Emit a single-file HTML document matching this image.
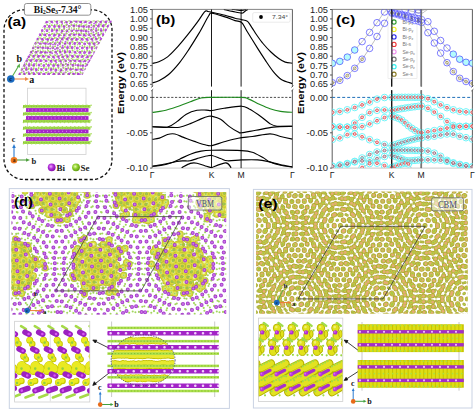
<!DOCTYPE html><html><head><meta charset="utf-8"><style>html,body{margin:0;padding:0;background:#fff;}svg{display:block;}</style></head><body>
<svg width="476" height="414" viewBox="0 0 476 414">
<rect width="476" height="414" fill="#fff"/>
<g fill="none" stroke="#333" stroke-width="0.8">
<line x1="152.2" y1="9.4" x2="292.4" y2="9.4" stroke="#666"/>
<line x1="152.2" y1="9.4" x2="152.2" y2="86.6"/>
<line x1="292.4" y1="9.4" x2="292.4" y2="86.6"/>
<line x1="152.2" y1="90.2" x2="152.2" y2="168.1"/>
<line x1="292.4" y1="90.2" x2="292.4" y2="168.1"/>
<line x1="152.2" y1="168.1" x2="292.4" y2="168.1" stroke="#bbb"/>
<path d="M151.2 87.4 l2 -1.8" />
<path d="M151.2 91 l2 -1.8" />
<path d="M291.4 87.4 l2 -1.8" />
<path d="M291.4 91 l2 -1.8" />
<line x1="150" y1="9.5" x2="152.2" y2="9.5"/>
<line x1="150" y1="18.9" x2="152.2" y2="18.9"/>
<line x1="150" y1="28.2" x2="152.2" y2="28.2"/>
<line x1="150" y1="37.6" x2="152.2" y2="37.6"/>
<line x1="150" y1="46.9" x2="152.2" y2="46.9"/>
<line x1="150" y1="56.2" x2="152.2" y2="56.2"/>
<line x1="150" y1="65.6" x2="152.2" y2="65.6"/>
<line x1="150" y1="75" x2="152.2" y2="75"/>
<line x1="150" y1="84.3" x2="152.2" y2="84.3"/>
<line x1="150" y1="97.4" x2="152.2" y2="97.4"/>
<line x1="150" y1="132.8" x2="152.2" y2="132.8"/>
<line x1="150" y1="168.1" x2="152.2" y2="168.1"/>
</g>
<g font-family="Liberation Sans, sans-serif" font-size="8.6" fill="#222" text-anchor="end">
<text x="148" y="12.6" textLength="18" lengthAdjust="spacingAndGlyphs">1.05</text>
<text x="148" y="22" textLength="18" lengthAdjust="spacingAndGlyphs">1.00</text>
<text x="148" y="31.3" textLength="18" lengthAdjust="spacingAndGlyphs">0.95</text>
<text x="148" y="40.7" textLength="18" lengthAdjust="spacingAndGlyphs">0.90</text>
<text x="148" y="50" textLength="18" lengthAdjust="spacingAndGlyphs">0.85</text>
<text x="148" y="59.4" textLength="18" lengthAdjust="spacingAndGlyphs">0.80</text>
<text x="148" y="68.7" textLength="18" lengthAdjust="spacingAndGlyphs">0.75</text>
<text x="148" y="78.1" textLength="18" lengthAdjust="spacingAndGlyphs">0.70</text>
<text x="148" y="87.4" textLength="18" lengthAdjust="spacingAndGlyphs">0.65</text>
<text x="148" y="100.5" textLength="18" lengthAdjust="spacingAndGlyphs">0.00</text>
<text x="148" y="135.8" textLength="21.5" lengthAdjust="spacingAndGlyphs">-0.05</text>
<text x="148" y="171.2" textLength="21.5" lengthAdjust="spacingAndGlyphs">-0.10</text>
</g>
<g font-family="Liberation Sans, sans-serif" font-size="8.6" fill="#222" text-anchor="middle">
<text x="152.2" y="177.8">Γ</text>
<text x="211.5" y="177.8">K</text>
<text x="241.1" y="177.8">M</text>
<text x="292.4" y="177.8">Γ</text>
</g>
<text transform="translate(124.2 83) rotate(-90)" font-family="Liberation Sans, sans-serif" font-weight="bold" font-size="9" text-anchor="middle" textLength="62" lengthAdjust="spacingAndGlyphs">Energy (eV)</text>
<g stroke="#000" stroke-width="0.9">
<line x1="211.5" y1="9.4" x2="211.5" y2="86.6"/>
<line x1="211.5" y1="90.2" x2="211.5" y2="168.1"/>
<line x1="241.1" y1="9.4" x2="241.1" y2="86.6"/>
<line x1="241.1" y1="90.2" x2="241.1" y2="168.1"/>
</g>
<text x="156" y="24.2" font-family="Liberation Sans, sans-serif" font-weight="bold" font-size="12.6" textLength="19.3" lengthAdjust="spacingAndGlyphs">(b)</text>
<defs><clipPath id="cupb"><rect x="152.2" y="9.4" width="140.2" height="77.2"/></clipPath><clipPath id="clob"><rect x="152.2" y="90.2" width="140.2" height="77.9"/></clipPath><clipPath id="cupc"><rect x="332.2" y="9.4" width="140.2" height="77.2"/></clipPath><clipPath id="cloc"><rect x="332.2" y="90.2" width="140.2" height="77.9"/></clipPath></defs>
<line x1="152.2" y1="97.4" x2="292.4" y2="97.4" stroke="#000" stroke-width="0.7" stroke-dasharray="2.2 1.6"/>
<g fill="none" stroke="#000" stroke-width="1.15" stroke-linejoin="round" clip-path="url(#cupb)">
<path d="M152.4 63.4C153.5 63.1 156.3 62.9 158.8 61.8C161.3 60.7 164.5 59.3 167.6 56.9C170.7 54.5 174.1 50.7 177.4 47.1C180.7 43.5 183.9 39.5 187.2 35.4C190.5 31.3 194.1 26.7 197 22.7C199.9 18.7 203 13.5 204.8 11.6C206.6 9.7 206.8 11.4 208 11.5C209.2 11.6 209.1 11.6 211.9 12.2C214.7 12.8 221.2 14.2 225 15.2C228.8 16.2 232.2 17.5 235 18.2C237.8 18.9 239.6 19.1 241.6 19.6C243.6 20.1 245.7 20.4 246.9 21C248.1 21.6 247.8 21.5 249 23.2C250.2 24.9 252.9 29.2 254.1 31C255.3 32.8 254.5 31.9 256 34C257.5 36.1 260.5 40.5 263 43.5C265.5 46.5 268.3 49.5 270.9 52C273.5 54.5 276.3 56.8 278.7 58.5C281.1 60.2 282.9 61.3 285.2 62.1C287.5 62.9 291.2 63 292.4 63.2"/>
<path d="M152.4 82.8C153.5 82.5 156.1 82.2 158.8 80.8C161.5 79.4 165.2 77.5 168.6 74.5C172 71.5 176 67 179.4 62.8C182.8 58.6 185.8 54 189.1 49.1C192.3 44.2 195.6 38.9 198.9 33.4C202.2 27.8 206.5 19.2 208.7 15.8C210.9 12.4 209.2 13 211.9 13.2C214.6 13.4 221.2 15.7 225 16.9C228.8 18.1 232.2 19.7 235 20.6C237.8 21.5 239.6 20.7 241.6 22.5C243.6 24.3 244.3 26.8 247 31.2C249.7 35.5 254.7 43.7 257.8 48.6C260.9 53.5 263 56.7 265.6 60.6C268.2 64.5 270.9 68.7 273.5 71.8C276.1 74.9 278.2 77.4 281.3 79.4C284.4 81.4 290.5 82.9 292.4 83.6"/>
<path d="M223.8 9.4C225.2 9.7 229.5 10.8 232.5 11.4C235.5 12 239.5 13.1 241.6 13.1C243.7 13.1 243.8 12 244.8 11.4C245.8 10.8 247.3 9.7 247.8 9.4"/>
<path d="M231.8 9.4C232.7 9.5 235.4 9.7 237 9.9C238.6 10.1 240.1 10.5 241.6 10.4C243.1 10.3 245.3 9.6 246 9.4"/>
</g>
<g fill="none" stroke="#000" stroke-width="1.15" stroke-linejoin="round" clip-path="url(#clob)">
<path d="M152.4 126.7C154.9 126.8 163.4 127.9 167.5 127.1C171.6 126.2 173.8 123.8 176.9 121.6C180 119.4 183 116.1 186.3 114.2C189.7 112.3 193.6 111 197 110.3C200.4 109.6 204 110.1 206.5 110.1C209 110.1 209 110.8 211.9 110.5C214.8 110.2 219.2 108.9 224.1 108.2C229 107.5 237.5 106.1 241.6 106.2C245.7 106.3 245.6 107 248.8 108.8C252.1 110.5 257.6 114.2 261.1 116.7C264.6 119.2 267.4 122.1 270 123.7C272.6 125.3 273.3 125.8 277 126.2C280.7 126.6 289.8 126.2 292.4 126.2"/>
<path d="M152.4 126.7C154.9 126.8 163 127.1 167.5 127.2C172 127.3 175.8 127.8 179.6 127.2C183.4 126.6 186.7 125 190.3 123.6C193.9 122.2 198.2 120.1 201.1 118.9C204 117.7 206 116.9 207.8 116.5C209.6 116.1 209.8 115.8 211.9 116.3C214 116.8 217.7 117.6 220.6 119.3C223.5 121 226.5 124.5 229.4 126.6C232.3 128.7 236.2 131.1 238.2 132.1C240.2 133.1 238.6 133.1 241.6 132.8C244.6 132.5 250.6 131.2 255.9 130.3C261.2 129.4 267.4 127.8 273.5 127.1C279.6 126.4 289.2 126.4 292.4 126.3"/>
<path d="M152.4 139.4C153.6 139.2 156.9 138.9 159.4 138.1C161.9 137.3 164.9 135.2 167.5 134.5C170.1 133.8 172.2 133.5 174.9 134C177.6 134.5 180.3 136.2 183.6 137.4C186.8 138.6 190.8 140.2 194.4 141.4C198 142.6 202.2 144.1 205.1 144.8C208 145.5 208.7 146.1 211.9 145.6C215.1 145.1 219.7 143 224.1 141.8C228.5 140.6 233.5 139.1 238.2 138.2C242.9 137.3 247 137.2 252.3 136.5C257.6 135.8 265.3 133.8 270 133.8C274.7 133.8 276.8 135.6 280.5 136.5C284.2 137.4 290.4 138.7 292.4 139.1"/>
<path d="M152.4 166.3C153.8 166.2 157.8 165.9 160.8 165.4C163.8 164.9 167.1 164.2 170.2 163.2C173.3 162.2 176.2 160.7 179.6 159.2C182.9 157.7 186.7 155.5 190.3 154.2C193.9 152.8 197.5 151.8 201.1 151.1C204.7 150.4 205.2 150.3 211.9 150.2C218.7 150.1 234.9 150.2 241.6 150.6C248.3 150.9 248.8 151.1 252.3 152.3C255.9 153.5 259.9 156 262.9 157.6C265.8 159.2 267.1 160.7 270 162C272.9 163.3 276.8 164.4 280.5 165.2C284.2 166 290.4 166.6 292.4 166.9"/>
<path d="M152.4 166.3C154.5 165.9 160.9 164.8 165 164C169.1 163.2 173.9 162 176.9 161.5C179.9 161 180.8 161 183 160.9C185.2 160.8 187.7 161.2 190 160.8C192.3 160.4 194.2 159.4 197 158.6C199.8 157.8 204 156.5 206.5 156C209 155.5 209.6 155.1 211.9 155.5C214.2 155.9 218 157.6 220.6 158.5C223.2 159.4 224.1 160.6 227.6 160.8C231.1 161 236.6 160.1 241.6 159.9C246.6 159.8 253.2 159.6 257.6 159.9C262 160.2 264.5 160.8 268.2 161.6C271.9 162.4 276 163.6 280 164.5C284 165.4 290.3 166.5 292.4 166.9"/>
<path d="M181.6 167.8C183.1 167.1 187.7 164.2 190.3 163.4C192.9 162.6 194.3 162.7 197 163.2C199.7 163.7 204 165.5 206.5 166.3C209 167.1 211 167.6 211.9 167.8"/>
<path d="M211.9 167.5C214.2 166.7 222.7 162.8 225.9 162.9C229.1 163 230.3 167 231.2 167.8"/>
<path d="M152.4 112.4C154.2 112.1 159.3 111.7 163.4 110.8C167.5 109.9 172.4 108.3 176.9 106.8C181.4 105.3 186.3 103.2 190.3 101.7C194.3 100.2 197.5 98.7 201.1 98C204.7 97.3 205.2 97.5 211.9 97.4C218.7 97.3 235.4 97.1 241.6 97.4C247.8 97.7 245.8 97.9 248.8 99.1C251.8 100.2 255.9 102.7 259.4 104.3C262.9 105.9 266.5 107.6 270 108.8C273.5 110 276.8 110.8 280.5 111.4C284.2 112 290.4 112.2 292.4 112.3" stroke="#1f8a1f"/>
</g>
<rect x="252.7" y="12.6" width="37.4" height="9.6" rx="1.5" fill="#fff" stroke="#ddd" stroke-width="0.6"/>
<circle cx="261" cy="17" r="1.9" fill="#000"/>
<text x="272" y="19.4" font-family="Liberation Sans, sans-serif" font-size="6" fill="#444" textLength="16" lengthAdjust="spacingAndGlyphs">7.34°</text>
<g fill="none" stroke="#333" stroke-width="0.8">
<line x1="332.2" y1="9.4" x2="472.4" y2="9.4" stroke="#666"/>
<line x1="332.2" y1="9.4" x2="332.2" y2="86.6"/>
<line x1="472.4" y1="9.4" x2="472.4" y2="86.6"/>
<line x1="332.2" y1="90.2" x2="332.2" y2="168.1"/>
<line x1="472.4" y1="90.2" x2="472.4" y2="168.1"/>
<line x1="332.2" y1="168.1" x2="472.4" y2="168.1" stroke="#bbb"/>
<path d="M331.2 87.4 l2 -1.8" />
<path d="M331.2 91 l2 -1.8" />
<path d="M471.4 87.4 l2 -1.8" />
<path d="M471.4 91 l2 -1.8" />
<line x1="330" y1="9.5" x2="332.2" y2="9.5"/>
<line x1="330" y1="18.9" x2="332.2" y2="18.9"/>
<line x1="330" y1="28.2" x2="332.2" y2="28.2"/>
<line x1="330" y1="37.6" x2="332.2" y2="37.6"/>
<line x1="330" y1="46.9" x2="332.2" y2="46.9"/>
<line x1="330" y1="56.2" x2="332.2" y2="56.2"/>
<line x1="330" y1="65.6" x2="332.2" y2="65.6"/>
<line x1="330" y1="75" x2="332.2" y2="75"/>
<line x1="330" y1="84.3" x2="332.2" y2="84.3"/>
<line x1="330" y1="97.4" x2="332.2" y2="97.4"/>
<line x1="330" y1="132.8" x2="332.2" y2="132.8"/>
<line x1="330" y1="168.1" x2="332.2" y2="168.1"/>
</g>
<g font-family="Liberation Sans, sans-serif" font-size="8.6" fill="#222" text-anchor="end">
<text x="328" y="12.6" textLength="18" lengthAdjust="spacingAndGlyphs">1.05</text>
<text x="328" y="22" textLength="18" lengthAdjust="spacingAndGlyphs">1.00</text>
<text x="328" y="31.3" textLength="18" lengthAdjust="spacingAndGlyphs">0.95</text>
<text x="328" y="40.7" textLength="18" lengthAdjust="spacingAndGlyphs">0.90</text>
<text x="328" y="50" textLength="18" lengthAdjust="spacingAndGlyphs">0.85</text>
<text x="328" y="59.4" textLength="18" lengthAdjust="spacingAndGlyphs">0.80</text>
<text x="328" y="68.7" textLength="18" lengthAdjust="spacingAndGlyphs">0.75</text>
<text x="328" y="78.1" textLength="18" lengthAdjust="spacingAndGlyphs">0.70</text>
<text x="328" y="87.4" textLength="18" lengthAdjust="spacingAndGlyphs">0.65</text>
<text x="328" y="100.5" textLength="18" lengthAdjust="spacingAndGlyphs">0.00</text>
<text x="328" y="135.8" textLength="21.5" lengthAdjust="spacingAndGlyphs">-0.05</text>
<text x="328" y="171.2" textLength="21.5" lengthAdjust="spacingAndGlyphs">-0.10</text>
</g>
<g font-family="Liberation Sans, sans-serif" font-size="8.6" fill="#222" text-anchor="middle">
<text x="332.2" y="177.8">Γ</text>
<text x="391.5" y="177.8">K</text>
<text x="421.1" y="177.8">M</text>
<text x="472.4" y="177.8">Γ</text>
</g>
<text transform="translate(304.2 83) rotate(-90)" font-family="Liberation Sans, sans-serif" font-weight="bold" font-size="9" text-anchor="middle" textLength="62" lengthAdjust="spacingAndGlyphs">Energy (eV)</text>
<g stroke="#000" stroke-width="0.9">
<line x1="391.5" y1="9.4" x2="391.5" y2="86.6"/>
<line x1="391.5" y1="90.2" x2="391.5" y2="168.1"/>
<line x1="421.1" y1="9.4" x2="421.1" y2="86.6"/>
<line x1="421.1" y1="90.2" x2="421.1" y2="168.1"/>
</g>
<text x="336" y="24.2" font-family="Liberation Sans, sans-serif" font-weight="bold" font-size="12.6" textLength="19.3" lengthAdjust="spacingAndGlyphs">(c)</text>
<line x1="332.2" y1="97.4" x2="472.4" y2="97.4" stroke="#1f6fb8" stroke-width="1" stroke-dasharray="3 2"/>
<g fill="none" stroke="#8a8a8a" stroke-width="0.55" transform="translate(180 0)">
<g clip-path="url(#cupb)">
<path d="M152.4 63.4C153.5 63.1 156.3 62.9 158.8 61.8C161.3 60.7 164.5 59.3 167.6 56.9C170.7 54.5 174.1 50.7 177.4 47.1C180.7 43.5 183.9 39.5 187.2 35.4C190.5 31.3 194.1 26.7 197 22.7C199.9 18.7 203 13.5 204.8 11.6C206.6 9.7 206.8 11.4 208 11.5C209.2 11.6 209.1 11.6 211.9 12.2C214.7 12.8 221.2 14.2 225 15.2C228.8 16.2 232.2 17.5 235 18.2C237.8 18.9 239.6 19.1 241.6 19.6C243.6 20.1 245.7 20.4 246.9 21C248.1 21.6 247.8 21.5 249 23.2C250.2 24.9 252.9 29.2 254.1 31C255.3 32.8 254.5 31.9 256 34C257.5 36.1 260.5 40.5 263 43.5C265.5 46.5 268.3 49.5 270.9 52C273.5 54.5 276.3 56.8 278.7 58.5C281.1 60.2 282.9 61.3 285.2 62.1C287.5 62.9 291.2 63 292.4 63.2"/>
<path d="M152.4 82.8C153.5 82.5 156.1 82.2 158.8 80.8C161.5 79.4 165.2 77.5 168.6 74.5C172 71.5 176 67 179.4 62.8C182.8 58.6 185.8 54 189.1 49.1C192.3 44.2 195.6 38.9 198.9 33.4C202.2 27.8 206.5 19.2 208.7 15.8C210.9 12.4 209.2 13 211.9 13.2C214.6 13.4 221.2 15.7 225 16.9C228.8 18.1 232.2 19.7 235 20.6C237.8 21.5 239.6 20.7 241.6 22.5C243.6 24.3 244.3 26.8 247 31.2C249.7 35.5 254.7 43.7 257.8 48.6C260.9 53.5 263 56.7 265.6 60.6C268.2 64.5 270.9 68.7 273.5 71.8C276.1 74.9 278.2 77.4 281.3 79.4C284.4 81.4 290.5 82.9 292.4 83.6"/>
<path d="M223.8 9.4C225.2 9.7 229.5 10.8 232.5 11.4C235.5 12 239.5 13.1 241.6 13.1C243.7 13.1 243.8 12 244.8 11.4C245.8 10.8 247.3 9.7 247.8 9.4"/>
<path d="M231.8 9.4C232.7 9.5 235.4 9.7 237 9.9C238.6 10.1 240.1 10.5 241.6 10.4C243.1 10.3 245.3 9.6 246 9.4"/>
</g><g clip-path="url(#clob)">
<path d="M152.4 126.7C154.9 126.8 163.4 127.9 167.5 127.1C171.6 126.2 173.8 123.8 176.9 121.6C180 119.4 183 116.1 186.3 114.2C189.7 112.3 193.6 111 197 110.3C200.4 109.6 204 110.1 206.5 110.1C209 110.1 209 110.8 211.9 110.5C214.8 110.2 219.2 108.9 224.1 108.2C229 107.5 237.5 106.1 241.6 106.2C245.7 106.3 245.6 107 248.8 108.8C252.1 110.5 257.6 114.2 261.1 116.7C264.6 119.2 267.4 122.1 270 123.7C272.6 125.3 273.3 125.8 277 126.2C280.7 126.6 289.8 126.2 292.4 126.2"/>
<path d="M152.4 126.7C154.9 126.8 163 127.1 167.5 127.2C172 127.3 175.8 127.8 179.6 127.2C183.4 126.6 186.7 125 190.3 123.6C193.9 122.2 198.2 120.1 201.1 118.9C204 117.7 206 116.9 207.8 116.5C209.6 116.1 209.8 115.8 211.9 116.3C214 116.8 217.7 117.6 220.6 119.3C223.5 121 226.5 124.5 229.4 126.6C232.3 128.7 236.2 131.1 238.2 132.1C240.2 133.1 238.6 133.1 241.6 132.8C244.6 132.5 250.6 131.2 255.9 130.3C261.2 129.4 267.4 127.8 273.5 127.1C279.6 126.4 289.2 126.4 292.4 126.3"/>
<path d="M152.4 139.4C153.6 139.2 156.9 138.9 159.4 138.1C161.9 137.3 164.9 135.2 167.5 134.5C170.1 133.8 172.2 133.5 174.9 134C177.6 134.5 180.3 136.2 183.6 137.4C186.8 138.6 190.8 140.2 194.4 141.4C198 142.6 202.2 144.1 205.1 144.8C208 145.5 208.7 146.1 211.9 145.6C215.1 145.1 219.7 143 224.1 141.8C228.5 140.6 233.5 139.1 238.2 138.2C242.9 137.3 247 137.2 252.3 136.5C257.6 135.8 265.3 133.8 270 133.8C274.7 133.8 276.8 135.6 280.5 136.5C284.2 137.4 290.4 138.7 292.4 139.1"/>
<path d="M152.4 166.3C153.8 166.2 157.8 165.9 160.8 165.4C163.8 164.9 167.1 164.2 170.2 163.2C173.3 162.2 176.2 160.7 179.6 159.2C182.9 157.7 186.7 155.5 190.3 154.2C193.9 152.8 197.5 151.8 201.1 151.1C204.7 150.4 205.2 150.3 211.9 150.2C218.7 150.1 234.9 150.2 241.6 150.6C248.3 150.9 248.8 151.1 252.3 152.3C255.9 153.5 259.9 156 262.9 157.6C265.8 159.2 267.1 160.7 270 162C272.9 163.3 276.8 164.4 280.5 165.2C284.2 166 290.4 166.6 292.4 166.9"/>
<path d="M152.4 166.3C154.5 165.9 160.9 164.8 165 164C169.1 163.2 173.9 162 176.9 161.5C179.9 161 180.8 161 183 160.9C185.2 160.8 187.7 161.2 190 160.8C192.3 160.4 194.2 159.4 197 158.6C199.8 157.8 204 156.5 206.5 156C209 155.5 209.6 155.1 211.9 155.5C214.2 155.9 218 157.6 220.6 158.5C223.2 159.4 224.1 160.6 227.6 160.8C231.1 161 236.6 160.1 241.6 159.9C246.6 159.8 253.2 159.6 257.6 159.9C262 160.2 264.5 160.8 268.2 161.6C271.9 162.4 276 163.6 280 164.5C284 165.4 290.3 166.5 292.4 166.9"/>
<path d="M181.6 167.8C183.1 167.1 187.7 164.2 190.3 163.4C192.9 162.6 194.3 162.7 197 163.2C199.7 163.7 204 165.5 206.5 166.3C209 167.1 211 167.6 211.9 167.8"/>
<path d="M211.9 167.5C214.2 166.7 222.7 162.8 225.9 162.9C229.1 163 230.3 167 231.2 167.8"/>
<path d="M152.4 112.4C154.2 112.1 159.3 111.7 163.4 110.8C167.5 109.9 172.4 108.3 176.9 106.8C181.4 105.3 186.3 103.2 190.3 101.7C194.3 100.2 197.5 98.7 201.1 98C204.7 97.3 205.2 97.5 211.9 97.4C218.7 97.3 235.4 97.1 241.6 97.4C247.8 97.7 245.8 97.9 248.8 99.1C251.8 100.2 255.9 102.7 259.4 104.3C262.9 105.9 266.5 107.6 270 108.8C273.5 110 276.8 110.8 280.5 111.4C284.2 112 290.4 112.2 292.4 112.3"/>
</g></g>
<rect x="388" y="14.5" width="29" height="64" fill="#fff" fill-opacity="0.8" stroke="#ddd" stroke-width="0.5"/>
<circle cx="394" cy="22" r="2.1" fill="none" stroke="#2a9a2a" stroke-width="1.1"/>
<text x="402.5" y="23.7" font-family="Liberation Sans, sans-serif" font-size="5" fill="#777">Bi-p<tspan font-size="3.5" dy="1">x</tspan></text>
<circle cx="394" cy="29.4" r="2.1" fill="none" stroke="#f0f020" stroke-width="1.1"/>
<text x="402.5" y="31.1" font-family="Liberation Sans, sans-serif" font-size="5" fill="#777">Bi-p<tspan font-size="3.5" dy="1">y</tspan></text>
<circle cx="394" cy="36.9" r="2.1" fill="none" stroke="#2020f0" stroke-width="1.1"/>
<text x="402.5" y="38.6" font-family="Liberation Sans, sans-serif" font-size="5" fill="#777">Bi-p<tspan font-size="3.5" dy="1">z</tspan></text>
<circle cx="394" cy="44.4" r="2.1" fill="none" stroke="#f03030" stroke-width="1.1"/>
<text x="402.5" y="46.1" font-family="Liberation Sans, sans-serif" font-size="5" fill="#777">Bi-s<tspan font-size="3.5" dy="1"></tspan></text>
<circle cx="394" cy="51.8" r="2.1" fill="none" stroke="#f090f0" stroke-width="1.1"/>
<text x="402.5" y="53.5" font-family="Liberation Sans, sans-serif" font-size="5" fill="#777">Se-p<tspan font-size="3.5" dy="1">x</tspan></text>
<circle cx="394" cy="59.2" r="2.1" fill="none" stroke="#707070" stroke-width="1.1"/>
<text x="402.5" y="61" font-family="Liberation Sans, sans-serif" font-size="5" fill="#777">Se-p<tspan font-size="3.5" dy="1">y</tspan></text>
<circle cx="394" cy="66.7" r="2.1" fill="none" stroke="#30f0f0" stroke-width="1.1"/>
<text x="402.5" y="68.4" font-family="Liberation Sans, sans-serif" font-size="5" fill="#777">Se-p<tspan font-size="3.5" dy="1">z</tspan></text>
<circle cx="394" cy="74.2" r="2.1" fill="none" stroke="#8a7a20" stroke-width="1.1"/>
<text x="402.5" y="75.9" font-family="Liberation Sans, sans-serif" font-size="5" fill="#777">Se-s<tspan font-size="3.5" dy="1"></tspan></text>
<g clip-path="url(#cupc)">
<g fill="none" stroke-width="0.65">
<circle cx="332.4" cy="63.4" r="3.3" stroke="#3a3aff" fill="#b4fcfc"/>
<circle cx="339.8" cy="61.4" r="3.3" stroke="#3a3aff" fill="#b4fcfc"/>
<circle cx="347.3" cy="57.1" r="3.3" stroke="#3a3aff" fill="#b4fcfc"/>
<circle cx="354.7" cy="50" r="3.3" stroke="#3a3aff" fill="#b4fcfc"/>
<circle cx="362.1" cy="41.6" r="3.3" stroke="#3a3aff" fill="none"/>
<circle cx="369.6" cy="32.4" r="3.3" stroke="#3a3aff" fill="none"/>
<circle cx="377" cy="22.7" r="3.3" stroke="#3a3aff" fill="none"/>
<circle cx="384.5" cy="12" r="3.3" stroke="#3a3aff" fill="none"/>
<circle cx="391.9" cy="12.2" r="3.3" stroke="#3a3aff" fill="none" stroke-width="0.5"/>
<circle cx="391.9" cy="12.2" r="1.1" stroke="#6a6a50"/>
<circle cx="395.2" cy="12.9" r="3.3" stroke="#3a3aff" fill="none" stroke-width="0.5"/>
<circle cx="398.5" cy="13.7" r="3.3" stroke="#3a3aff" fill="none" stroke-width="0.5"/>
<circle cx="398.5" cy="13.7" r="1.1" stroke="#6a6a50"/>
<circle cx="401.8" cy="14.4" r="3.3" stroke="#3a3aff" fill="none" stroke-width="0.5"/>
<circle cx="405.1" cy="15.2" r="3.3" stroke="#3a3aff" fill="none" stroke-width="0.5"/>
<circle cx="405.1" cy="15.2" r="1.1" stroke="#6a6a50"/>
<circle cx="408.4" cy="16.2" r="3.3" stroke="#3a3aff" fill="none" stroke-width="0.5"/>
<circle cx="411.7" cy="17.2" r="3.3" stroke="#3a3aff" fill="none" stroke-width="0.5"/>
<circle cx="411.7" cy="17.2" r="1.1" stroke="#6a6a50"/>
<circle cx="415" cy="18.2" r="3.3" stroke="#3a3aff" fill="none" stroke-width="0.5"/>
<circle cx="418.3" cy="18.9" r="3.3" stroke="#3a3aff" fill="none" stroke-width="0.5"/>
<circle cx="418.3" cy="18.9" r="1.1" stroke="#6a6a50"/>
<circle cx="421.6" cy="19.6" r="3.3" stroke="#3a3aff" fill="none" stroke-width="0.5"/>
<circle cx="427.9" cy="21.7" r="3.3" stroke="#3a3aff" fill="none"/>
<circle cx="434.3" cy="31.3" r="3.3" stroke="#3a3aff" fill="none"/>
<circle cx="440.6" cy="40.5" r="3.3" stroke="#3a3aff" fill="none"/>
<circle cx="447" cy="48" r="3.3" stroke="#3a3aff" fill="none"/>
<circle cx="453.3" cy="54.2" r="3.3" stroke="#3a3aff" fill="#b4fcfc"/>
<circle cx="459.7" cy="59.2" r="3.3" stroke="#3a3aff" fill="#b4fcfc"/>
<circle cx="466" cy="62.3" r="3.3" stroke="#3a3aff" fill="#b4fcfc"/>
<circle cx="472.4" cy="63.2" r="3.3" stroke="#3a3aff" fill="#b4fcfc"/>
<circle cx="332.4" cy="82.8" r="3.3" stroke="#3a3aff" fill="none"/>
<circle cx="332.4" cy="82.8" r="1.4" stroke="#8c7a2a"/>
<circle cx="339.8" cy="80.3" r="3.3" stroke="#3a3aff" fill="none"/>
<circle cx="339.8" cy="80.3" r="1.4" stroke="#8c7a2a"/>
<circle cx="347.3" cy="75.6" r="3.3" stroke="#3a3aff" fill="none"/>
<circle cx="347.3" cy="75.6" r="1.4" stroke="#8c7a2a"/>
<circle cx="354.7" cy="68.3" r="3.3" stroke="#3a3aff" fill="none"/>
<circle cx="354.7" cy="68.3" r="1.4" stroke="#8c7a2a"/>
<circle cx="362.1" cy="59.2" r="3.3" stroke="#3a3aff" fill="none"/>
<circle cx="362.1" cy="59.2" r="1.4" stroke="#8c7a2a"/>
<circle cx="369.6" cy="48.4" r="3.3" stroke="#3a3aff" fill="none"/>
<circle cx="377" cy="36.5" r="3.3" stroke="#3a3aff" fill="none"/>
<circle cx="384.5" cy="23.3" r="3.3" stroke="#3a3aff" fill="none"/>
<circle cx="391.9" cy="13.2" r="3.3" stroke="#3a3aff" fill="none" stroke-width="0.5"/>
<circle cx="391.9" cy="13.2" r="1.1" stroke="#6a6a50"/>
<circle cx="395.2" cy="13.9" r="3.3" stroke="#3a3aff" fill="none" stroke-width="0.5"/>
<circle cx="398.5" cy="14.8" r="3.3" stroke="#3a3aff" fill="none" stroke-width="0.5"/>
<circle cx="398.5" cy="14.8" r="1.1" stroke="#6a6a50"/>
<circle cx="401.8" cy="15.9" r="3.3" stroke="#3a3aff" fill="none" stroke-width="0.5"/>
<circle cx="405.1" cy="16.9" r="3.3" stroke="#3a3aff" fill="none" stroke-width="0.5"/>
<circle cx="405.1" cy="16.9" r="1.1" stroke="#6a6a50"/>
<circle cx="408.4" cy="18.1" r="3.3" stroke="#3a3aff" fill="none" stroke-width="0.5"/>
<circle cx="411.7" cy="19.4" r="3.3" stroke="#3a3aff" fill="none" stroke-width="0.5"/>
<circle cx="411.7" cy="19.4" r="1.1" stroke="#6a6a50"/>
<circle cx="415" cy="20.6" r="3.3" stroke="#3a3aff" fill="none" stroke-width="0.5"/>
<circle cx="418.3" cy="21.2" r="3.3" stroke="#3a3aff" fill="none" stroke-width="0.5"/>
<circle cx="418.3" cy="21.2" r="1.1" stroke="#6a6a50"/>
<circle cx="421.6" cy="22.5" r="3.3" stroke="#3a3aff" fill="none" stroke-width="0.5"/>
<circle cx="427.9" cy="32.7" r="3.3" stroke="#3a3aff" fill="none"/>
<circle cx="434.3" cy="43" r="3.3" stroke="#3a3aff" fill="none"/>
<circle cx="440.6" cy="53.1" r="3.3" stroke="#3a3aff" fill="none"/>
<circle cx="447" cy="62.7" r="3.3" stroke="#3a3aff" fill="none"/>
<circle cx="447" cy="62.7" r="1.4" stroke="#8c7a2a"/>
<circle cx="453.3" cy="71.6" r="3.3" stroke="#3a3aff" fill="none"/>
<circle cx="453.3" cy="71.6" r="1.4" stroke="#8c7a2a"/>
<circle cx="459.7" cy="78.3" r="3.3" stroke="#3a3aff" fill="none"/>
<circle cx="459.7" cy="78.3" r="1.4" stroke="#8c7a2a"/>
<circle cx="466" cy="81.5" r="3.3" stroke="#3a3aff" fill="none"/>
<circle cx="466" cy="81.5" r="1.4" stroke="#8c7a2a"/>
<circle cx="472.4" cy="83.6" r="3.3" stroke="#3a3aff" fill="none"/>
<circle cx="472.4" cy="83.6" r="1.4" stroke="#8c7a2a"/>
<circle cx="405.1" cy="9.7" r="3.3" stroke="#3a3aff" fill="none" stroke-width="0.5"/>
<circle cx="411.7" cy="11.2" r="3.3" stroke="#3a3aff" fill="none" stroke-width="0.5"/>
<circle cx="418.3" cy="12.7" r="3.3" stroke="#3a3aff" fill="none" stroke-width="0.5"/>
<circle cx="418.3" cy="10.1" r="3.3" stroke="#3a3aff" fill="none" stroke-width="0.5"/>
</g></g>
<g clip-path="url(#cloc)">
<g fill="none">
<circle cx="332.4" cy="126.7" r="3.3" stroke="#6cf2f8" stroke-width="0.95"/>
<circle cx="332.4" cy="126.7" r="1.4" stroke="#e84848" stroke-width="0.8" fill="#f0c8d0"/>
<circle cx="339.8" cy="127.3" r="3.3" stroke="#6cf2f8" stroke-width="0.95"/>
<circle cx="339.8" cy="127.3" r="1.4" stroke="#e84848" stroke-width="0.8" fill="#f0c8d0"/>
<circle cx="347.3" cy="127.1" r="3.3" stroke="#6cf2f8" stroke-width="0.95"/>
<circle cx="347.3" cy="127.1" r="1.4" stroke="#e84848" stroke-width="0.8" fill="#f0c8d0"/>
<circle cx="354.7" cy="123.2" r="3.3" stroke="#6cf2f8" stroke-width="0.95"/>
<circle cx="354.7" cy="123.2" r="1.4" stroke="#e84848" stroke-width="0.8" fill="#f0c8d0"/>
<circle cx="362.1" cy="117.3" r="3.3" stroke="#6cf2f8" stroke-width="0.95"/>
<circle cx="362.1" cy="117.3" r="1.4" stroke="#e84848" stroke-width="0.8" fill="#f0c8d0"/>
<circle cx="369.6" cy="112.6" r="3.3" stroke="#6cf2f8" stroke-width="0.95"/>
<circle cx="369.6" cy="112.6" r="1.4" stroke="#e84848" stroke-width="0.8" fill="#f0c8d0"/>
<circle cx="377" cy="110.3" r="3.3" stroke="#6cf2f8" stroke-width="0.95"/>
<circle cx="377" cy="110.3" r="1.4" stroke="#e84848" stroke-width="0.8" fill="#f0c8d0"/>
<circle cx="384.5" cy="110" r="3.3" stroke="#6cf2f8" stroke-width="0.95"/>
<circle cx="384.5" cy="110" r="1.4" stroke="#e84848" stroke-width="0.8" fill="#f0c8d0"/>
<circle cx="391.9" cy="110.5" r="3.3" stroke="#6cf2f8" stroke-width="0.95"/>
<circle cx="391.9" cy="110.5" r="1.4" stroke="#e84848" stroke-width="0.8" fill="#f0c8d0"/>
<circle cx="395.2" cy="109.9" r="3.3" stroke="#6cf2f8" stroke-width="0.95"/>
<circle cx="395.2" cy="109.9" r="1.4" stroke="#e84848" stroke-width="0.8" fill="#f0c8d0"/>
<circle cx="398.5" cy="109.2" r="3.3" stroke="#6cf2f8" stroke-width="0.95"/>
<circle cx="398.5" cy="109.2" r="1.4" stroke="#e84848" stroke-width="0.8" fill="#f0c8d0"/>
<circle cx="401.8" cy="108.6" r="3.3" stroke="#6cf2f8" stroke-width="0.95"/>
<circle cx="401.8" cy="108.6" r="1.4" stroke="#e84848" stroke-width="0.8" fill="#f0c8d0"/>
<circle cx="405.1" cy="108.1" r="3.3" stroke="#6cf2f8" stroke-width="0.95"/>
<circle cx="405.1" cy="108.1" r="1.4" stroke="#e84848" stroke-width="0.8" fill="#f0c8d0"/>
<circle cx="408.4" cy="107.6" r="3.3" stroke="#6cf2f8" stroke-width="0.95"/>
<circle cx="408.4" cy="107.6" r="1.4" stroke="#e84848" stroke-width="0.8" fill="#f0c8d0"/>
<circle cx="411.7" cy="107.1" r="3.3" stroke="#6cf2f8" stroke-width="0.95"/>
<circle cx="411.7" cy="107.1" r="1.4" stroke="#e84848" stroke-width="0.8" fill="#f0c8d0"/>
<circle cx="415" cy="106.7" r="3.3" stroke="#6cf2f8" stroke-width="0.95"/>
<circle cx="415" cy="106.7" r="1.4" stroke="#e84848" stroke-width="0.8" fill="#f0c8d0"/>
<circle cx="418.3" cy="106.3" r="3.3" stroke="#6cf2f8" stroke-width="0.95"/>
<circle cx="418.3" cy="106.3" r="1.4" stroke="#e84848" stroke-width="0.8" fill="#f0c8d0"/>
<circle cx="421.6" cy="106.2" r="3.3" stroke="#6cf2f8" stroke-width="0.95"/>
<circle cx="421.6" cy="106.2" r="1.4" stroke="#e84848" stroke-width="0.8" fill="#f0c8d0"/>
<circle cx="427.9" cy="108.3" r="3.3" stroke="#6cf2f8" stroke-width="0.95"/>
<circle cx="427.9" cy="108.3" r="1.4" stroke="#e84848" stroke-width="0.8" fill="#f0c8d0"/>
<circle cx="434.3" cy="112.1" r="3.3" stroke="#6cf2f8" stroke-width="0.95"/>
<circle cx="434.3" cy="112.1" r="1.4" stroke="#e84848" stroke-width="0.8" fill="#f0c8d0"/>
<circle cx="440.6" cy="116.4" r="3.3" stroke="#6cf2f8" stroke-width="0.95"/>
<circle cx="440.6" cy="116.4" r="1.4" stroke="#e84848" stroke-width="0.8" fill="#f0c8d0"/>
<circle cx="447" cy="121.5" r="3.3" stroke="#6cf2f8" stroke-width="0.95"/>
<circle cx="447" cy="121.5" r="1.4" stroke="#e84848" stroke-width="0.8" fill="#f0c8d0"/>
<circle cx="453.3" cy="125.5" r="3.3" stroke="#6cf2f8" stroke-width="0.95"/>
<circle cx="453.3" cy="125.5" r="1.4" stroke="#e84848" stroke-width="0.8" fill="#f0c8d0"/>
<circle cx="459.7" cy="126.4" r="3.3" stroke="#6cf2f8" stroke-width="0.95"/>
<circle cx="459.7" cy="126.4" r="1.4" stroke="#e84848" stroke-width="0.8" fill="#f0c8d0"/>
<circle cx="466" cy="126.3" r="3.3" stroke="#6cf2f8" stroke-width="0.95"/>
<circle cx="466" cy="126.3" r="1.4" stroke="#e84848" stroke-width="0.8" fill="#f0c8d0"/>
<circle cx="472.4" cy="126.2" r="3.3" stroke="#6cf2f8" stroke-width="0.95"/>
<circle cx="472.4" cy="126.2" r="1.4" stroke="#e84848" stroke-width="0.8" fill="#f0c8d0"/>
<circle cx="332.4" cy="126.7" r="3.3" stroke="#6cf2f8" stroke-width="0.95"/>
<circle cx="332.4" cy="126.7" r="1.4" stroke="#e84848" stroke-width="0.8" fill="#f0c8d0"/>
<circle cx="339.8" cy="127" r="3.3" stroke="#6cf2f8" stroke-width="0.95"/>
<circle cx="339.8" cy="127" r="1.4" stroke="#e84848" stroke-width="0.8" fill="#f0c8d0"/>
<circle cx="347.3" cy="127.2" r="3.3" stroke="#6cf2f8" stroke-width="0.95"/>
<circle cx="347.3" cy="127.2" r="1.4" stroke="#e84848" stroke-width="0.8" fill="#f0c8d0"/>
<circle cx="354.7" cy="127.5" r="3.3" stroke="#6cf2f8" stroke-width="0.95"/>
<circle cx="354.7" cy="127.5" r="1.4" stroke="#e84848" stroke-width="0.8" fill="#f0c8d0"/>
<circle cx="362.1" cy="126.6" r="3.3" stroke="#6cf2f8" stroke-width="0.95"/>
<circle cx="362.1" cy="126.6" r="1.4" stroke="#e84848" stroke-width="0.8" fill="#f0c8d0"/>
<circle cx="369.6" cy="123.9" r="3.3" stroke="#6cf2f8" stroke-width="0.95"/>
<circle cx="369.6" cy="123.9" r="1.4" stroke="#e84848" stroke-width="0.8" fill="#f0c8d0"/>
<circle cx="377" cy="120.7" r="3.3" stroke="#6cf2f8" stroke-width="0.95"/>
<circle cx="377" cy="120.7" r="1.4" stroke="#e84848" stroke-width="0.8" fill="#f0c8d0"/>
<circle cx="384.5" cy="117.6" r="3.3" stroke="#6cf2f8" stroke-width="0.95"/>
<circle cx="384.5" cy="117.6" r="1.4" stroke="#e84848" stroke-width="0.8" fill="#f0c8d0"/>
<circle cx="391.9" cy="116.3" r="3.3" stroke="#6cf2f8" stroke-width="0.95"/>
<circle cx="391.9" cy="116.3" r="1.4" stroke="#e84848" stroke-width="0.8" fill="#f0c8d0"/>
<circle cx="395.2" cy="117.1" r="3.3" stroke="#6cf2f8" stroke-width="0.95"/>
<circle cx="395.2" cy="117.1" r="1.4" stroke="#e84848" stroke-width="0.8" fill="#f0c8d0"/>
<circle cx="398.5" cy="118.3" r="3.3" stroke="#6cf2f8" stroke-width="0.95"/>
<circle cx="398.5" cy="118.3" r="1.4" stroke="#e84848" stroke-width="0.8" fill="#f0c8d0"/>
<circle cx="401.8" cy="120.1" r="3.3" stroke="#6cf2f8" stroke-width="0.95"/>
<circle cx="401.8" cy="120.1" r="1.4" stroke="#e84848" stroke-width="0.8" fill="#f0c8d0"/>
<circle cx="405.1" cy="122.9" r="3.3" stroke="#6cf2f8" stroke-width="0.95"/>
<circle cx="405.1" cy="122.9" r="1.4" stroke="#e84848" stroke-width="0.8" fill="#f0c8d0"/>
<circle cx="408.4" cy="125.8" r="3.3" stroke="#6cf2f8" stroke-width="0.95"/>
<circle cx="408.4" cy="125.8" r="1.4" stroke="#e84848" stroke-width="0.8" fill="#f0c8d0"/>
<circle cx="411.7" cy="128.2" r="3.3" stroke="#6cf2f8" stroke-width="0.95"/>
<circle cx="411.7" cy="128.2" r="1.4" stroke="#e84848" stroke-width="0.8" fill="#f0c8d0"/>
<circle cx="415" cy="130.3" r="3.3" stroke="#6cf2f8" stroke-width="0.95"/>
<circle cx="415" cy="130.3" r="1.4" stroke="#e84848" stroke-width="0.8" fill="#f0c8d0"/>
<circle cx="418.3" cy="132.2" r="3.3" stroke="#6cf2f8" stroke-width="0.95"/>
<circle cx="418.3" cy="132.2" r="1.4" stroke="#e84848" stroke-width="0.8" fill="#f0c8d0"/>
<circle cx="421.6" cy="132.8" r="3.3" stroke="#6cf2f8" stroke-width="0.95"/>
<circle cx="421.6" cy="132.8" r="1.4" stroke="#e84848" stroke-width="0.8" fill="#f0c8d0"/>
<circle cx="427.9" cy="131.8" r="3.3" stroke="#6cf2f8" stroke-width="0.95"/>
<circle cx="427.9" cy="131.8" r="1.4" stroke="#e84848" stroke-width="0.8" fill="#f0c8d0"/>
<circle cx="434.3" cy="130.6" r="3.3" stroke="#6cf2f8" stroke-width="0.95"/>
<circle cx="434.3" cy="130.6" r="1.4" stroke="#e84848" stroke-width="0.8" fill="#f0c8d0"/>
<circle cx="440.6" cy="129.4" r="3.3" stroke="#6cf2f8" stroke-width="0.95"/>
<circle cx="440.6" cy="129.4" r="1.4" stroke="#e84848" stroke-width="0.8" fill="#f0c8d0"/>
<circle cx="447" cy="128.1" r="3.3" stroke="#6cf2f8" stroke-width="0.95"/>
<circle cx="447" cy="128.1" r="1.4" stroke="#e84848" stroke-width="0.8" fill="#f0c8d0"/>
<circle cx="453.3" cy="127.1" r="3.3" stroke="#6cf2f8" stroke-width="0.95"/>
<circle cx="453.3" cy="127.1" r="1.4" stroke="#e84848" stroke-width="0.8" fill="#f0c8d0"/>
<circle cx="459.7" cy="126.7" r="3.3" stroke="#6cf2f8" stroke-width="0.95"/>
<circle cx="459.7" cy="126.7" r="1.4" stroke="#e84848" stroke-width="0.8" fill="#f0c8d0"/>
<circle cx="466" cy="126.4" r="3.3" stroke="#6cf2f8" stroke-width="0.95"/>
<circle cx="466" cy="126.4" r="1.4" stroke="#e84848" stroke-width="0.8" fill="#f0c8d0"/>
<circle cx="472.4" cy="126.3" r="3.3" stroke="#6cf2f8" stroke-width="0.95"/>
<circle cx="472.4" cy="126.3" r="1.4" stroke="#e84848" stroke-width="0.8" fill="#f0c8d0"/>
<circle cx="332.4" cy="139.4" r="3.3" stroke="#6cf2f8" stroke-width="0.95"/>
<circle cx="332.4" cy="139.4" r="1.4" stroke="#e84848" stroke-width="0.8" fill="#f0c8d0"/>
<circle cx="339.8" cy="137.9" r="3.3" stroke="#6cf2f8" stroke-width="0.95"/>
<circle cx="339.8" cy="137.9" r="1.4" stroke="#e84848" stroke-width="0.8" fill="#f0c8d0"/>
<circle cx="347.3" cy="134.6" r="3.3" stroke="#6cf2f8" stroke-width="0.95"/>
<circle cx="347.3" cy="134.6" r="1.4" stroke="#e84848" stroke-width="0.8" fill="#f0c8d0"/>
<circle cx="354.7" cy="134" r="3.3" stroke="#6cf2f8" stroke-width="0.95"/>
<circle cx="354.7" cy="134" r="1.4" stroke="#e84848" stroke-width="0.8" fill="#f0c8d0"/>
<circle cx="362.1" cy="136.8" r="3.3" stroke="#6cf2f8" stroke-width="0.95"/>
<circle cx="362.1" cy="136.8" r="1.4" stroke="#e84848" stroke-width="0.8" fill="#f0c8d0"/>
<circle cx="369.6" cy="139.7" r="3.3" stroke="#6cf2f8" stroke-width="0.95"/>
<circle cx="369.6" cy="139.7" r="1.4" stroke="#e84848" stroke-width="0.8" fill="#f0c8d0"/>
<circle cx="377" cy="142.3" r="3.3" stroke="#6cf2f8" stroke-width="0.95"/>
<circle cx="377" cy="142.3" r="1.4" stroke="#e84848" stroke-width="0.8" fill="#f0c8d0"/>
<circle cx="384.5" cy="144.6" r="3.3" stroke="#6cf2f8" stroke-width="0.95"/>
<circle cx="384.5" cy="144.6" r="1.4" stroke="#8a6a7a" stroke-width="0.8" fill="#f0c8d0"/>
<circle cx="391.9" cy="145.6" r="3.3" stroke="#6cf2f8" stroke-width="0.95"/>
<circle cx="391.9" cy="145.6" r="1.4" stroke="#8a6a7a" stroke-width="0.8" fill="#f0c8d0"/>
<circle cx="395.2" cy="144.8" r="3.3" stroke="#6cf2f8" stroke-width="0.95"/>
<circle cx="395.2" cy="144.8" r="1.4" stroke="#8a6a7a" stroke-width="0.8" fill="#f0c8d0"/>
<circle cx="398.5" cy="143.6" r="3.3" stroke="#6cf2f8" stroke-width="0.95"/>
<circle cx="398.5" cy="143.6" r="1.4" stroke="#8a6a7a" stroke-width="0.8" fill="#f0c8d0"/>
<circle cx="401.8" cy="142.5" r="3.3" stroke="#6cf2f8" stroke-width="0.95"/>
<circle cx="401.8" cy="142.5" r="1.4" stroke="#8a6a7a" stroke-width="0.8" fill="#f0c8d0"/>
<circle cx="405.1" cy="141.5" r="3.3" stroke="#6cf2f8" stroke-width="0.95"/>
<circle cx="405.1" cy="141.5" r="1.4" stroke="#8a6a7a" stroke-width="0.8" fill="#f0c8d0"/>
<circle cx="408.4" cy="140.6" r="3.3" stroke="#6cf2f8" stroke-width="0.95"/>
<circle cx="408.4" cy="140.6" r="1.4" stroke="#8a6a7a" stroke-width="0.8" fill="#f0c8d0"/>
<circle cx="411.7" cy="139.7" r="3.3" stroke="#6cf2f8" stroke-width="0.95"/>
<circle cx="411.7" cy="139.7" r="1.4" stroke="#8a6a7a" stroke-width="0.8" fill="#f0c8d0"/>
<circle cx="415" cy="138.9" r="3.3" stroke="#6cf2f8" stroke-width="0.95"/>
<circle cx="415" cy="138.9" r="1.4" stroke="#8a6a7a" stroke-width="0.8" fill="#f0c8d0"/>
<circle cx="418.3" cy="138.2" r="3.3" stroke="#6cf2f8" stroke-width="0.95"/>
<circle cx="418.3" cy="138.2" r="1.4" stroke="#8a6a7a" stroke-width="0.8" fill="#f0c8d0"/>
<circle cx="421.6" cy="137.7" r="3.3" stroke="#6cf2f8" stroke-width="0.95"/>
<circle cx="421.6" cy="137.7" r="1.4" stroke="#8a6a7a" stroke-width="0.8" fill="#f0c8d0"/>
<circle cx="427.9" cy="137" r="3.3" stroke="#6cf2f8" stroke-width="0.95"/>
<circle cx="427.9" cy="137" r="1.4" stroke="#8a6a7a" stroke-width="0.8" fill="#f0c8d0"/>
<circle cx="434.3" cy="136.2" r="3.3" stroke="#6cf2f8" stroke-width="0.95"/>
<circle cx="434.3" cy="136.2" r="1.4" stroke="#8a6a7a" stroke-width="0.8" fill="#f0c8d0"/>
<circle cx="440.6" cy="135" r="3.3" stroke="#6cf2f8" stroke-width="0.95"/>
<circle cx="440.6" cy="135" r="1.4" stroke="#8a6a7a" stroke-width="0.8" fill="#f0c8d0"/>
<circle cx="447" cy="134" r="3.3" stroke="#6cf2f8" stroke-width="0.95"/>
<circle cx="447" cy="134" r="1.4" stroke="#8a6a7a" stroke-width="0.8" fill="#f0c8d0"/>
<circle cx="453.3" cy="134.2" r="3.3" stroke="#6cf2f8" stroke-width="0.95"/>
<circle cx="453.3" cy="134.2" r="1.4" stroke="#8a6a7a" stroke-width="0.8" fill="#f0c8d0"/>
<circle cx="459.7" cy="136.3" r="3.3" stroke="#6cf2f8" stroke-width="0.95"/>
<circle cx="459.7" cy="136.3" r="1.4" stroke="#8a6a7a" stroke-width="0.8" fill="#f0c8d0"/>
<circle cx="466" cy="137.7" r="3.3" stroke="#6cf2f8" stroke-width="0.95"/>
<circle cx="466" cy="137.7" r="1.4" stroke="#8a6a7a" stroke-width="0.8" fill="#f0c8d0"/>
<circle cx="472.4" cy="139.1" r="3.3" stroke="#6cf2f8" stroke-width="0.95"/>
<circle cx="472.4" cy="139.1" r="1.4" stroke="#8a6a7a" stroke-width="0.8" fill="#f0c8d0"/>
<circle cx="332.4" cy="166.3" r="3.3" stroke="#6cf2f8" stroke-width="0.95"/>
<circle cx="332.4" cy="166.3" r="1.4" stroke="#8a6a7a" stroke-width="0.8" fill="#f0c8d0"/>
<circle cx="339.8" cy="165.6" r="3.3" stroke="#6cf2f8" stroke-width="0.95"/>
<circle cx="339.8" cy="165.6" r="1.4" stroke="#8a6a7a" stroke-width="0.8" fill="#f0c8d0"/>
<circle cx="347.3" cy="164.1" r="3.3" stroke="#6cf2f8" stroke-width="0.95"/>
<circle cx="347.3" cy="164.1" r="1.4" stroke="#8a6a7a" stroke-width="0.8" fill="#f0c8d0"/>
<circle cx="354.7" cy="161.4" r="3.3" stroke="#6cf2f8" stroke-width="0.95"/>
<circle cx="354.7" cy="161.4" r="1.4" stroke="#8a6a7a" stroke-width="0.8" fill="#f0c8d0"/>
<circle cx="362.1" cy="158" r="3.3" stroke="#6cf2f8" stroke-width="0.95"/>
<circle cx="362.1" cy="158" r="1.4" stroke="#8a6a7a" stroke-width="0.8" fill="#f0c8d0"/>
<circle cx="369.6" cy="154.5" r="3.3" stroke="#6cf2f8" stroke-width="0.95"/>
<circle cx="369.6" cy="154.5" r="1.4" stroke="#8a6a7a" stroke-width="0.8" fill="#f0c8d0"/>
<circle cx="377" cy="152" r="3.3" stroke="#6cf2f8" stroke-width="0.95"/>
<circle cx="377" cy="152" r="1.4" stroke="#8a6a7a" stroke-width="0.8" fill="#f0c8d0"/>
<circle cx="384.5" cy="150.5" r="3.3" stroke="#6cf2f8" stroke-width="0.95"/>
<circle cx="384.5" cy="150.5" r="1.4" stroke="#8a6a7a" stroke-width="0.8" fill="#f0c8d0"/>
<circle cx="391.9" cy="150.2" r="3.3" stroke="#6cf2f8" stroke-width="0.95"/>
<circle cx="391.9" cy="150.2" r="1.4" stroke="#8a6a7a" stroke-width="0.8" fill="#f0c8d0"/>
<circle cx="395.2" cy="150.2" r="3.3" stroke="#6cf2f8" stroke-width="0.95"/>
<circle cx="395.2" cy="150.2" r="1.4" stroke="#8a6a7a" stroke-width="0.8" fill="#f0c8d0"/>
<circle cx="398.5" cy="150.2" r="3.3" stroke="#6cf2f8" stroke-width="0.95"/>
<circle cx="398.5" cy="150.2" r="1.4" stroke="#8a6a7a" stroke-width="0.8" fill="#f0c8d0"/>
<circle cx="401.8" cy="150.2" r="3.3" stroke="#6cf2f8" stroke-width="0.95"/>
<circle cx="401.8" cy="150.2" r="1.4" stroke="#8a6a7a" stroke-width="0.8" fill="#f0c8d0"/>
<circle cx="405.1" cy="150.2" r="3.3" stroke="#6cf2f8" stroke-width="0.95"/>
<circle cx="405.1" cy="150.2" r="1.4" stroke="#8a6a7a" stroke-width="0.8" fill="#f0c8d0"/>
<circle cx="408.4" cy="150.3" r="3.3" stroke="#6cf2f8" stroke-width="0.95"/>
<circle cx="408.4" cy="150.3" r="1.4" stroke="#8a6a7a" stroke-width="0.8" fill="#f0c8d0"/>
<circle cx="411.7" cy="150.3" r="3.3" stroke="#6cf2f8" stroke-width="0.95"/>
<circle cx="411.7" cy="150.3" r="1.4" stroke="#8a6a7a" stroke-width="0.8" fill="#f0c8d0"/>
<circle cx="415" cy="150.4" r="3.3" stroke="#6cf2f8" stroke-width="0.95"/>
<circle cx="415" cy="150.4" r="1.4" stroke="#8a6a7a" stroke-width="0.8" fill="#f0c8d0"/>
<circle cx="418.3" cy="150.5" r="3.3" stroke="#6cf2f8" stroke-width="0.95"/>
<circle cx="418.3" cy="150.5" r="1.4" stroke="#8a6a7a" stroke-width="0.8" fill="#f0c8d0"/>
<circle cx="421.6" cy="150.6" r="3.3" stroke="#6cf2f8" stroke-width="0.95"/>
<circle cx="421.6" cy="150.6" r="1.4" stroke="#8a6a7a" stroke-width="0.8" fill="#f0c8d0"/>
<circle cx="427.9" cy="151.1" r="3.3" stroke="#6cf2f8" stroke-width="0.95"/>
<circle cx="427.9" cy="151.1" r="1.4" stroke="#8a6a7a" stroke-width="0.8" fill="#f0c8d0"/>
<circle cx="434.3" cy="153.1" r="3.3" stroke="#6cf2f8" stroke-width="0.95"/>
<circle cx="434.3" cy="153.1" r="1.4" stroke="#8a6a7a" stroke-width="0.8" fill="#f0c8d0"/>
<circle cx="440.6" cy="156.3" r="3.3" stroke="#6cf2f8" stroke-width="0.95"/>
<circle cx="440.6" cy="156.3" r="1.4" stroke="#8a6a7a" stroke-width="0.8" fill="#f0c8d0"/>
<circle cx="447" cy="160.3" r="3.3" stroke="#6cf2f8" stroke-width="0.95"/>
<circle cx="447" cy="160.3" r="1.4" stroke="#8a6a7a" stroke-width="0.8" fill="#f0c8d0"/>
<circle cx="453.3" cy="163.3" r="3.3" stroke="#6cf2f8" stroke-width="0.95"/>
<circle cx="453.3" cy="163.3" r="1.4" stroke="#8a6a7a" stroke-width="0.8" fill="#f0c8d0"/>
<circle cx="459.7" cy="165" r="3.3" stroke="#6cf2f8" stroke-width="0.95"/>
<circle cx="459.7" cy="165" r="1.4" stroke="#8a6a7a" stroke-width="0.8" fill="#f0c8d0"/>
<circle cx="466" cy="166.1" r="3.3" stroke="#6cf2f8" stroke-width="0.95"/>
<circle cx="466" cy="166.1" r="1.4" stroke="#8a6a7a" stroke-width="0.8" fill="#f0c8d0"/>
<circle cx="472.4" cy="166.9" r="3.3" stroke="#6cf2f8" stroke-width="0.95"/>
<circle cx="472.4" cy="166.9" r="1.4" stroke="#8a6a7a" stroke-width="0.8" fill="#f0c8d0"/>
<circle cx="332.4" cy="166.3" r="3.3" stroke="#6cf2f8" stroke-width="0.95"/>
<circle cx="332.4" cy="166.3" r="1.4" stroke="#8a6a7a" stroke-width="0.8" fill="#f0c8d0"/>
<circle cx="339.8" cy="165" r="3.3" stroke="#6cf2f8" stroke-width="0.95"/>
<circle cx="339.8" cy="165" r="1.4" stroke="#8a6a7a" stroke-width="0.8" fill="#f0c8d0"/>
<circle cx="347.3" cy="163.5" r="3.3" stroke="#6cf2f8" stroke-width="0.95"/>
<circle cx="347.3" cy="163.5" r="1.4" stroke="#8a6a7a" stroke-width="0.8" fill="#f0c8d0"/>
<circle cx="354.7" cy="161.9" r="3.3" stroke="#6cf2f8" stroke-width="0.95"/>
<circle cx="354.7" cy="161.9" r="1.4" stroke="#8a6a7a" stroke-width="0.8" fill="#f0c8d0"/>
<circle cx="362.1" cy="160.9" r="3.3" stroke="#6cf2f8" stroke-width="0.95"/>
<circle cx="362.1" cy="160.9" r="1.4" stroke="#8a6a7a" stroke-width="0.8" fill="#f0c8d0"/>
<circle cx="369.6" cy="160.9" r="3.3" stroke="#6cf2f8" stroke-width="0.95"/>
<circle cx="369.6" cy="160.9" r="1.4" stroke="#8a6a7a" stroke-width="0.8" fill="#f0c8d0"/>
<circle cx="377" cy="158.6" r="3.3" stroke="#6cf2f8" stroke-width="0.95"/>
<circle cx="377" cy="158.6" r="1.4" stroke="#8a6a7a" stroke-width="0.8" fill="#f0c8d0"/>
<circle cx="384.5" cy="156.5" r="3.3" stroke="#6cf2f8" stroke-width="0.95"/>
<circle cx="384.5" cy="156.5" r="1.4" stroke="#8a6a7a" stroke-width="0.8" fill="#f0c8d0"/>
<circle cx="391.9" cy="155.5" r="3.3" stroke="#6cf2f8" stroke-width="0.95"/>
<circle cx="391.9" cy="155.5" r="1.4" stroke="#8a6a7a" stroke-width="0.8" fill="#f0c8d0"/>
<circle cx="395.2" cy="156.5" r="3.3" stroke="#6cf2f8" stroke-width="0.95"/>
<circle cx="395.2" cy="156.5" r="1.4" stroke="#8a6a7a" stroke-width="0.8" fill="#f0c8d0"/>
<circle cx="398.5" cy="157.7" r="3.3" stroke="#6cf2f8" stroke-width="0.95"/>
<circle cx="398.5" cy="157.7" r="1.4" stroke="#8a6a7a" stroke-width="0.8" fill="#f0c8d0"/>
<circle cx="401.8" cy="159" r="3.3" stroke="#6cf2f8" stroke-width="0.95"/>
<circle cx="401.8" cy="159" r="1.4" stroke="#8a6a7a" stroke-width="0.8" fill="#f0c8d0"/>
<circle cx="405.1" cy="160.4" r="3.3" stroke="#6cf2f8" stroke-width="0.95"/>
<circle cx="405.1" cy="160.4" r="1.4" stroke="#8a6a7a" stroke-width="0.8" fill="#f0c8d0"/>
<circle cx="408.4" cy="160.8" r="3.3" stroke="#6cf2f8" stroke-width="0.95"/>
<circle cx="408.4" cy="160.8" r="1.4" stroke="#8a6a7a" stroke-width="0.8" fill="#f0c8d0"/>
<circle cx="411.7" cy="160.7" r="3.3" stroke="#6cf2f8" stroke-width="0.95"/>
<circle cx="411.7" cy="160.7" r="1.4" stroke="#8a6a7a" stroke-width="0.8" fill="#f0c8d0"/>
<circle cx="415" cy="160.4" r="3.3" stroke="#6cf2f8" stroke-width="0.95"/>
<circle cx="415" cy="160.4" r="1.4" stroke="#8a6a7a" stroke-width="0.8" fill="#f0c8d0"/>
<circle cx="418.3" cy="160.1" r="3.3" stroke="#6cf2f8" stroke-width="0.95"/>
<circle cx="418.3" cy="160.1" r="1.4" stroke="#8a6a7a" stroke-width="0.8" fill="#f0c8d0"/>
<circle cx="421.6" cy="159.9" r="3.3" stroke="#6cf2f8" stroke-width="0.95"/>
<circle cx="421.6" cy="159.9" r="1.4" stroke="#8a6a7a" stroke-width="0.8" fill="#f0c8d0"/>
<circle cx="427.9" cy="159.8" r="3.3" stroke="#6cf2f8" stroke-width="0.95"/>
<circle cx="427.9" cy="159.8" r="1.4" stroke="#8a6a7a" stroke-width="0.8" fill="#f0c8d0"/>
<circle cx="434.3" cy="159.8" r="3.3" stroke="#6cf2f8" stroke-width="0.95"/>
<circle cx="434.3" cy="159.8" r="1.4" stroke="#8a6a7a" stroke-width="0.8" fill="#f0c8d0"/>
<circle cx="440.6" cy="160.2" r="3.3" stroke="#6cf2f8" stroke-width="0.95"/>
<circle cx="440.6" cy="160.2" r="1.4" stroke="#8a6a7a" stroke-width="0.8" fill="#f0c8d0"/>
<circle cx="447" cy="161.3" r="3.3" stroke="#6cf2f8" stroke-width="0.95"/>
<circle cx="447" cy="161.3" r="1.4" stroke="#8a6a7a" stroke-width="0.8" fill="#f0c8d0"/>
<circle cx="453.3" cy="162.8" r="3.3" stroke="#6cf2f8" stroke-width="0.95"/>
<circle cx="453.3" cy="162.8" r="1.4" stroke="#8a6a7a" stroke-width="0.8" fill="#f0c8d0"/>
<circle cx="459.7" cy="164.4" r="3.3" stroke="#6cf2f8" stroke-width="0.95"/>
<circle cx="459.7" cy="164.4" r="1.4" stroke="#8a6a7a" stroke-width="0.8" fill="#f0c8d0"/>
<circle cx="466" cy="165.7" r="3.3" stroke="#6cf2f8" stroke-width="0.95"/>
<circle cx="466" cy="165.7" r="1.4" stroke="#8a6a7a" stroke-width="0.8" fill="#f0c8d0"/>
<circle cx="472.4" cy="166.9" r="3.3" stroke="#6cf2f8" stroke-width="0.95"/>
<circle cx="472.4" cy="166.9" r="1.4" stroke="#8a6a7a" stroke-width="0.8" fill="#f0c8d0"/>
<circle cx="362.1" cy="167.5" r="3.3" stroke="#6cf2f8" stroke-width="0.95"/>
<circle cx="362.1" cy="167.5" r="1.4" stroke="#e84848" stroke-width="0.8" fill="#f0c8d0"/>
<circle cx="369.6" cy="163.6" r="3.3" stroke="#6cf2f8" stroke-width="0.95"/>
<circle cx="369.6" cy="163.6" r="1.4" stroke="#e84848" stroke-width="0.8" fill="#f0c8d0"/>
<circle cx="377" cy="163.2" r="3.3" stroke="#6cf2f8" stroke-width="0.95"/>
<circle cx="377" cy="163.2" r="1.4" stroke="#e84848" stroke-width="0.8" fill="#f0c8d0"/>
<circle cx="384.5" cy="165.6" r="3.3" stroke="#6cf2f8" stroke-width="0.95"/>
<circle cx="384.5" cy="165.6" r="1.4" stroke="#e84848" stroke-width="0.8" fill="#f0c8d0"/>
<circle cx="391.9" cy="167.8" r="3.3" stroke="#6cf2f8" stroke-width="0.95"/>
<circle cx="391.9" cy="167.8" r="1.4" stroke="#e84848" stroke-width="0.8" fill="#f0c8d0"/>
<circle cx="391.9" cy="167.5" r="3.3" stroke="#6cf2f8" stroke-width="0.95"/>
<circle cx="391.9" cy="167.5" r="1.4" stroke="#e84848" stroke-width="0.8" fill="#f0c8d0"/>
<circle cx="395.2" cy="166.2" r="3.3" stroke="#6cf2f8" stroke-width="0.95"/>
<circle cx="395.2" cy="166.2" r="1.4" stroke="#e84848" stroke-width="0.8" fill="#f0c8d0"/>
<circle cx="398.5" cy="164.9" r="3.3" stroke="#6cf2f8" stroke-width="0.95"/>
<circle cx="398.5" cy="164.9" r="1.4" stroke="#e84848" stroke-width="0.8" fill="#f0c8d0"/>
<circle cx="401.8" cy="163.8" r="3.3" stroke="#6cf2f8" stroke-width="0.95"/>
<circle cx="401.8" cy="163.8" r="1.4" stroke="#e84848" stroke-width="0.8" fill="#f0c8d0"/>
<circle cx="405.1" cy="163" r="3.3" stroke="#6cf2f8" stroke-width="0.95"/>
<circle cx="405.1" cy="163" r="1.4" stroke="#e84848" stroke-width="0.8" fill="#f0c8d0"/>
<circle cx="408.4" cy="163.9" r="3.3" stroke="#6cf2f8" stroke-width="0.95"/>
<circle cx="408.4" cy="163.9" r="1.4" stroke="#e84848" stroke-width="0.8" fill="#f0c8d0"/>
<circle cx="332.4" cy="112.4" r="3.3" stroke="#6cf2f8" stroke-width="0.95"/>
<circle cx="332.4" cy="112.4" r="1.4" stroke="#e84848" stroke-width="0.8" fill="#f0c8d0"/>
<circle cx="339.8" cy="111.5" r="3.3" stroke="#6cf2f8" stroke-width="0.95"/>
<circle cx="339.8" cy="111.5" r="1.4" stroke="#e84848" stroke-width="0.8" fill="#f0c8d0"/>
<circle cx="347.3" cy="109.8" r="3.3" stroke="#6cf2f8" stroke-width="0.95"/>
<circle cx="347.3" cy="109.8" r="1.4" stroke="#e84848" stroke-width="0.8" fill="#f0c8d0"/>
<circle cx="354.7" cy="107.5" r="3.3" stroke="#6cf2f8" stroke-width="0.95"/>
<circle cx="354.7" cy="107.5" r="1.4" stroke="#e84848" stroke-width="0.8" fill="#f0c8d0"/>
<circle cx="362.1" cy="104.9" r="3.3" stroke="#6cf2f8" stroke-width="0.95"/>
<circle cx="362.1" cy="104.9" r="1.4" stroke="#e84848" stroke-width="0.8" fill="#f0c8d0"/>
<circle cx="369.6" cy="102" r="3.3" stroke="#6cf2f8" stroke-width="0.95"/>
<circle cx="369.6" cy="102" r="1.4" stroke="#e84848" stroke-width="0.8" fill="#f0c8d0"/>
<circle cx="377" cy="99.1" r="3.3" stroke="#6cf2f8" stroke-width="0.95"/>
<circle cx="377" cy="99.1" r="1.4" stroke="#e84848" stroke-width="0.8" fill="#f0c8d0"/>
<circle cx="384.5" cy="97.5" r="3.3" stroke="#6cf2f8" stroke-width="0.95"/>
<circle cx="384.5" cy="97.5" r="1.4" stroke="#e84848" stroke-width="0.8" fill="#f0c8d0"/>
<circle cx="391.9" cy="97.4" r="3.3" stroke="#6cf2f8" stroke-width="0.95"/>
<circle cx="391.9" cy="97.4" r="1.4" stroke="#e84848" stroke-width="0.8" fill="#f0c8d0"/>
<circle cx="395.2" cy="97.4" r="3.3" stroke="#6cf2f8" stroke-width="0.95"/>
<circle cx="395.2" cy="97.4" r="1.4" stroke="#e84848" stroke-width="0.8" fill="#f0c8d0"/>
<circle cx="398.5" cy="97.3" r="3.3" stroke="#6cf2f8" stroke-width="0.95"/>
<circle cx="398.5" cy="97.3" r="1.4" stroke="#e84848" stroke-width="0.8" fill="#f0c8d0"/>
<circle cx="401.8" cy="97.3" r="3.3" stroke="#6cf2f8" stroke-width="0.95"/>
<circle cx="401.8" cy="97.3" r="1.4" stroke="#e84848" stroke-width="0.8" fill="#f0c8d0"/>
<circle cx="405.1" cy="97.3" r="3.3" stroke="#6cf2f8" stroke-width="0.95"/>
<circle cx="405.1" cy="97.3" r="1.4" stroke="#e84848" stroke-width="0.8" fill="#f0c8d0"/>
<circle cx="408.4" cy="97.3" r="3.3" stroke="#6cf2f8" stroke-width="0.95"/>
<circle cx="408.4" cy="97.3" r="1.4" stroke="#e84848" stroke-width="0.8" fill="#f0c8d0"/>
<circle cx="411.7" cy="97.3" r="3.3" stroke="#6cf2f8" stroke-width="0.95"/>
<circle cx="411.7" cy="97.3" r="1.4" stroke="#e84848" stroke-width="0.8" fill="#f0c8d0"/>
<circle cx="415" cy="97.3" r="3.3" stroke="#6cf2f8" stroke-width="0.95"/>
<circle cx="415" cy="97.3" r="1.4" stroke="#e84848" stroke-width="0.8" fill="#f0c8d0"/>
<circle cx="418.3" cy="97.3" r="3.3" stroke="#6cf2f8" stroke-width="0.95"/>
<circle cx="418.3" cy="97.3" r="1.4" stroke="#e84848" stroke-width="0.8" fill="#f0c8d0"/>
<circle cx="421.6" cy="97.4" r="3.3" stroke="#6cf2f8" stroke-width="0.95"/>
<circle cx="421.6" cy="97.4" r="1.4" stroke="#e84848" stroke-width="0.8" fill="#f0c8d0"/>
<circle cx="427.9" cy="98.7" r="3.3" stroke="#6cf2f8" stroke-width="0.95"/>
<circle cx="427.9" cy="98.7" r="1.4" stroke="#e84848" stroke-width="0.8" fill="#f0c8d0"/>
<circle cx="434.3" cy="101.7" r="3.3" stroke="#6cf2f8" stroke-width="0.95"/>
<circle cx="434.3" cy="101.7" r="1.4" stroke="#e84848" stroke-width="0.8" fill="#f0c8d0"/>
<circle cx="440.6" cy="104.9" r="3.3" stroke="#6cf2f8" stroke-width="0.95"/>
<circle cx="440.6" cy="104.9" r="1.4" stroke="#e84848" stroke-width="0.8" fill="#f0c8d0"/>
<circle cx="447" cy="107.7" r="3.3" stroke="#6cf2f8" stroke-width="0.95"/>
<circle cx="447" cy="107.7" r="1.4" stroke="#e84848" stroke-width="0.8" fill="#f0c8d0"/>
<circle cx="453.3" cy="109.8" r="3.3" stroke="#6cf2f8" stroke-width="0.95"/>
<circle cx="453.3" cy="109.8" r="1.4" stroke="#e84848" stroke-width="0.8" fill="#f0c8d0"/>
<circle cx="459.7" cy="111.3" r="3.3" stroke="#6cf2f8" stroke-width="0.95"/>
<circle cx="459.7" cy="111.3" r="1.4" stroke="#e84848" stroke-width="0.8" fill="#f0c8d0"/>
<circle cx="466" cy="111.9" r="3.3" stroke="#6cf2f8" stroke-width="0.95"/>
<circle cx="466" cy="111.9" r="1.4" stroke="#e84848" stroke-width="0.8" fill="#f0c8d0"/>
<circle cx="472.4" cy="112.3" r="3.3" stroke="#6cf2f8" stroke-width="0.95"/>
<circle cx="472.4" cy="112.3" r="1.4" stroke="#e84848" stroke-width="0.8" fill="#f0c8d0"/>
</g></g>
<g stroke-width="1">
<line x1="391.9" y1="9.4" x2="391.9" y2="86.6" stroke="#111"/>
<line x1="391.9" y1="90.2" x2="391.9" y2="168.1" stroke="#111"/>
<line x1="421.6" y1="9.4" x2="421.6" y2="86.6" stroke="#777"/>
<line x1="421.6" y1="90.2" x2="421.6" y2="168.1" stroke="#777"/>
</g>
<rect x="4" y="9.8" width="108" height="169.7" rx="20" ry="20" fill="none" stroke="#111" stroke-width="1.3" stroke-dasharray="3.2 2.2"/>
<rect x="24.4" y="3.5" width="66.4" height="11.7" rx="2.2" fill="#fff" stroke="#777" stroke-width="0.8"/>
<text x="57.6" y="12.7" text-anchor="middle" font-family="Liberation Serif, serif" font-weight="bold" font-size="9.6" fill="#111" textLength="47.5" lengthAdjust="spacing">Bi<tspan font-size="6" dy="1.5">2</tspan><tspan dy="-1.5">Se</tspan><tspan font-size="6" dy="1.5">3</tspan><tspan dy="-1.5">-7.34°</tspan></text>
<text x="7.4" y="26.4" font-family="Liberation Sans, sans-serif" font-weight="bold" font-size="12.6" textLength="18.8" lengthAdjust="spacingAndGlyphs" fill="#000">(a)</text>
<clipPath id="cpa"><path d="M46 20.5 L112 20.5 L82.5 75 L18 75 Z"/></clipPath>
<g clip-path="url(#cpa)">
<path d="M19.5 74h0M21.6 69.4h0M24.3 65.5h0M26.6 60.9h0M28.8 56.8h0M31 52.2h0M33.1 47.9h0M35.4 43.3h0M37.6 39.1h0M40.2 34.8h0M42.1 30.6h0M44.7 26.4h0M46.5 22.1h0M24.3 73.9h0M26.4 69.5h0M29.1 65.5h0M30.9 60.7h0M33.4 56.4h0M35.9 52.3h0M38 47.8h0M40.4 43.8h0M42.4 39.4h0M45 34.9h0M47 30.7h0M49.3 26.5h0M51.5 21.6h0M29.3 73.8h0M31.5 69.6h0M33.6 65.4h0M36.4 60.7h0M38.3 56.5h0M40.9 52.4h0M42.7 47.8h0M45.4 43.5h0M47.8 39.5h0M49.5 35.2h0M52.2 30.5h0M54.5 26.3h0M56.8 21.6h0M33.9 73.8h0M36.3 69.8h0M39 65.2h0M40.7 60.7h0M43.2 56.4h0M45.4 52.4h0M47.7 48h0M50.4 43.6h0M52.3 39.2h0M54.6 35h0M56.8 30.3h0M59.1 26.4h0M61.7 21.7h0M39.3 73.9h0M41.6 69.4h0M43.8 65.6h0M45.9 60.8h0M48.5 56.8h0M50.4 52.2h0M52.8 47.7h0M55.2 43.6h0M57.3 39.3h0M59.4 34.9h0M62.1 30.8h0M64.1 26.5h0M66.5 22.1h0M44.2 74.2h0M46.1 69.7h0M48.5 65.3h0M51 61.1h0M53.3 56.8h0M55.7 52.2h0M57.4 48.2h0M59.7 43.5h0M62.2 39h0M64.3 35h0M66.9 30.8h0M69.2 26.3h0M71.1 22.1h0M48.7 74h0M51.2 69.4h0M53.6 65.4h0M55.4 60.8h0M58.3 56.6h0M60.2 52.1h0M62.5 47.9h0M65.1 43.8h0M67.2 39.2h0M69.6 35.1h0M71.8 30.8h0M73.9 26h0M76.3 21.6h0M53.9 74.1h0M55.8 69.9h0M58.1 65.4h0M60.5 61h0M62.7 56.9h0M65.2 52.2h0M67.5 47.8h0M69.8 43.5h0M71.9 39.4h0M74 34.9h0M76.6 30.8h0M79.1 26.3h0M80.8 21.9h0M58.9 74h0M61 69.9h0M63.1 65.2h0M65.7 60.8h0M67.5 56.6h0M69.8 52h0M72.1 47.7h0M74.7 43.5h0M76.6 39.5h0M79.2 34.7h0M81.4 30.7h0M83.6 26.5h0M85.7 21.7h0M63.3 74h0M66.1 69.4h0M67.9 65.2h0M70.6 61.2h0M72.6 56.5h0M75.1 52.3h0M77.3 48.2h0M79.5 43.4h0M81.9 39.2h0M84.1 35h0M86.1 30.9h0M88.8 26.5h0M90.9 22.2h0M68.8 74.1h0M70.6 69.4h0M73 65.5h0M75.1 60.8h0M77.8 56.7h0M80.1 52.4h0M82.4 47.9h0M84.6 43.8h0M86.9 39.3h0M89 34.7h0M91.4 30.3h0M93.8 26.3h0M96 22.2h0M73.4 74.1h0M76 69.8h0M78.2 65.4h0M80.2 61.2h0M82.5 56.4h0M84.6 52.5h0M87.1 48.1h0M89.4 43.6h0M91.9 39.1h0M93.8 35.1h0M96.2 30.6h0M98.4 26.2h0M100.7 22.1h0M78.2 74.1h0M80.8 69.4h0M82.8 65.6h0M85.1 60.8h0M87.7 56.7h0M89.6 52.5h0M91.9 47.7h0M94.2 43.7h0M96.3 39.1h0M98.6 35.2h0M101.2 30.7h0M103.2 26h0M105.7 22h0M83 74h0M85.7 69.6h0M87.4 65h0M89.9 61h0M92 56.5h0M94.7 52.6h0M96.7 48h0M99.1 43.3h0M101.2 39.4h0M103.4 35.1h0M105.8 30.3h0M108.1 26.5h0M110.6 21.8h0" stroke="#b040d4" stroke-width="2.8" stroke-linecap="round" fill="none"/>
<path d="M36.3 38.1h0M39.2 34.1h0M42 30h0M44.8 26h0M47.6 22h0M21.5 66.8h0M24.3 62.8h0M27.2 58.8h0M30 54.8h0M32.8 50.7h0M35.6 46.7h0M38.4 42.7h0M41.2 38.7h0M44 34.7h0M46.8 30.7h0M49.6 26.7h0M52.4 22.6h0M20.8 75.5h0M23.6 71.4h0M26.4 67.4h0M29.2 63.4h0M32 59.4h0M34.8 55.4h0M37.6 51.4h0M40.4 47.4h0M43.3 43.3h0M46.1 39.3h0M48.9 35.3h0M51.7 31.3h0M54.5 27.3h0M57.3 23.3h0M60.1 19.3h0M25.6 76.1h0M28.5 72.1h0M31.3 68.1h0M34.1 64h0M36.9 60h0M39.7 56h0M42.5 52h0M45.3 48h0M48.1 44h0M50.9 40h0M53.7 35.9h0M56.5 31.9h0M59.4 27.9h0M62.2 23.9h0M65 19.9h0M33.3 72.7h0M36.1 68.7h0M38.9 64.7h0M41.7 60.7h0M44.5 56.6h0M47.4 52.6h0M50.2 48.6h0M53 44.6h0M55.8 40.6h0M58.6 36.6h0M61.4 32.5h0M64.2 28.5h0M67 24.5h0M69.8 20.5h0M38.2 73.3h0M41 69.3h0M43.8 65.3h0M46.6 61.3h0M49.4 57.3h0M52.2 53.2h0M55 49.2h0M57.8 45.2h0M60.6 41.2h0M63.5 37.2h0M66.3 33.2h0M69.1 29.2h0M71.9 25.1h0M74.7 21.1h0M43 73.9h0M45.8 69.9h0M48.6 65.9h0M51.5 61.9h0M54.3 57.9h0M57.1 53.9h0M59.9 49.9h0M62.7 45.8h0M65.5 41.8h0M68.3 37.8h0M71.1 33.8h0M73.9 29.8h0M76.7 25.8h0M79.6 21.8h0M47.9 74.6h0M50.7 70.6h0M53.5 66.5h0M56.3 62.5h0M59.1 58.5h0M61.9 54.5h0M64.7 50.5h0M67.6 46.5h0M70.4 42.5h0M73.2 38.4h0M76 34.4h0M78.8 30.4h0M81.6 26.4h0M84.4 22.4h0M52.7 75.2h0M55.6 71.2h0M58.4 67.2h0M61.2 63.2h0M64 59.1h0M66.8 55.1h0M69.6 51.1h0M72.4 47.1h0M75.2 43.1h0M78 39.1h0M80.8 35.1h0M83.7 31h0M86.5 27h0M89.3 23h0M57.6 75.8h0M60.4 71.8h0M63.2 67.8h0M66 63.8h0M68.8 59.8h0M71.7 55.8h0M74.5 51.7h0M77.3 47.7h0M80.1 43.7h0M82.9 39.7h0M85.7 35.7h0M88.5 31.7h0M91.3 27.6h0M94.1 23.6h0M96.9 19.6h0M65.3 72.4h0M68.1 68.4h0M70.9 64.4h0M73.7 60.4h0M76.5 56.4h0M79.3 52.4h0M82.1 48.3h0M84.9 44.3h0M87.8 40.3h0M90.6 36.3h0M93.4 32.3h0M96.2 28.3h0M99 24.3h0M101.8 20.2h0M70.1 73.1h0M72.9 69h0M75.8 65h0M78.6 61h0M81.4 57h0M84.2 53h0M87 49h0M89.8 45h0M92.6 40.9h0M95.4 36.9h0M98.2 32.9h0M101 28.9h0M103.9 24.9h0M106.7 20.9h0M75 73.7h0M77.8 69.7h0M80.6 65.7h0M83.4 61.6h0M86.2 57.6h0M89 53.6h0M91.9 49.6h0M94.7 45.6h0M97.5 41.6h0M100.3 37.6h0M103.1 33.5h0M105.9 29.5h0M108.7 25.5h0M111.5 21.5h0M79.9 74.3h0M82.7 70.3h0M85.5 66.3h0M88.3 62.3h0M91.1 58.3h0M93.9 54.2h0M96.7 50.2h0" stroke="#bc60dc" stroke-width="1.9" stroke-linecap="round" fill="none"/>
<path d="M21.7 72.4h0M24.4 68.2h0M26.2 63.8h0M28.9 59.6h0M31 55.2h0M33.1 50.9h0M35.5 46.7h0M37.5 42.3h0M40.1 38.1h0M42.4 33.8h0M44.9 28.9h0M47.1 24.8h0M49.2 20.3h0M26.8 72.6h0M28.9 68.3h0M31.2 64.1h0M33.8 59.4h0M35.7 55.2h0M38.1 50.8h0M40.2 46.7h0M42.4 41.9h0M45.1 37.9h0M47.1 33.6h0M49.3 29h0M51.7 25.1h0M54.3 20.2h0M31.9 72.8h0M33.8 68.3h0M36.1 63.9h0M38.3 59.4h0M40.9 55.4h0M43.1 51.1h0M45.6 46.3h0M47.5 42h0M49.7 37.9h0M52.3 33.7h0M54.5 29h0M57 24.8h0M59.1 20.2h0M36.9 72.5h0M38.6 68.5h0M41 63.9h0M43.7 59.4h0M45.9 55.5h0M48.2 50.9h0M50.1 46.4h0M52.6 42.3h0M54.7 38h0M57.1 33.5h0M59.4 28.9h0M61.6 25h0M64.1 20.3h0M41.3 72.6h0M44 67.9h0M46.2 64h0M48.4 59.6h0M50.6 55.2h0M52.7 50.6h0M55 46.3h0M57.3 42.2h0M59.8 37.8h0M61.9 33.3h0M64.1 29.2h0M66.3 25h0M68.7 20.6h0M46.7 72.6h0M48.8 67.9h0M50.7 64h0M53.1 59.8h0M55.6 55.3h0M57.9 50.8h0M60.3 46.3h0M62.2 42.3h0M64.7 37.9h0M66.7 33.5h0M69.4 29.2h0M71.3 24.7h0M73.7 20.7h0M51.3 72.4h0M53.5 68.2h0M55.8 64h0M58.2 59.8h0M60.6 55.1h0M62.7 50.9h0M64.9 46.7h0M67.2 42.3h0M69.6 37.9h0M71.9 33.6h0M74.1 28.9h0M76.3 25h0M78.6 20.7h0M56 72.4h0M58.5 68.1h0M60.9 64.1h0M62.8 59.7h0M65.4 55.4h0M67.5 51h0M70.1 46.5h0M72.1 42h0M74.2 38h0M76.6 33.2h0M78.8 28.9h0M81.1 25h0M83.5 20.4h0M61.1 72.4h0M63.7 67.9h0M65.7 64.1h0M68.2 59.2h0M70 55.2h0M72.7 50.6h0M74.8 46.7h0M77.1 42.5h0M79.3 37.7h0M81.5 33.4h0M84 29.3h0M85.9 25.1h0M88.6 20.4h0M66 72.3h0M68.3 68h0M70.7 63.8h0M72.7 59.5h0M75.3 55.5h0M77.7 51h0M79.8 46.4h0M81.8 42.2h0M84.1 37.7h0M86.2 33.7h0M88.7 29.4h0M91.3 25h0M93.4 20.6h0M70.8 72.5h0M73.3 68.3h0M75.2 63.6h0M77.8 59.5h0M79.8 55.4h0M82.1 51.1h0M84.6 46.5h0M87.1 42h0M89.1 37.8h0M91.6 33.5h0M93.4 29h0M95.9 24.8h0M98.1 20.5h0M75.8 72.8h0M78.1 68.1h0M80.6 64.1h0M82.5 59.7h0M84.8 55.1h0M87.2 50.7h0M89.5 46.5h0M92 42.3h0M93.7 37.7h0M96.5 33.2h0M98.4 29.4h0M100.9 24.6h0M103.3 20.6h0M80.6 72.6h0M82.9 68.5h0M85.5 63.7h0M87.7 59.4h0M90 55.5h0M92.3 50.7h0M94.2 46.5h0M96.4 42.1h0M98.8 37.8h0M101.3 33.5h0M103.6 29.4h0M105.5 24.7h0M108.1 20.3h0M101.4 42h0M103.9 37.6h0M105.8 33.4h0M108 28.9h0M110.7 24.7h0M112.9 20.4h0" stroke="#a8d860" stroke-width="1.8" stroke-linecap="round" fill="none"/>
<path d="M45.3 20.3h0M30.5 49h0M33.3 45h0M36.1 41h0M38.9 36.9h0M41.7 32.9h0M39.4 31.2h0M44.5 28.9h0M42.2 27.2h0M47.3 24.9h0M45 23.1h0M50.1 20.9h0M18.5 73.7h0M21.3 69.7h0M24.1 65.7h0M26.9 61.7h0M24.6 59.9h0M29.7 57.6h0M27.4 55.9h0M32.5 53.6h0M30.2 51.9h0M35.3 49.6h0M33 47.9h0M38.1 45.6h0M35.8 43.8h0M41 41.6h0M38.7 39.8h0M43.8 37.6h0M41.5 35.8h0M46.6 33.6h0M44.3 31.8h0M49.4 29.5h0M47.1 27.8h0M52.2 25.5h0M49.9 23.8h0M55 21.5h0M52.7 19.8h0M23.3 74.3h0M21 72.6h0M26.1 70.3h0M23.8 68.6h0M29 66.3h0M26.7 64.5h0M31.8 62.3h0M29.5 60.5h0M34.6 58.3h0M32.3 56.5h0M37.4 54.3h0M35.1 52.5h0M40.2 50.2h0M37.9 48.5h0M43 46.2h0M40.7 44.5h0M45.8 42.2h0M43.5 40.5h0M48.6 38.2h0M46.3 36.4h0M51.4 34.2h0M49.1 32.4h0M54.2 30.2h0M51.9 28.4h0M57.1 26.2h0M54.7 24.4h0M59.9 22.1h0M57.6 20.4h0M28.2 75h0M25.9 73.2h0M31 70.9h0M28.7 69.2h0M33.8 66.9h0M31.5 65.2h0M36.6 62.9h0M34.3 61.2h0M39.4 58.9h0M37.1 57.1h0M42.2 54.9h0M39.9 53.1h0M45.1 50.9h0M42.8 49.1h0M47.9 46.9h0M45.6 45.1h0M50.7 42.8h0M48.4 41.1h0M53.5 38.8h0M51.2 37.1h0M56.3 34.8h0M54 33.1h0M59.1 30.8h0M56.8 29h0M61.9 26.8h0M59.6 25h0M64.7 22.8h0M62.4 21h0M33.1 75.6h0M30.8 73.8h0M35.9 71.6h0M33.6 69.8h0M38.7 67.6h0M36.4 65.8h0M41.5 63.5h0M39.2 61.8h0M44.3 59.5h0M42 57.8h0M47.1 55.5h0M44.8 53.8h0M49.9 51.5h0M47.6 49.7h0M52.7 47.5h0M50.4 45.7h0M55.5 43.5h0M53.2 41.7h0M58.3 39.4h0M56 37.7h0M61.2 35.4h0M58.8 33.7h0M64 31.4h0M61.7 29.7h0M66.8 27.4h0M64.5 25.6h0M69.6 23.4h0M67.3 21.6h0M72.4 19.4h0M35.6 74.4h0M40.7 72.2h0M38.4 70.4h0M43.5 68.2h0M41.2 66.4h0M46.3 64.2h0M44 62.4h0M49.2 60.1h0M46.9 58.4h0M52 56.1h0M49.7 54.4h0M54.8 52.1h0M52.5 50.4h0M57.6 48.1h0M55.3 46.3h0M60.4 44.1h0M58.1 42.3h0M63.2 40.1h0M60.9 38.3h0M66 36.1h0M63.7 34.3h0M68.8 32h0M66.5 30.3h0M71.6 28h0M69.3 26.3h0M74.4 24h0M72.1 22.3h0M77.3 20h0M40.5 75.1h0M45.6 72.8h0M43.3 71.1h0M48.4 68.8h0M46.1 67h0M51.2 64.8h0M48.9 63h0M54 60.8h0M51.7 59h0M56.8 56.8h0M54.5 55h0M59.6 52.7h0M57.3 51h0M62.4 48.7h0M60.1 47h0M65.3 44.7h0M62.9 43h0M68.1 40.7h0M65.8 38.9h0M70.9 36.7h0M68.6 34.9h0M73.7 32.7h0M71.4 30.9h0M76.5 28.7h0M74.2 26.9h0M79.3 24.6h0M77 22.9h0M82.1 20.6h0M45.3 75.7h0M50.4 73.4h0M48.1 71.7h0M53.3 69.4h0M51 67.7h0M56.1 65.4h0M53.8 63.7h0M58.9 61.4h0M56.6 59.6h0M61.7 57.4h0M59.4 55.6h0M64.5 53.4h0M62.2 51.6h0M67.3 49.4h0M65 47.6h0M70.1 45.3h0M67.8 43.6h0M72.9 41.3h0M70.6 39.6h0M75.7 37.3h0M73.4 35.6h0M78.5 33.3h0M76.2 31.5h0M81.4 29.3h0M79 27.5h0M84.2 25.3h0M81.9 23.5h0M87 21.3h0M84.7 19.5h0M55.3 74.1h0M53 72.3h0M58.1 70.1h0M55.8 68.3h0M60.9 66h0M58.6 64.3h0M63.7 62h0M61.4 60.3h0M66.5 58h0M64.2 56.3h0M69.4 54h0M67.1 52.2h0M72.2 50h0M69.9 48.2h0M75 46h0M72.7 44.2h0M77.8 42h0M75.5 40.2h0M80.6 37.9h0M78.3 36.2h0M83.4 33.9h0M81.1 32.2h0M86.2 29.9h0M83.9 28.2h0M89 25.9h0M86.7 24.1h0M91.8 21.9h0M89.5 20.1h0M60.2 74.7h0M57.9 72.9h0M63 70.7h0M60.7 68.9h0M65.8 66.7h0M63.5 64.9h0M68.6 62.7h0M66.3 60.9h0M71.4 58.6h0M69.1 56.9h0M74.2 54.6h0M71.9 52.9h0M77 50.6h0M74.7 48.9h0M79.8 46.6h0M77.5 44.8h0M82.6 42.6h0M80.3 40.8h0M85.5 38.6h0M83.1 36.8h0M88.3 34.5h0M86 32.8h0M91.1 30.5h0M88.8 28.8h0M93.9 26.5h0M91.6 24.8h0M96.7 22.5h0M94.4 20.8h0M65 75.3h0M62.7 73.6h0M67.8 71.3h0M65.5 69.6h0M70.6 67.3h0M68.3 65.5h0M73.5 63.3h0M71.2 61.5h0M76.3 59.3h0M74 57.5h0M79.1 55.2h0M76.8 53.5h0M81.9 51.2h0M79.6 49.5h0M84.7 47.2h0M82.4 45.5h0M87.5 43.2h0M85.2 41.4h0M90.3 39.2h0M88 37.4h0M93.1 35.2h0M90.8 33.4h0M95.9 31.2h0M93.6 29.4h0M98.7 27.1h0M96.4 25.4h0M101.5 23.1h0M99.2 21.4h0M69.9 75.9h0M67.6 74.2h0M72.7 71.9h0M70.4 70.2h0M75.5 67.9h0M73.2 66.2h0M78.3 63.9h0M76 62.1h0M81.1 59.9h0M78.8 58.1h0M83.9 55.9h0M81.6 54.1h0M86.7 51.9h0M84.4 50.1h0M89.6 47.8h0M87.2 46.1h0M92.4 43.8h0M90.1 42.1h0M95.2 39.8h0M92.9 38.1h0M98 35.8h0M95.7 34h0M100.8 31.8h0M98.5 30h0M103.6 27.8h0M101.3 26h0M106.4 23.8h0M104.1 22h0M109.2 19.7h0M72.4 74.8h0M77.6 72.6h0M75.3 70.8h0M80.4 68.5h0M78.1 66.8h0M83.2 64.5h0M80.9 62.8h0M86 60.5h0M83.7 58.8h0M88.8 56.5h0M86.5 54.7h0M91.6 52.5h0M89.3 50.7h0M94.4 48.5h0M92.1 46.7h0M97.2 44.5h0M94.9 42.7h0M100 40.4h0M97.7 38.7h0M102.8 36.4h0M100.5 34.7h0M105.7 32.4h0M103.3 30.7h0M108.5 28.4h0M106.2 26.6h0M109 22.6h0M77.3 75.4h0M82.4 73.2h0M80.1 71.4h0M85.2 69.2h0M82.9 67.4h0M88 65.2h0M85.7 63.4h0M90.8 61.1h0M88.5 59.4h0M91.3 55.4h0M94.2 51.4h0M97 47.3h0M99.8 43.3h0M102.6 39.3h0M82.2 76.1h0M85 72.1h0" stroke="#a4d468" stroke-width="1.4" stroke-linecap="round" fill="none"/>
</g>
<g stroke-width="1.1"><line x1="12" y1="79" x2="26" y2="79" stroke="#f08a48"/><path d="M25 77 L29 79 L25 81Z" fill="#f08a48"/><line x1="12" y1="77" x2="18.4" y2="66.2" stroke="#58b048"/><path d="M16.7 66.4 L19.8 63.5 L20 67.8Z" fill="#58b048"/></g>
<circle cx="10.8" cy="79" r="3.8" fill="#1a6bc0"/>
<text x="10.8" y="81.3" text-anchor="middle" font-family="Liberation Serif, serif" font-weight="bold" font-size="6.5" fill="#0a2040">c</text>
<text x="29.2" y="82.6" font-family="Liberation Serif, serif" font-weight="bold" font-size="10" fill="#111">a</text>
<text x="16.6" y="62" font-family="Liberation Serif, serif" font-weight="bold" font-size="10" fill="#111">b</text>
<rect x="27.4" y="88.2" width="58.6" height="66.2" fill="none" stroke="#d0d0d0" stroke-width="0.8"/>
<rect x="23" y="105" width="67.5" height="2.8" fill="#9ed848"/>
<path d="M23.5 107.6h0M25.6 105.2h0M27.6 107.6h0M29.6 105.2h0M31.7 107.6h0M33.8 105.2h0M35.8 107.6h0M37.8 105.2h0M39.9 107.6h0M42 105.2h0M44 107.6h0M46 105.2h0M48.1 107.6h0M50.1 105.2h0M52.2 107.6h0M54.2 105.2h0M56.3 107.6h0M58.3 105.2h0M60.4 107.6h0M62.4 105.2h0M64.5 107.6h0M66.5 105.2h0M68.6 107.6h0M70.7 105.2h0M72.7 107.6h0M74.8 105.2h0M76.8 107.6h0M78.8 105.2h0M80.9 107.6h0M82.9 105.2h0M85 107.6h0M87 105.2h0M89.1 107.6h0M91.1 105.2h0" stroke="#a8dc58" stroke-width="1.6" stroke-linecap="round" fill="none"/>
<line x1="23" y1="106.4" x2="90.5" y2="106.4" stroke="#78b030" stroke-width="0.6" stroke-dasharray="1 1.6"/>
<rect x="23" y="112.4" width="67.5" height="2.8" fill="#9ed848"/>
<path d="M23.5 115h0M25.6 112.6h0M27.6 115h0M29.6 112.6h0M31.7 115h0M33.8 112.6h0M35.8 115h0M37.8 112.6h0M39.9 115h0M42 112.6h0M44 115h0M46 112.6h0M48.1 115h0M50.1 112.6h0M52.2 115h0M54.2 112.6h0M56.3 115h0M58.3 112.6h0M60.4 115h0M62.4 112.6h0M64.5 115h0M66.5 112.6h0M68.6 115h0M70.7 112.6h0M72.7 115h0M74.8 112.6h0M76.8 115h0M78.8 112.6h0M80.9 115h0M82.9 112.6h0M85 115h0M87 112.6h0M89.1 115h0M91.1 112.6h0" stroke="#a8dc58" stroke-width="1.6" stroke-linecap="round" fill="none"/>
<line x1="23" y1="113.8" x2="90.5" y2="113.8" stroke="#78b030" stroke-width="0.6" stroke-dasharray="1 1.6"/>
<rect x="23" y="119.8" width="67.5" height="2.8" fill="#9ed848"/>
<path d="M23.5 122.4h0M25.6 120h0M27.6 122.4h0M29.6 120h0M31.7 122.4h0M33.8 120h0M35.8 122.4h0M37.8 120h0M39.9 122.4h0M42 120h0M44 122.4h0M46 120h0M48.1 122.4h0M50.1 120h0M52.2 122.4h0M54.2 120h0M56.3 122.4h0M58.3 120h0M60.4 122.4h0M62.4 120h0M64.5 122.4h0M66.5 120h0M68.6 122.4h0M70.7 120h0M72.7 122.4h0M74.8 120h0M76.8 122.4h0M78.8 120h0M80.9 122.4h0M82.9 120h0M85 122.4h0M87 120h0M89.1 122.4h0M91.1 120h0" stroke="#a8dc58" stroke-width="1.6" stroke-linecap="round" fill="none"/>
<line x1="23" y1="121.2" x2="90.5" y2="121.2" stroke="#78b030" stroke-width="0.6" stroke-dasharray="1 1.6"/>
<rect x="23" y="126.7" width="67.5" height="2.8" fill="#9ed848"/>
<path d="M23.5 129.3h0M25.6 126.9h0M27.6 129.3h0M29.6 126.9h0M31.7 129.3h0M33.8 126.9h0M35.8 129.3h0M37.8 126.9h0M39.9 129.3h0M42 126.9h0M44 129.3h0M46 126.9h0M48.1 129.3h0M50.1 126.9h0M52.2 129.3h0M54.2 126.9h0M56.3 129.3h0M58.3 126.9h0M60.4 129.3h0M62.4 126.9h0M64.5 129.3h0M66.5 126.9h0M68.6 129.3h0M70.7 126.9h0M72.7 129.3h0M74.8 126.9h0M76.8 129.3h0M78.8 126.9h0M80.9 129.3h0M82.9 126.9h0M85 129.3h0M87 126.9h0M89.1 129.3h0M91.1 126.9h0" stroke="#a8dc58" stroke-width="1.6" stroke-linecap="round" fill="none"/>
<line x1="23" y1="128.1" x2="90.5" y2="128.1" stroke="#78b030" stroke-width="0.6" stroke-dasharray="1 1.6"/>
<rect x="23" y="133.6" width="67.5" height="2.8" fill="#9ed848"/>
<path d="M23.5 136.2h0M25.6 133.8h0M27.6 136.2h0M29.6 133.8h0M31.7 136.2h0M33.8 133.8h0M35.8 136.2h0M37.8 133.8h0M39.9 136.2h0M42 133.8h0M44 136.2h0M46 133.8h0M48.1 136.2h0M50.1 133.8h0M52.2 136.2h0M54.2 133.8h0M56.3 136.2h0M58.3 133.8h0M60.4 136.2h0M62.4 133.8h0M64.5 136.2h0M66.5 133.8h0M68.6 136.2h0M70.7 133.8h0M72.7 136.2h0M74.8 133.8h0M76.8 136.2h0M78.8 133.8h0M80.9 136.2h0M82.9 133.8h0M85 136.2h0M87 133.8h0M89.1 136.2h0M91.1 133.8h0" stroke="#a8dc58" stroke-width="1.6" stroke-linecap="round" fill="none"/>
<line x1="23" y1="135" x2="90.5" y2="135" stroke="#78b030" stroke-width="0.6" stroke-dasharray="1 1.6"/>
<rect x="23" y="141.2" width="67.5" height="2.8" fill="#9ed848"/>
<path d="M23.5 143.8h0M25.6 141.4h0M27.6 143.8h0M29.6 141.4h0M31.7 143.8h0M33.8 141.4h0M35.8 143.8h0M37.8 141.4h0M39.9 143.8h0M42 141.4h0M44 143.8h0M46 141.4h0M48.1 143.8h0M50.1 141.4h0M52.2 143.8h0M54.2 141.4h0M56.3 143.8h0M58.3 141.4h0M60.4 143.8h0M62.4 141.4h0M64.5 143.8h0M66.5 141.4h0M68.6 143.8h0M70.7 141.4h0M72.7 143.8h0M74.8 141.4h0M76.8 143.8h0M78.8 141.4h0M80.9 143.8h0M82.9 141.4h0M85 143.8h0M87 141.4h0M89.1 143.8h0M91.1 141.4h0" stroke="#a8dc58" stroke-width="1.6" stroke-linecap="round" fill="none"/>
<line x1="23" y1="142.6" x2="90.5" y2="142.6" stroke="#78b030" stroke-width="0.6" stroke-dasharray="1 1.6"/>
<rect x="26" y="108.1" width="62.5" height="3.8" fill="#a426c8"/>
<line x1="28" y1="110" x2="87" y2="110" stroke="#e8b0f8" stroke-width="0.9" stroke-dasharray="0.9 2.9"/>
<rect x="26" y="116.1" width="62.5" height="3.8" fill="#a426c8"/>
<line x1="28" y1="118" x2="87" y2="118" stroke="#e8b0f8" stroke-width="0.9" stroke-dasharray="0.9 2.9"/>
<rect x="26" y="129.4" width="62.5" height="3.8" fill="#a426c8"/>
<line x1="28" y1="131.3" x2="87" y2="131.3" stroke="#e8b0f8" stroke-width="0.9" stroke-dasharray="0.9 2.9"/>
<rect x="26" y="137.1" width="62.5" height="3.8" fill="#a426c8"/>
<line x1="28" y1="139" x2="87" y2="139" stroke="#e8b0f8" stroke-width="0.9" stroke-dasharray="0.9 2.9"/>
<g stroke-width="1.1"><line x1="14" y1="160" x2="27" y2="160" stroke="#50a040"/><path d="M26 158.2 L30 160 L26 161.8Z" fill="#50a040"/><line x1="14" y1="160" x2="14" y2="147" stroke="#2a7ad0"/><path d="M12.2 148 L14 144 L15.8 148Z" fill="#2a7ad0"/></g>
<circle cx="14" cy="160.2" r="3.3" fill="#f07820"/>
<text x="14" y="162.3" text-anchor="middle" font-family="Liberation Serif, serif" font-weight="bold" font-size="5.5" fill="#402000">a</text>
<text x="11.8" y="142" font-family="Liberation Serif, serif" font-weight="bold" font-size="8" fill="#222">c</text>
<text x="31.5" y="163.5" font-family="Liberation Serif, serif" font-weight="bold" font-size="8.5" fill="#222">b</text>
<defs><radialGradient id="gbi" cx="0.4" cy="0.4" r="0.6"><stop offset="0" stop-color="#f0b0ff"/><stop offset="0.5" stop-color="#b030d8"/><stop offset="1" stop-color="#8a10b0"/></radialGradient><radialGradient id="gse" cx="0.4" cy="0.4" r="0.6"><stop offset="0" stop-color="#e8ffb0"/><stop offset="0.5" stop-color="#90d030"/><stop offset="1" stop-color="#60a010"/></radialGradient></defs>
<circle cx="51.7" cy="167.3" r="3.9" fill="url(#gbi)"/>
<text x="56.5" y="170.6" font-family="Liberation Serif, serif" font-weight="bold" font-size="9" fill="#222">Bi</text>
<circle cx="76" cy="167.3" r="3.9" fill="url(#gse)"/>
<text x="80.5" y="170.6" font-family="Liberation Serif, serif" font-weight="bold" font-size="9" fill="#222">Se</text>
<rect x="9.3" y="188.6" width="220.1" height="219.8" fill="#fff" stroke="#c9d2e3" stroke-width="1"/>
<clipPath id="cpd"><rect x="11.6" y="192.2" width="214.6" height="122.4"/></clipPath>
<g clip-path="url(#cpd)">
<path d="M9.3 244.2h0M12 249.8h0M11.3 260.5h0M10.6 271.3h0M9.9 282h0M25.1 191.3h0M21.7 245h0M18.2 250.2h0M21 255.8h0M14.8 255.4h0M17.5 260.9h0M20.3 266.5h0M14.1 266.1h0M16.8 271.7h0M19.6 277.2h0M13.4 276.8h0M16.2 282.4h0M15.5 293.2h0M34.1 197.2h0M27.9 245.4h0M24.4 250.6h0M27.2 256.1h0M29.9 261.7h0M23.7 261.3h0M26.5 266.9h0M29.3 272.5h0M23 272.1h0M25.8 277.6h0M28.6 283.2h0M22.4 282.8h0M21.7 293.6h0M43.7 192.5h0M37.5 192.1h0M40.3 197.6h0M43 203.2h0M36.8 202.8h0M32.7 267.3h0M32 278h0M49.9 192.9h0M52.7 198.4h0M46.5 198h0M49.2 203.6h0M52 209.2h0M48.6 214.4h0M42.4 262.5h0M45.1 268.1h0M62.3 193.7h0M56.1 193.3h0M58.9 198.8h0M61.7 204.4h0M55.5 204h0M54.8 214.7h0M57.5 220.3h0M68.6 194h0M71.3 199.6h0M65.1 199.2h0M64.4 210h0M78.2 189.3h0M74.8 194.4h0M77.5 200h0M74.1 205.2h0M77.5 248.6h0M76.8 259.3h0M76.1 270.1h0M72.7 275.3h0M84.4 189.7h0M87.2 195.2h0M84.4 238.2h0M86.5 254.6h0M83 259.7h0M85.8 265.3h0M79.6 264.9h0M82.3 270.5h0M85.1 276.1h0M78.9 275.7h0M84.4 286.8h0M93.4 244.2h0M96.1 249.8h0M89.9 249.4h0M92.7 255h0M95.4 260.5h0M89.2 260.1h0M92 265.7h0M94.8 271.3h0M88.5 270.9h0M91.3 276.4h0M94.1 282h0M87.9 281.6h0M105.8 245h0M102.3 250.2h0M105.1 255.8h0M98.9 255.4h0M101.6 260.9h0M104.4 266.5h0M98.2 266.1h0M101 271.7h0M103.7 277.2h0M97.5 276.8h0M100.3 282.4h0M96.8 287.6h0M115.4 191.7h0M118.2 197.2h0M109.2 239.8h0M114.7 251h0M108.5 250.6h0M111.3 256.1h0M114.1 261.7h0M107.9 261.3h0M110.6 266.9h0M113.4 272.5h0M107.2 272.1h0M109.9 277.6h0M112.7 283.2h0M106.5 282.8h0M127.8 192.5h0M121.6 192.1h0M124.4 197.6h0M127.2 203.2h0M121 202.8h0M123.7 208.4h0M126.5 214h0M121 251.4h0M117.5 256.5h0M123 267.7h0M116.8 267.3h0M116.1 278h0M134.1 192.9h0M136.8 198.4h0M130.6 198h0M133.4 203.6h0M136.1 209.2h0M135.4 219.9h0M126.5 262.5h0M146.5 193.7h0M140.3 193.3h0M143 198.8h0M145.8 204.4h0M139.6 204h0M142.3 209.6h0M145.1 215.1h0M138.9 214.7h0M152.7 194h0M155.4 199.6h0M149.2 199.2h0M152 204.8h0M154.7 210.4h0M148.5 210h0M151.3 215.5h0M147.8 220.7h0M151.3 264.1h0M162.3 189.3h0M158.9 194.4h0M164.4 205.6h0M158.2 205.2h0M155.4 248.2h0M160.9 259.3h0M160.3 270.1h0M171.3 243.8h0M165.1 243.4h0M167.8 249h0M170.6 254.6h0M167.1 259.7h0M169.9 265.3h0M163.7 264.9h0M166.5 270.5h0M169.2 276.1h0M163 275.7h0M165.8 281.2h0M168.5 286.8h0M180.9 239h0M177.5 244.2h0M180.2 249.8h0M174 249.4h0M176.8 255h0M179.6 260.5h0M173.4 260.1h0M176.1 265.7h0M178.9 271.3h0M172.7 270.9h0M175.4 276.4h0M178.2 282h0M172 281.6h0M171.3 292.4h0M187.1 239.4h0M189.9 245h0M186.5 250.2h0M189.2 255.7h0M183 255.4h0M185.8 260.9h0M188.5 266.5h0M182.3 266.1h0M185.1 271.7h0M187.8 277.2h0M181.6 276.8h0M184.4 282.4h0M187.1 288h0M180.9 287.6h0M183.7 293.2h0M199.6 191.7h0M202.3 197.2h0M198.9 202.4h0M193.3 239.8h0M196.1 245.4h0M198.9 251h0M195.4 256.1h0M198.2 261.7h0M192 261.3h0M194.7 266.9h0M197.5 272.5h0M191.3 272.1h0M194 277.6h0M190.6 282.8h0M189.9 293.6h0M212 192.5h0M208.5 197.6h0M211.3 203.2h0M205.1 202.8h0M207.8 208.4h0M207.1 219.1h0M204.4 262.1h0M207.1 267.7h0M203.7 272.9h0M200.2 278h0M203 283.6h0M199.6 288.8h0M218.2 192.9h0M220.9 198.4h0M214.7 198h0M217.5 203.6h0M220.2 209.2h0M214 208.8h0M216.8 214.3h0M210.6 262.5h0M224.4 193.3h0M227.1 198.8h0M223.7 204h0M226.4 209.6h0M223 214.7h0M9.9 250.2h0M10.6 260.9h0M11.3 271.7h0M12 282.4h0M9.3 288h0M15.5 239h0M18.9 244.2h0M12.7 244.6h0M16.2 249.8h0M19.6 255h0M13.4 255.4h0M16.8 260.5h0M20.3 265.7h0M14.1 266.1h0M17.5 271.3h0M21 276.4h0M14.8 276.8h0M21.7 287.2h0M15.5 287.6h0M28.6 249h0M25.8 254.6h0M29.3 259.7h0M23 260.1h0M26.5 265.3h0M29.9 270.5h0M23.7 270.9h0M27.2 276.1h0M24.4 281.6h0M27.9 286.8h0M34.8 200h0M32 205.6h0M35.5 259.3h0M38.9 264.5h0M32.7 264.9h0M33.4 275.7h0M43.7 194h0M37.5 194.4h0M41 199.6h0M44.4 204.8h0M41.7 210.4h0M49.9 193.7h0M53.4 198.8h0M47.2 199.2h0M50.6 204.4h0M54.1 209.6h0M47.9 210h0M51.3 215.1h0M62.3 192.9h0M56.1 193.3h0M59.6 198.4h0M63 203.6h0M56.8 204h0M57.5 214.7h0M61 219.9h0M68.6 192.5h0M72 197.6h0M65.8 198h0M69.2 203.2h0M72.7 208.4h0M69.9 214h0M67.2 219.5h0M75.4 251.4h0M76.1 262.1h0M76.8 272.9h0M74.1 278.4h0M74.8 192.1h0M75.4 202.8h0M81 240.2h0M84.4 245.4h0M81.7 251h0M85.1 256.1h0M78.9 256.5h0M82.3 261.7h0M85.8 266.9h0M79.6 267.3h0M83 272.5h0M86.5 277.6h0M80.3 278h0M83.7 283.2h0M87.2 288.4h0M84.4 294h0M87.2 191.3h0M90.6 245h0M94.1 250.2h0M87.9 250.6h0M91.3 255.8h0M94.8 260.9h0M88.5 261.3h0M92 266.5h0M95.4 271.7h0M89.2 272.1h0M92.7 277.2h0M96.1 282.4h0M89.9 282.8h0M93.4 288h0M103 244.2h0M100.3 249.8h0M103.7 255h0M97.5 255.4h0M101 260.5h0M104.4 265.7h0M98.2 266.1h0M101.6 271.3h0M105.1 276.4h0M98.9 276.8h0M102.3 282h0M109.2 243.8h0M106.5 249.4h0M109.9 254.6h0M113.4 259.7h0M107.2 260.1h0M110.6 265.3h0M114.1 270.5h0M107.9 270.9h0M111.3 276.1h0M108.5 281.6h0M112 286.8h0M115.4 292h0M109.2 292.4h0M118.2 189.3h0M118.9 200h0M116.1 205.6h0M118.9 248.6h0M116.1 254.2h0M116.8 264.9h0M123.7 275.3h0M117.5 275.7h0M127.8 194h0M125.1 199.6h0M128.5 204.8h0M123 215.9h0M125.1 248.2h0M129.2 264.1h0M134.1 193.7h0M137.5 198.8h0M131.3 199.2h0M134.7 204.4h0M138.2 209.6h0M135.4 215.1h0M138.9 220.3h0M146.5 192.9h0M140.3 193.3h0M143.7 198.4h0M147.2 203.6h0M140.9 204h0M144.4 209.2h0M141.6 214.7h0M145.1 219.9h0M152.7 192.5h0M156.1 197.6h0M149.9 198h0M153.4 203.2h0M156.8 208.4h0M150.6 208.8h0M154 214h0M151.3 219.5h0M159.6 251.4h0M153.4 251.8h0M156.8 256.9h0M157.5 267.7h0M160.9 272.9h0M158.9 192.1h0M162.3 197.2h0M165.8 202.4h0M159.6 202.8h0M165.1 240.2h0M168.5 245.4h0M165.8 251h0M169.2 256.1h0M163 256.5h0M166.5 261.7h0M169.9 266.9h0M163.7 267.3h0M167.1 272.5h0M170.6 277.6h0M164.4 278h0M171.3 288.4h0M165.1 288.8h0M178.2 250.2h0M172 250.6h0M175.4 255.8h0M178.9 260.9h0M172.7 261.3h0M176.1 266.5h0M179.6 271.7h0M173.4 272.1h0M176.8 277.2h0M180.2 282.4h0M177.5 288h0M174.7 293.6h0M180.2 233.9h0M180.9 244.6h0M184.4 249.8h0M187.8 255h0M181.6 255.4h0M185.1 260.5h0M188.5 265.7h0M182.3 266.1h0M185.8 271.3h0M189.2 276.5h0M183 276.8h0M186.5 282h0M189.9 287.2h0M183.7 287.6h0M196.1 238.2h0M190.6 249.4h0M197.5 259.7h0M191.3 260.1h0M194.7 265.3h0M198.2 270.5h0M192 270.9h0M195.4 276.1h0M196.1 286.8h0M202.3 189.3h0M196.1 189.7h0M199.6 194.8h0M200.2 205.6h0M200.2 254.2h0M203.7 259.3h0M207.1 264.5h0M200.9 264.9h0M204.4 270.1h0M205.1 280.8h0M202.3 286.4h0M212 194.1h0M205.8 194.4h0M209.2 199.6h0M212.7 204.8h0M206.4 205.2h0M209.9 210.4h0M207.1 215.9h0M209.9 258.9h0M210.6 269.7h0M218.2 193.7h0M221.6 198.8h0M215.4 199.2h0M218.9 204.4h0M222.3 209.6h0M216.1 210h0M224.4 193.3h0M227.8 198.4h0M225.1 204h0M228.5 209.2h0M225.8 214.7h0" stroke="#bcbc30" stroke-width="7.0" stroke-linecap="round" fill="none"/>
<path d="M9.3 244.2h0M12 249.8h0M11.3 260.5h0M10.6 271.3h0M9.9 282h0M25.1 191.3h0M21.7 245h0M18.2 250.2h0M21 255.8h0M14.8 255.4h0M17.5 260.9h0M20.3 266.5h0M14.1 266.1h0M16.8 271.7h0M19.6 277.2h0M13.4 276.8h0M16.2 282.4h0M15.5 293.2h0M34.1 197.2h0M27.9 245.4h0M24.4 250.6h0M27.2 256.1h0M29.9 261.7h0M23.7 261.3h0M26.5 266.9h0M29.3 272.5h0M23 272.1h0M25.8 277.6h0M28.6 283.2h0M22.4 282.8h0M21.7 293.6h0M43.7 192.5h0M37.5 192.1h0M40.3 197.6h0M43 203.2h0M36.8 202.8h0M32.7 267.3h0M32 278h0M49.9 192.9h0M52.7 198.4h0M46.5 198h0M49.2 203.6h0M52 209.2h0M48.6 214.4h0M42.4 262.5h0M45.1 268.1h0M62.3 193.7h0M56.1 193.3h0M58.9 198.8h0M61.7 204.4h0M55.5 204h0M54.8 214.7h0M57.5 220.3h0M68.6 194h0M71.3 199.6h0M65.1 199.2h0M64.4 210h0M78.2 189.3h0M74.8 194.4h0M77.5 200h0M74.1 205.2h0M77.5 248.6h0M76.8 259.3h0M76.1 270.1h0M72.7 275.3h0M84.4 189.7h0M87.2 195.2h0M84.4 238.2h0M86.5 254.6h0M83 259.7h0M85.8 265.3h0M79.6 264.9h0M82.3 270.5h0M85.1 276.1h0M78.9 275.7h0M84.4 286.8h0M93.4 244.2h0M96.1 249.8h0M89.9 249.4h0M92.7 255h0M95.4 260.5h0M89.2 260.1h0M92 265.7h0M94.8 271.3h0M88.5 270.9h0M91.3 276.4h0M94.1 282h0M87.9 281.6h0M105.8 245h0M102.3 250.2h0M105.1 255.8h0M98.9 255.4h0M101.6 260.9h0M104.4 266.5h0M98.2 266.1h0M101 271.7h0M103.7 277.2h0M97.5 276.8h0M100.3 282.4h0M96.8 287.6h0M115.4 191.7h0M118.2 197.2h0M109.2 239.8h0M114.7 251h0M108.5 250.6h0M111.3 256.1h0M114.1 261.7h0M107.9 261.3h0M110.6 266.9h0M113.4 272.5h0M107.2 272.1h0M109.9 277.6h0M112.7 283.2h0M106.5 282.8h0M127.8 192.5h0M121.6 192.1h0M124.4 197.6h0M127.2 203.2h0M121 202.8h0M123.7 208.4h0M126.5 214h0M121 251.4h0M117.5 256.5h0M123 267.7h0M116.8 267.3h0M116.1 278h0M134.1 192.9h0M136.8 198.4h0M130.6 198h0M133.4 203.6h0M136.1 209.2h0M135.4 219.9h0M126.5 262.5h0M146.5 193.7h0M140.3 193.3h0M143 198.8h0M145.8 204.4h0M139.6 204h0M142.3 209.6h0M145.1 215.1h0M138.9 214.7h0M152.7 194h0M155.4 199.6h0M149.2 199.2h0M152 204.8h0M154.7 210.4h0M148.5 210h0M151.3 215.5h0M147.8 220.7h0M151.3 264.1h0M162.3 189.3h0M158.9 194.4h0M164.4 205.6h0M158.2 205.2h0M155.4 248.2h0M160.9 259.3h0M160.3 270.1h0M171.3 243.8h0M165.1 243.4h0M167.8 249h0M170.6 254.6h0M167.1 259.7h0M169.9 265.3h0M163.7 264.9h0M166.5 270.5h0M169.2 276.1h0M163 275.7h0M165.8 281.2h0M168.5 286.8h0M180.9 239h0M177.5 244.2h0M180.2 249.8h0M174 249.4h0M176.8 255h0M179.6 260.5h0M173.4 260.1h0M176.1 265.7h0M178.9 271.3h0M172.7 270.9h0M175.4 276.4h0M178.2 282h0M172 281.6h0M171.3 292.4h0M187.1 239.4h0M189.9 245h0M186.5 250.2h0M189.2 255.7h0M183 255.4h0M185.8 260.9h0M188.5 266.5h0M182.3 266.1h0M185.1 271.7h0M187.8 277.2h0M181.6 276.8h0M184.4 282.4h0M187.1 288h0M180.9 287.6h0M183.7 293.2h0M199.6 191.7h0M202.3 197.2h0M198.9 202.4h0M193.3 239.8h0M196.1 245.4h0M198.9 251h0M195.4 256.1h0M198.2 261.7h0M192 261.3h0M194.7 266.9h0M197.5 272.5h0M191.3 272.1h0M194 277.6h0M190.6 282.8h0M189.9 293.6h0M212 192.5h0M208.5 197.6h0M211.3 203.2h0M205.1 202.8h0M207.8 208.4h0M207.1 219.1h0M204.4 262.1h0M207.1 267.7h0M203.7 272.9h0M200.2 278h0M203 283.6h0M199.6 288.8h0M218.2 192.9h0M220.9 198.4h0M214.7 198h0M217.5 203.6h0M220.2 209.2h0M214 208.8h0M216.8 214.3h0M210.6 262.5h0M224.4 193.3h0M227.1 198.8h0M223.7 204h0M226.4 209.6h0M223 214.7h0M9.9 250.2h0M10.6 260.9h0M11.3 271.7h0M12 282.4h0M9.3 288h0M15.5 239h0M18.9 244.2h0M12.7 244.6h0M16.2 249.8h0M19.6 255h0M13.4 255.4h0M16.8 260.5h0M20.3 265.7h0M14.1 266.1h0M17.5 271.3h0M21 276.4h0M14.8 276.8h0M21.7 287.2h0M15.5 287.6h0M28.6 249h0M25.8 254.6h0M29.3 259.7h0M23 260.1h0M26.5 265.3h0M29.9 270.5h0M23.7 270.9h0M27.2 276.1h0M24.4 281.6h0M27.9 286.8h0M34.8 200h0M32 205.6h0M35.5 259.3h0M38.9 264.5h0M32.7 264.9h0M33.4 275.7h0M43.7 194h0M37.5 194.4h0M41 199.6h0M44.4 204.8h0M41.7 210.4h0M49.9 193.7h0M53.4 198.8h0M47.2 199.2h0M50.6 204.4h0M54.1 209.6h0M47.9 210h0M51.3 215.1h0M62.3 192.9h0M56.1 193.3h0M59.6 198.4h0M63 203.6h0M56.8 204h0M57.5 214.7h0M61 219.9h0M68.6 192.5h0M72 197.6h0M65.8 198h0M69.2 203.2h0M72.7 208.4h0M69.9 214h0M67.2 219.5h0M75.4 251.4h0M76.1 262.1h0M76.8 272.9h0M74.1 278.4h0M74.8 192.1h0M75.4 202.8h0M81 240.2h0M84.4 245.4h0M81.7 251h0M85.1 256.1h0M78.9 256.5h0M82.3 261.7h0M85.8 266.9h0M79.6 267.3h0M83 272.5h0M86.5 277.6h0M80.3 278h0M83.7 283.2h0M87.2 288.4h0M84.4 294h0M87.2 191.3h0M90.6 245h0M94.1 250.2h0M87.9 250.6h0M91.3 255.8h0M94.8 260.9h0M88.5 261.3h0M92 266.5h0M95.4 271.7h0M89.2 272.1h0M92.7 277.2h0M96.1 282.4h0M89.9 282.8h0M93.4 288h0M103 244.2h0M100.3 249.8h0M103.7 255h0M97.5 255.4h0M101 260.5h0M104.4 265.7h0M98.2 266.1h0M101.6 271.3h0M105.1 276.4h0M98.9 276.8h0M102.3 282h0M109.2 243.8h0M106.5 249.4h0M109.9 254.6h0M113.4 259.7h0M107.2 260.1h0M110.6 265.3h0M114.1 270.5h0M107.9 270.9h0M111.3 276.1h0M108.5 281.6h0M112 286.8h0M115.4 292h0M109.2 292.4h0M118.2 189.3h0M118.9 200h0M116.1 205.6h0M118.9 248.6h0M116.1 254.2h0M116.8 264.9h0M123.7 275.3h0M117.5 275.7h0M127.8 194h0M125.1 199.6h0M128.5 204.8h0M123 215.9h0M125.1 248.2h0M129.2 264.1h0M134.1 193.7h0M137.5 198.8h0M131.3 199.2h0M134.7 204.4h0M138.2 209.6h0M135.4 215.1h0M138.9 220.3h0M146.5 192.9h0M140.3 193.3h0M143.7 198.4h0M147.2 203.6h0M140.9 204h0M144.4 209.2h0M141.6 214.7h0M145.1 219.9h0M152.7 192.5h0M156.1 197.6h0M149.9 198h0M153.4 203.2h0M156.8 208.4h0M150.6 208.8h0M154 214h0M151.3 219.5h0M159.6 251.4h0M153.4 251.8h0M156.8 256.9h0M157.5 267.7h0M160.9 272.9h0M158.9 192.1h0M162.3 197.2h0M165.8 202.4h0M159.6 202.8h0M165.1 240.2h0M168.5 245.4h0M165.8 251h0M169.2 256.1h0M163 256.5h0M166.5 261.7h0M169.9 266.9h0M163.7 267.3h0M167.1 272.5h0M170.6 277.6h0M164.4 278h0M171.3 288.4h0M165.1 288.8h0M178.2 250.2h0M172 250.6h0M175.4 255.8h0M178.9 260.9h0M172.7 261.3h0M176.1 266.5h0M179.6 271.7h0M173.4 272.1h0M176.8 277.2h0M180.2 282.4h0M177.5 288h0M174.7 293.6h0M180.2 233.9h0M180.9 244.6h0M184.4 249.8h0M187.8 255h0M181.6 255.4h0M185.1 260.5h0M188.5 265.7h0M182.3 266.1h0M185.8 271.3h0M189.2 276.5h0M183 276.8h0M186.5 282h0M189.9 287.2h0M183.7 287.6h0M196.1 238.2h0M190.6 249.4h0M197.5 259.7h0M191.3 260.1h0M194.7 265.3h0M198.2 270.5h0M192 270.9h0M195.4 276.1h0M196.1 286.8h0M202.3 189.3h0M196.1 189.7h0M199.6 194.8h0M200.2 205.6h0M200.2 254.2h0M203.7 259.3h0M207.1 264.5h0M200.9 264.9h0M204.4 270.1h0M205.1 280.8h0M202.3 286.4h0M212 194.1h0M205.8 194.4h0M209.2 199.6h0M212.7 204.8h0M206.4 205.2h0M209.9 210.4h0M207.1 215.9h0M209.9 258.9h0M210.6 269.7h0M218.2 193.7h0M221.6 198.8h0M215.4 199.2h0M218.9 204.4h0M222.3 209.6h0M216.1 210h0M224.4 193.3h0M227.8 198.4h0M225.1 204h0M228.5 209.2h0M225.8 214.7h0" stroke="#dcdc3c" stroke-width="5.4" stroke-linecap="round" fill="none"/>
<path d="M9.3 244.2h0M12 249.8h0M11.3 260.5h0M10.6 271.3h0M9.9 282h0M25.1 191.3h0M21.7 245h0M18.2 250.2h0M21 255.8h0M14.8 255.4h0M17.5 260.9h0M20.3 266.5h0M14.1 266.1h0M16.8 271.7h0M19.6 277.2h0M13.4 276.8h0M16.2 282.4h0M15.5 293.2h0M34.1 197.2h0M27.9 245.4h0M24.4 250.6h0M27.2 256.1h0M29.9 261.7h0M23.7 261.3h0M26.5 266.9h0M29.3 272.5h0M23 272.1h0M25.8 277.6h0M28.6 283.2h0M22.4 282.8h0M21.7 293.6h0M43.7 192.5h0M37.5 192.1h0M40.3 197.6h0M43 203.2h0M36.8 202.8h0M32.7 267.3h0M32 278h0M49.9 192.9h0M52.7 198.4h0M46.5 198h0M49.2 203.6h0M52 209.2h0M48.6 214.4h0M42.4 262.5h0M45.1 268.1h0M62.3 193.7h0M56.1 193.3h0M58.9 198.8h0M61.7 204.4h0M55.5 204h0M54.8 214.7h0M57.5 220.3h0M68.6 194h0M71.3 199.6h0M65.1 199.2h0M64.4 210h0M78.2 189.3h0M74.8 194.4h0M77.5 200h0M74.1 205.2h0M77.5 248.6h0M76.8 259.3h0M76.1 270.1h0M72.7 275.3h0M84.4 189.7h0M87.2 195.2h0M84.4 238.2h0M86.5 254.6h0M83 259.7h0M85.8 265.3h0M79.6 264.9h0M82.3 270.5h0M85.1 276.1h0M78.9 275.7h0M84.4 286.8h0M93.4 244.2h0M96.1 249.8h0M89.9 249.4h0M92.7 255h0M95.4 260.5h0M89.2 260.1h0M92 265.7h0M94.8 271.3h0M88.5 270.9h0M91.3 276.4h0M94.1 282h0M87.9 281.6h0M105.8 245h0M102.3 250.2h0M105.1 255.8h0M98.9 255.4h0M101.6 260.9h0M104.4 266.5h0M98.2 266.1h0M101 271.7h0M103.7 277.2h0M97.5 276.8h0M100.3 282.4h0M96.8 287.6h0M115.4 191.7h0M118.2 197.2h0M109.2 239.8h0M114.7 251h0M108.5 250.6h0M111.3 256.1h0M114.1 261.7h0M107.9 261.3h0M110.6 266.9h0M113.4 272.5h0M107.2 272.1h0M109.9 277.6h0M112.7 283.2h0M106.5 282.8h0M127.8 192.5h0M121.6 192.1h0M124.4 197.6h0M127.2 203.2h0M121 202.8h0M123.7 208.4h0M126.5 214h0M121 251.4h0M117.5 256.5h0M123 267.7h0M116.8 267.3h0M116.1 278h0M134.1 192.9h0M136.8 198.4h0M130.6 198h0M133.4 203.6h0M136.1 209.2h0M135.4 219.9h0M126.5 262.5h0M146.5 193.7h0M140.3 193.3h0M143 198.8h0M145.8 204.4h0M139.6 204h0M142.3 209.6h0M145.1 215.1h0M138.9 214.7h0M152.7 194h0M155.4 199.6h0M149.2 199.2h0M152 204.8h0M154.7 210.4h0M148.5 210h0M151.3 215.5h0M147.8 220.7h0M151.3 264.1h0M162.3 189.3h0M158.9 194.4h0M164.4 205.6h0M158.2 205.2h0M155.4 248.2h0M160.9 259.3h0M160.3 270.1h0M171.3 243.8h0M165.1 243.4h0M167.8 249h0M170.6 254.6h0M167.1 259.7h0M169.9 265.3h0M163.7 264.9h0M166.5 270.5h0M169.2 276.1h0M163 275.7h0M165.8 281.2h0M168.5 286.8h0M180.9 239h0M177.5 244.2h0M180.2 249.8h0M174 249.4h0M176.8 255h0M179.6 260.5h0M173.4 260.1h0M176.1 265.7h0M178.9 271.3h0M172.7 270.9h0M175.4 276.4h0M178.2 282h0M172 281.6h0M171.3 292.4h0M187.1 239.4h0M189.9 245h0M186.5 250.2h0M189.2 255.7h0M183 255.4h0M185.8 260.9h0M188.5 266.5h0M182.3 266.1h0M185.1 271.7h0M187.8 277.2h0M181.6 276.8h0M184.4 282.4h0M187.1 288h0M180.9 287.6h0M183.7 293.2h0M199.6 191.7h0M202.3 197.2h0M198.9 202.4h0M193.3 239.8h0M196.1 245.4h0M198.9 251h0M195.4 256.1h0M198.2 261.7h0M192 261.3h0M194.7 266.9h0M197.5 272.5h0M191.3 272.1h0M194 277.6h0M190.6 282.8h0M189.9 293.6h0M212 192.5h0M208.5 197.6h0M211.3 203.2h0M205.1 202.8h0M207.8 208.4h0M207.1 219.1h0M204.4 262.1h0M207.1 267.7h0M203.7 272.9h0M200.2 278h0M203 283.6h0M199.6 288.8h0M218.2 192.9h0M220.9 198.4h0M214.7 198h0M217.5 203.6h0M220.2 209.2h0M214 208.8h0M216.8 214.3h0M210.6 262.5h0M224.4 193.3h0M227.1 198.8h0M223.7 204h0M226.4 209.6h0M223 214.7h0M9.9 250.2h0M10.6 260.9h0M11.3 271.7h0M12 282.4h0M9.3 288h0M15.5 239h0M18.9 244.2h0M12.7 244.6h0M16.2 249.8h0M19.6 255h0M13.4 255.4h0M16.8 260.5h0M20.3 265.7h0M14.1 266.1h0M17.5 271.3h0M21 276.4h0M14.8 276.8h0M21.7 287.2h0M15.5 287.6h0M28.6 249h0M25.8 254.6h0M29.3 259.7h0M23 260.1h0M26.5 265.3h0M29.9 270.5h0M23.7 270.9h0M27.2 276.1h0M24.4 281.6h0M27.9 286.8h0M34.8 200h0M32 205.6h0M35.5 259.3h0M38.9 264.5h0M32.7 264.9h0M33.4 275.7h0M43.7 194h0M37.5 194.4h0M41 199.6h0M44.4 204.8h0M41.7 210.4h0M49.9 193.7h0M53.4 198.8h0M47.2 199.2h0M50.6 204.4h0M54.1 209.6h0M47.9 210h0M51.3 215.1h0M62.3 192.9h0M56.1 193.3h0M59.6 198.4h0M63 203.6h0M56.8 204h0M57.5 214.7h0M61 219.9h0M68.6 192.5h0M72 197.6h0M65.8 198h0M69.2 203.2h0M72.7 208.4h0M69.9 214h0M67.2 219.5h0M75.4 251.4h0M76.1 262.1h0M76.8 272.9h0M74.1 278.4h0M74.8 192.1h0M75.4 202.8h0M81 240.2h0M84.4 245.4h0M81.7 251h0M85.1 256.1h0M78.9 256.5h0M82.3 261.7h0M85.8 266.9h0M79.6 267.3h0M83 272.5h0M86.5 277.6h0M80.3 278h0M83.7 283.2h0M87.2 288.4h0M84.4 294h0M87.2 191.3h0M90.6 245h0M94.1 250.2h0M87.9 250.6h0M91.3 255.8h0M94.8 260.9h0M88.5 261.3h0M92 266.5h0M95.4 271.7h0M89.2 272.1h0M92.7 277.2h0M96.1 282.4h0M89.9 282.8h0M93.4 288h0M103 244.2h0M100.3 249.8h0M103.7 255h0M97.5 255.4h0M101 260.5h0M104.4 265.7h0M98.2 266.1h0M101.6 271.3h0M105.1 276.4h0M98.9 276.8h0M102.3 282h0M109.2 243.8h0M106.5 249.4h0M109.9 254.6h0M113.4 259.7h0M107.2 260.1h0M110.6 265.3h0M114.1 270.5h0M107.9 270.9h0M111.3 276.1h0M108.5 281.6h0M112 286.8h0M115.4 292h0M109.2 292.4h0M118.2 189.3h0M118.9 200h0M116.1 205.6h0M118.9 248.6h0M116.1 254.2h0M116.8 264.9h0M123.7 275.3h0M117.5 275.7h0M127.8 194h0M125.1 199.6h0M128.5 204.8h0M123 215.9h0M125.1 248.2h0M129.2 264.1h0M134.1 193.7h0M137.5 198.8h0M131.3 199.2h0M134.7 204.4h0M138.2 209.6h0M135.4 215.1h0M138.9 220.3h0M146.5 192.9h0M140.3 193.3h0M143.7 198.4h0M147.2 203.6h0M140.9 204h0M144.4 209.2h0M141.6 214.7h0M145.1 219.9h0M152.7 192.5h0M156.1 197.6h0M149.9 198h0M153.4 203.2h0M156.8 208.4h0M150.6 208.8h0M154 214h0M151.3 219.5h0M159.6 251.4h0M153.4 251.8h0M156.8 256.9h0M157.5 267.7h0M160.9 272.9h0M158.9 192.1h0M162.3 197.2h0M165.8 202.4h0M159.6 202.8h0M165.1 240.2h0M168.5 245.4h0M165.8 251h0M169.2 256.1h0M163 256.5h0M166.5 261.7h0M169.9 266.9h0M163.7 267.3h0M167.1 272.5h0M170.6 277.6h0M164.4 278h0M171.3 288.4h0M165.1 288.8h0M178.2 250.2h0M172 250.6h0M175.4 255.8h0M178.9 260.9h0M172.7 261.3h0M176.1 266.5h0M179.6 271.7h0M173.4 272.1h0M176.8 277.2h0M180.2 282.4h0M177.5 288h0M174.7 293.6h0M180.2 233.9h0M180.9 244.6h0M184.4 249.8h0M187.8 255h0M181.6 255.4h0M185.1 260.5h0M188.5 265.7h0M182.3 266.1h0M185.8 271.3h0M189.2 276.5h0M183 276.8h0M186.5 282h0M189.9 287.2h0M183.7 287.6h0M196.1 238.2h0M190.6 249.4h0M197.5 259.7h0M191.3 260.1h0M194.7 265.3h0M198.2 270.5h0M192 270.9h0M195.4 276.1h0M196.1 286.8h0M202.3 189.3h0M196.1 189.7h0M199.6 194.8h0M200.2 205.6h0M200.2 254.2h0M203.7 259.3h0M207.1 264.5h0M200.9 264.9h0M204.4 270.1h0M205.1 280.8h0M202.3 286.4h0M212 194.1h0M205.8 194.4h0M209.2 199.6h0M212.7 204.8h0M206.4 205.2h0M209.9 210.4h0M207.1 215.9h0M209.9 258.9h0M210.6 269.7h0M218.2 193.7h0M221.6 198.8h0M215.4 199.2h0M218.9 204.4h0M222.3 209.6h0M216.1 210h0M224.4 193.3h0M227.8 198.4h0M225.1 204h0M228.5 209.2h0M225.8 214.7h0" stroke="#f0f0b4" stroke-width="2.6" stroke-linecap="round" fill="none"/>
<path d="M15.5 196h0M9.3 195.6h0M14.8 206.8h0M14.1 217.5h0M13.4 228.3h0M12.7 239h0M9.3 292.8h0M25.1 191.3h0M18.9 190.9h0M24.4 202h0M18.2 201.6h0M23.7 212.8h0M17.5 212.4h0M23 223.5h0M16.8 223.1h0M22.4 234.3h0M16.2 233.9h0M18.2 298.7h0M12 298.3h0M17.5 309.5h0M11.3 309.1h0M27.9 196.8h0M33.4 208h0M27.2 207.6h0M32.7 218.7h0M26.5 218.3h0M32 229.5h0M25.8 229.1h0M31.3 240.2h0M25.1 239.8h0M27.9 294h0M21.7 293.6h0M27.2 304.7h0M21 304.3h0M26.5 315.5h0M20.3 315.1h0M42.4 214h0M36.1 213.6h0M41.7 224.7h0M35.5 224.3h0M41 235.4h0M34.8 235.1h0M40.3 246.2h0M34.1 245.8h0M39.6 256.9h0M38.9 267.7h0M38.2 278.4h0M37.5 289.2h0M31.3 288.8h0M36.8 299.9h0M30.6 299.5h0M36.1 310.7h0M29.9 310.3h0M51.3 219.9h0M45.1 219.5h0M50.6 230.7h0M44.4 230.3h0M49.9 241.4h0M43.7 241h0M49.2 252.2h0M43 251.8h0M48.6 262.9h0M42.4 262.5h0M47.9 273.7h0M41.7 273.3h0M47.2 284.4h0M41 284h0M46.5 295.2h0M40.3 294.8h0M45.8 305.9h0M39.6 305.5h0M45.1 316.7h0M38.9 316.3h0M60.3 225.9h0M54.1 225.5h0M59.6 236.6h0M53.4 236.2h0M58.9 247.4h0M52.7 247h0M58.2 258.1h0M52 257.7h0M57.5 268.9h0M51.3 268.5h0M56.8 279.6h0M50.6 279.2h0M56.1 290.4h0M49.9 290h0M55.5 301.1h0M49.2 300.7h0M54.8 311.9h0M48.6 311.5h0M69.9 221.1h0M63.7 220.7h0M69.2 231.9h0M63 231.5h0M68.6 242.6h0M62.3 242.2h0M67.9 253.4h0M61.7 253h0M67.2 264.1h0M61 263.7h0M66.5 274.9h0M60.3 274.5h0M65.8 285.6h0M59.6 285.2h0M65.1 296.4h0M58.9 296h0M64.4 307.1h0M58.2 306.7h0M57.5 317.5h0M81 194.8h0M80.3 205.6h0M79.6 216.3h0M73.4 215.9h0M78.9 227.1h0M72.7 226.7h0M78.2 237.8h0M72 237.4h0M77.5 248.6h0M71.3 248.2h0M70.6 258.9h0M69.9 269.7h0M75.4 280.8h0M69.2 280.4h0M74.8 291.6h0M68.6 291.2h0M74.1 302.3h0M67.9 301.9h0M73.4 313.1h0M67.2 312.7h0M90.6 190.1h0M84.4 189.7h0M89.9 200.8h0M83.7 200.4h0M89.2 211.6h0M83 211.2h0M88.5 222.3h0M82.3 221.9h0M87.9 233.1h0M81.7 232.7h0M87.2 243.8h0M81 243.4h0M84.4 286.8h0M78.2 286.4h0M83.7 297.5h0M77.5 297.1h0M83 308.3h0M76.8 307.9h0M99.6 196h0M93.4 195.6h0M98.9 206.8h0M92.7 206.4h0M98.2 217.5h0M92 217.1h0M97.5 228.3h0M91.3 227.9h0M96.8 239h0M90.6 238.6h0M93.4 292.8h0M87.2 292.4h0M92.7 303.5h0M86.5 303.1h0M92 314.3h0M85.8 313.9h0M109.2 191.3h0M103 190.9h0M108.5 202h0M102.3 201.6h0M107.9 212.8h0M101.6 212.4h0M107.2 223.5h0M101 223.1h0M106.5 234.3h0M100.3 233.9h0M102.3 298.7h0M96.1 298.3h0M101.6 309.5h0M95.4 309.1h0M112 196.8h0M117.5 208h0M111.3 207.6h0M116.8 218.7h0M110.6 218.3h0M116.1 229.5h0M109.9 229.1h0M115.4 240.2h0M109.2 239.8h0M112 294h0M105.8 293.6h0M111.3 304.7h0M105.1 304.3h0M110.6 315.5h0M104.4 315.1h0M126.5 214h0M120.3 213.6h0M125.8 224.7h0M119.6 224.3h0M125.1 235.4h0M118.9 235.1h0M124.4 246.2h0M118.2 245.8h0M123.7 256.9h0M123 267.7h0M122.3 278.4h0M121.6 289.2h0M115.4 288.8h0M121 299.9h0M114.7 299.5h0M120.3 310.7h0M114.1 310.3h0M135.4 219.9h0M129.2 219.5h0M134.7 230.7h0M128.5 230.3h0M134.1 241.4h0M127.8 241h0M133.4 252.2h0M127.2 251.8h0M132.7 262.9h0M126.5 262.5h0M132 273.7h0M125.8 273.3h0M131.3 284.4h0M125.1 284h0M130.6 295.2h0M124.4 294.8h0M129.9 305.9h0M123.7 305.5h0M129.2 316.7h0M123 316.3h0M144.4 225.9h0M138.2 225.5h0M143.7 236.6h0M137.5 236.2h0M143 247.4h0M136.8 247h0M142.3 258.1h0M136.1 257.7h0M141.6 268.9h0M135.4 268.5h0M140.9 279.6h0M134.7 279.2h0M140.3 290.4h0M134.1 290h0M139.6 301.1h0M133.4 300.7h0M138.9 311.9h0M132.7 311.5h0M154 221.1h0M147.8 220.7h0M153.4 231.9h0M147.2 231.5h0M152.7 242.6h0M146.5 242.2h0M152 253.4h0M145.8 253h0M151.3 264.1h0M145.1 263.7h0M150.6 274.9h0M144.4 274.5h0M149.9 285.6h0M143.7 285.2h0M149.2 296.4h0M143 296h0M148.5 307.1h0M142.3 306.7h0M141.6 317.5h0M165.1 194.8h0M164.4 205.6h0M163.7 216.3h0M157.5 215.9h0M163 227.1h0M156.8 226.7h0M162.3 237.8h0M156.1 237.4h0M161.6 248.6h0M155.4 248.2h0M154.7 258.9h0M154 269.7h0M159.6 280.8h0M153.4 280.4h0M158.9 291.6h0M152.7 291.2h0M158.2 302.3h0M152 301.9h0M157.5 313.1h0M151.3 312.7h0M174.7 190.1h0M168.5 189.7h0M174 200.8h0M167.8 200.4h0M173.4 211.6h0M167.1 211.2h0M172.7 222.3h0M166.5 221.9h0M172 233.1h0M165.8 232.7h0M171.3 243.8h0M165.1 243.4h0M168.5 286.8h0M162.3 286.4h0M167.8 297.5h0M161.6 297.1h0M167.1 308.3h0M160.9 307.9h0M183.7 196h0M177.5 195.6h0M183 206.8h0M176.8 206.4h0M182.3 217.5h0M176.1 217.1h0M181.6 228.3h0M175.4 227.9h0M180.9 239h0M174.7 238.6h0M177.5 292.8h0M171.3 292.4h0M176.8 303.5h0M170.6 303.1h0M176.1 314.3h0M169.9 313.9h0M193.3 191.3h0M187.1 190.9h0M192.7 202h0M186.5 201.6h0M192 212.8h0M185.8 212.4h0M191.3 223.5h0M185.1 223.1h0M190.6 234.3h0M184.4 233.9h0M186.5 298.7h0M180.2 298.3h0M185.8 309.5h0M179.6 309.1h0M196.1 196.8h0M201.6 208h0M195.4 207.6h0M200.9 218.7h0M194.7 218.3h0M200.2 229.5h0M194 229.1h0M199.6 240.2h0M193.3 239.8h0M196.1 294h0M189.9 293.6h0M195.4 304.7h0M189.2 304.3h0M194.7 315.5h0M188.5 315.1h0M210.6 214h0M204.4 213.6h0M209.9 224.7h0M203.7 224.3h0M209.2 235.4h0M203 235h0M208.5 246.2h0M202.3 245.8h0M207.8 256.9h0M207.1 267.7h0M206.4 278.4h0M205.8 289.2h0M199.6 288.8h0M205.1 299.9h0M198.9 299.5h0M204.4 310.7h0M198.2 310.3h0M219.5 219.9h0M213.3 219.5h0M218.9 230.7h0M212.7 230.3h0M218.2 241.4h0M212 241h0M217.5 252.2h0M211.3 251.8h0M216.8 262.9h0M210.6 262.5h0M216.1 273.7h0M209.9 273.3h0M215.4 284.4h0M209.2 284h0M214.7 295.2h0M208.5 294.8h0M214 305.9h0M207.8 305.5h0M213.3 316.7h0M207.1 316.3h0M228.5 225.9h0M222.3 225.5h0M227.8 236.6h0M221.6 236.2h0M227.1 247.4h0M220.9 247h0M226.4 258.1h0M220.2 257.7h0M225.8 268.9h0M219.5 268.5h0M225.1 279.6h0M218.9 279.2h0M224.4 290.4h0M218.2 290h0M223.7 301.1h0M217.5 300.7h0M223 311.9h0M216.8 311.5h0M228.5 274.5h0M227.8 285.2h0M227.1 296h0M226.4 306.7h0M225.8 317.5h0M9.3 239.4h0M9.9 250.2h0M10.6 260.9h0M11.3 271.7h0M12 282.4h0M12.7 293.2h0M13.4 303.9h0M14.1 314.7h0M15.5 190.5h0M9.3 190.9h0M16.2 201.2h0M9.9 201.6h0M16.8 212h0M10.6 212.4h0M17.5 222.7h0M11.3 223.1h0M18.2 233.5h0M12 233.9h0M18.9 244.2h0M12.7 244.6h0M19.6 255h0M13.4 255.4h0M20.3 265.7h0M14.1 266.1h0M21 276.4h0M14.8 276.8h0M21.7 287.2h0M15.5 287.6h0M22.4 297.9h0M16.2 298.3h0M23 308.7h0M16.8 309.1h0M25.1 195.2h0M18.9 195.6h0M25.8 206h0M19.6 206.4h0M26.5 216.7h0M20.3 217.1h0M27.2 227.5h0M21 227.9h0M27.9 238.2h0M21.7 238.6h0M28.6 249h0M22.4 249.4h0M29.3 259.7h0M23 260.1h0M29.9 270.5h0M23.7 270.9h0M30.6 281.2h0M24.4 281.6h0M31.3 292h0M25.1 292.4h0M32 302.7h0M25.8 303.1h0M32.7 313.5h0M26.5 313.9h0M34.1 189.3h0M27.9 189.7h0M34.8 200h0M28.6 200.4h0M35.5 210.8h0M29.3 211.2h0M36.1 221.5h0M29.9 221.9h0M36.8 232.3h0M30.6 232.7h0M37.5 243h0M31.3 243.4h0M38.2 253.8h0M32 254.2h0M38.9 264.5h0M32.7 264.9h0M39.6 275.3h0M33.4 275.7h0M40.3 286h0M34.1 286.4h0M41 296.8h0M34.8 297.1h0M41.7 307.5h0M35.5 307.9h0M43.7 194h0M37.5 194.4h0M44.4 204.8h0M38.2 205.2h0M45.1 215.5h0M38.9 215.9h0M45.8 226.3h0M39.6 226.7h0M46.5 237h0M40.3 237.4h0M47.2 247.8h0M41 248.2h0M47.9 258.5h0M41.7 258.9h0M48.6 269.3h0M42.4 269.7h0M49.2 280h0M43 280.4h0M49.9 290.8h0M43.7 291.2h0M50.6 301.5h0M44.4 301.9h0M51.3 312.3h0M45.1 312.7h0M53.4 198.8h0M47.2 199.2h0M54.1 209.6h0M47.9 210h0M54.8 220.3h0M48.6 220.7h0M55.5 231.1h0M49.2 231.5h0M56.1 241.8h0M49.9 242.2h0M56.8 252.6h0M50.6 253h0M57.5 263.3h0M51.3 263.7h0M58.2 274.1h0M52 274.5h0M58.9 284.8h0M52.7 285.2h0M59.6 295.6h0M53.4 296h0M60.3 306.3h0M54.1 306.7h0M61 317.1h0M54.8 317.5h0M62.3 192.9h0M56.1 193.3h0M63 203.6h0M56.8 204h0M63.7 214.4h0M57.5 214.7h0M64.4 225.1h0M58.2 225.5h0M65.1 235.8h0M58.9 236.2h0M65.8 246.6h0M59.6 247h0M66.5 257.3h0M60.3 257.7h0M67.2 268.1h0M61 268.5h0M67.9 278.8h0M61.7 279.2h0M68.6 289.6h0M62.3 290h0M69.2 300.3h0M63 300.7h0M69.9 311.1h0M63.7 311.5h0M72 197.6h0M65.8 198h0M72.7 208.4h0M66.5 208.8h0M73.4 219.1h0M67.2 219.5h0M74.1 229.9h0M67.9 230.3h0M74.8 240.6h0M68.6 241h0M75.4 251.4h0M69.2 251.8h0M76.1 262.1h0M69.9 262.5h0M76.8 272.9h0M70.6 273.3h0M77.5 283.6h0M71.3 284h0M78.2 294.4h0M72 294.8h0M78.9 305.1h0M72.7 305.5h0M79.6 315.9h0M73.4 316.3h0M81 191.7h0M74.8 192.1h0M81.7 202.4h0M75.4 202.8h0M82.3 213.2h0M76.1 213.6h0M83 223.9h0M76.8 224.3h0M83.7 234.7h0M77.5 235.1h0M84.4 245.4h0M78.2 245.8h0M85.1 256.1h0M78.9 256.5h0M85.8 266.9h0M79.6 267.3h0M86.5 277.6h0M80.3 278h0M87.2 288.4h0M81 288.8h0M87.9 299.1h0M81.7 299.5h0M88.5 309.9h0M82.3 310.3h0M90.6 196.4h0M84.4 196.8h0M91.3 207.2h0M85.1 207.6h0M92 217.9h0M85.8 218.3h0M92.7 228.7h0M86.5 229.1h0M93.4 239.4h0M87.2 239.8h0M94.1 250.2h0M87.9 250.6h0M94.8 260.9h0M88.5 261.3h0M95.4 271.7h0M89.2 272.1h0M96.1 282.4h0M89.9 282.8h0M96.8 293.2h0M90.6 293.6h0M97.5 303.9h0M91.3 304.3h0M98.2 314.7h0M92 315.1h0M99.6 190.5h0M93.4 190.9h0M100.3 201.2h0M94.1 201.6h0M101 212h0M94.8 212.4h0M101.6 222.7h0M95.4 223.1h0M102.3 233.5h0M96.1 233.9h0M103 244.2h0M96.8 244.6h0M103.7 255h0M97.5 255.4h0M104.4 265.7h0M98.2 266.1h0M105.1 276.4h0M98.9 276.8h0M105.8 287.2h0M99.6 287.6h0M106.5 297.9h0M100.3 298.3h0M107.2 308.7h0M101 309.1h0M109.2 195.2h0M103 195.6h0M109.9 206h0M103.7 206.4h0M110.6 216.7h0M104.4 217.1h0M111.3 227.5h0M105.1 227.9h0M112 238.2h0M105.8 238.6h0M112.7 249h0M106.5 249.4h0M113.4 259.7h0M107.2 260.1h0M114.1 270.5h0M107.9 270.9h0M114.7 281.2h0M108.5 281.6h0M115.4 292h0M109.2 292.4h0M116.1 302.7h0M109.9 303.1h0M116.8 313.5h0M110.6 313.9h0M118.2 189.3h0M112 189.7h0M118.9 200h0M112.7 200.4h0M119.6 210.8h0M113.4 211.2h0M120.3 221.5h0M114.1 221.9h0M121 232.3h0M114.7 232.7h0M121.6 243h0M115.4 243.4h0M122.3 253.8h0M116.1 254.2h0M123 264.5h0M116.8 264.9h0M123.7 275.3h0M117.5 275.7h0M124.4 286h0M118.2 286.4h0M125.1 296.8h0M118.9 297.1h0M125.8 307.5h0M119.6 307.9h0M127.8 194h0M121.6 194.4h0M128.5 204.8h0M122.3 205.2h0M129.2 215.5h0M123 215.9h0M129.9 226.3h0M123.7 226.7h0M130.6 237h0M124.4 237.4h0M131.3 247.8h0M125.1 248.2h0M132 258.5h0M125.8 258.9h0M132.7 269.3h0M126.5 269.7h0M133.4 280h0M127.2 280.4h0M134.1 290.8h0M127.8 291.2h0M134.7 301.5h0M128.5 301.9h0M135.4 312.3h0M129.2 312.7h0M137.5 198.8h0M131.3 199.2h0M138.2 209.6h0M132 210h0M138.9 220.3h0M132.7 220.7h0M139.6 231.1h0M133.4 231.5h0M140.3 241.8h0M134.1 242.2h0M140.9 252.6h0M134.7 253h0M141.6 263.3h0M135.4 263.7h0M142.3 274.1h0M136.1 274.5h0M143 284.8h0M136.8 285.2h0M143.7 295.6h0M137.5 296h0M144.4 306.3h0M138.2 306.7h0M145.1 317.1h0M138.9 317.5h0M146.5 192.9h0M140.3 193.3h0M147.2 203.6h0M140.9 204h0M147.8 214.4h0M141.6 214.7h0M148.5 225.1h0M142.3 225.5h0M149.2 235.8h0M143 236.2h0M149.9 246.6h0M143.7 247h0M150.6 257.3h0M144.4 257.7h0M151.3 268.1h0M145.1 268.5h0M152 278.8h0M145.8 279.2h0M152.7 289.6h0M146.5 290h0M153.4 300.3h0M147.2 300.7h0M154 311.1h0M147.8 311.5h0M156.1 197.6h0M149.9 198h0M156.8 208.4h0M150.6 208.8h0M157.5 219.1h0M151.3 219.5h0M158.2 229.9h0M152 230.3h0M158.9 240.6h0M152.7 241h0M159.6 251.4h0M153.4 251.8h0M160.3 262.1h0M154 262.5h0M160.9 272.9h0M154.7 273.3h0M161.6 283.6h0M155.4 284h0M162.3 294.4h0M156.1 294.8h0M163 305.1h0M156.8 305.5h0M163.7 315.9h0M157.5 316.3h0M165.1 191.7h0M158.9 192.1h0M165.8 202.4h0M159.6 202.8h0M166.5 213.2h0M160.3 213.6h0M167.1 223.9h0M160.9 224.3h0M167.8 234.7h0M161.6 235.1h0M168.5 245.4h0M162.3 245.8h0M169.2 256.1h0M163 256.5h0M169.9 266.9h0M163.7 267.3h0M170.6 277.6h0M164.4 278h0M171.3 288.4h0M165.1 288.8h0M172 299.1h0M165.8 299.5h0M172.7 309.9h0M166.5 310.3h0M174.7 196.4h0M168.5 196.8h0M175.4 207.2h0M169.2 207.6h0M176.1 217.9h0M169.9 218.3h0M176.8 228.7h0M170.6 229.1h0M177.5 239.4h0M171.3 239.8h0M178.2 250.2h0M172 250.6h0M178.9 260.9h0M172.7 261.3h0M179.6 271.7h0M173.4 272.1h0M180.2 282.4h0M174 282.8h0M180.9 293.2h0M174.7 293.6h0M181.6 303.9h0M175.4 304.3h0M182.3 314.7h0M176.1 315.1h0M183.7 190.5h0M177.5 190.9h0M184.4 201.2h0M178.2 201.6h0M185.1 212h0M178.9 212.4h0M185.8 222.7h0M179.6 223.1h0M186.5 233.5h0M180.2 233.9h0M187.1 244.2h0M180.9 244.6h0M187.8 255h0M181.6 255.4h0M188.5 265.7h0M182.3 266.1h0M189.2 276.5h0M183 276.8h0M189.9 287.2h0M183.7 287.6h0M190.6 297.9h0M184.4 298.3h0M191.3 308.7h0M185.1 309.1h0M193.3 195.2h0M187.1 195.6h0M194 206h0M187.8 206.4h0M194.7 216.7h0M188.5 217.1h0M195.4 227.5h0M189.2 227.9h0M196.1 238.2h0M189.9 238.6h0M196.8 249h0M190.6 249.4h0M197.5 259.7h0M191.3 260.1h0M198.2 270.5h0M192 270.9h0M198.9 281.2h0M192.7 281.6h0M199.6 292h0M193.3 292.4h0M200.2 302.7h0M194 303.1h0M200.9 313.5h0M194.7 313.9h0M202.3 189.3h0M196.1 189.7h0M203 200h0M196.8 200.4h0M203.7 210.8h0M197.5 211.2h0M204.4 221.5h0M198.2 221.9h0M205.1 232.3h0M198.9 232.7h0M205.8 243h0M199.6 243.4h0M206.4 253.8h0M200.2 254.2h0M207.1 264.5h0M200.9 264.9h0M207.8 275.3h0M201.6 275.7h0M208.5 286h0M202.3 286.4h0M209.2 296.8h0M203 297.2h0M209.9 307.5h0M203.7 307.9h0M212 194.1h0M205.8 194.4h0M212.7 204.8h0M206.4 205.2h0M213.3 215.5h0M207.1 215.9h0M214 226.3h0M207.8 226.7h0M214.7 237h0M208.5 237.4h0M215.4 247.8h0M209.2 248.2h0M216.1 258.5h0M209.9 258.9h0M216.8 269.3h0M210.6 269.7h0M217.5 280h0M211.3 280.4h0M218.2 290.8h0M212 291.2h0M218.9 301.5h0M212.7 301.9h0M219.5 312.3h0M213.3 312.7h0M221.6 198.8h0M215.4 199.2h0M222.3 209.6h0M216.1 210h0M223 220.3h0M216.8 220.7h0M223.7 231.1h0M217.5 231.5h0M224.4 241.8h0M218.2 242.2h0M225.1 252.6h0M218.9 253h0M225.8 263.3h0M219.5 263.7h0M226.4 274.1h0M220.2 274.5h0M227.1 284.8h0M220.9 285.2h0M227.8 295.6h0M221.6 296h0M228.5 306.3h0M222.3 306.7h0M223 317.5h0M224.4 193.3h0M225.1 204h0M225.8 214.7h0M226.4 225.5h0M227.1 236.2h0M227.8 247h0M228.5 257.7h0" stroke="#a2d65c" stroke-width="2.1" stroke-linecap="round" fill="none"/>
<path d="M12 249.8h0M11.3 260.5h0M10.6 271.3h0M9.9 282h0M21.7 245h0M15.5 244.6h0M21 255.8h0M14.8 255.4h0M20.3 266.5h0M14.1 266.1h0M19.6 277.2h0M13.4 276.8h0M18.9 288h0M12.7 287.6h0M34.1 197.2h0M30.6 251h0M24.4 250.6h0M29.9 261.7h0M23.7 261.3h0M29.3 272.5h0M23 272.1h0M28.6 283.2h0M22.4 282.8h0M43.7 192.5h0M37.5 192.1h0M43 203.2h0M36.8 202.8h0M33.4 256.5h0M32.7 267.3h0M32 278h0M52.7 198.4h0M46.5 198h0M52 209.2h0M45.8 208.8h0M62.3 193.7h0M56.1 193.3h0M61.7 204.4h0M55.5 204h0M61 215.1h0M54.8 214.7h0M71.3 199.6h0M65.1 199.2h0M70.6 210.4h0M64.4 210h0M74.8 194.4h0M74.1 205.2h0M76.8 259.3h0M76.1 270.1h0M86.5 254.6h0M80.3 254.2h0M85.8 265.3h0M79.6 264.9h0M85.1 276.1h0M78.9 275.7h0M96.1 249.8h0M89.9 249.4h0M95.4 260.5h0M89.2 260.1h0M94.8 271.3h0M88.5 270.9h0M94.1 282h0M87.9 281.6h0M105.8 245h0M99.6 244.6h0M105.1 255.8h0M98.9 255.4h0M104.4 266.5h0M98.2 266.1h0M103.7 277.2h0M97.5 276.8h0M103 288h0M96.8 287.6h0M118.2 197.2h0M114.7 251h0M108.5 250.6h0M114.1 261.7h0M107.9 261.3h0M113.4 272.5h0M107.2 272.1h0M112.7 283.2h0M106.5 282.8h0M127.8 192.5h0M121.6 192.1h0M127.2 203.2h0M121 202.8h0M117.5 256.5h0M116.8 267.3h0M116.1 278h0M136.8 198.4h0M130.6 198h0M136.1 209.2h0M129.9 208.8h0M146.5 193.7h0M140.3 193.3h0M145.8 204.4h0M139.6 204h0M145.1 215.1h0M138.9 214.7h0M155.4 199.6h0M149.2 199.2h0M154.7 210.4h0M148.5 210h0M158.9 194.4h0M158.2 205.2h0M160.9 259.3h0M160.3 270.1h0M170.6 254.6h0M164.4 254.2h0M169.9 265.3h0M163.7 264.9h0M169.2 276.1h0M163 275.7h0M180.2 249.8h0M174 249.4h0M179.6 260.5h0M173.4 260.1h0M178.9 271.3h0M172.7 270.9h0M178.2 282h0M172 281.6h0M189.9 245h0M183.7 244.6h0M189.2 255.7h0M183 255.4h0M188.5 266.5h0M182.3 266.1h0M187.8 277.2h0M181.6 276.8h0M187.1 288h0M180.9 287.6h0M202.3 197.2h0M198.9 251h0M192.7 250.6h0M198.2 261.7h0M192 261.3h0M197.5 272.5h0M191.3 272.1h0M196.8 283.2h0M190.6 282.8h0M212 192.5h0M205.8 192.1h0M211.3 203.2h0M205.1 202.8h0M201.6 256.5h0M200.9 267.3h0M200.2 278h0M220.9 198.4h0M214.7 198h0M220.2 209.2h0M214 208.8h0M224.4 193.3h0M223.7 204h0M223 214.7h0" stroke="#b0b040" stroke-width="3.4" stroke-linecap="round" fill="none"/>
<path d="M12 249.8h0M11.3 260.5h0M10.6 271.3h0M9.9 282h0M21.7 245h0M15.5 244.6h0M21 255.8h0M14.8 255.4h0M20.3 266.5h0M14.1 266.1h0M19.6 277.2h0M13.4 276.8h0M18.9 288h0M12.7 287.6h0M34.1 197.2h0M30.6 251h0M24.4 250.6h0M29.9 261.7h0M23.7 261.3h0M29.3 272.5h0M23 272.1h0M28.6 283.2h0M22.4 282.8h0M43.7 192.5h0M37.5 192.1h0M43 203.2h0M36.8 202.8h0M33.4 256.5h0M32.7 267.3h0M32 278h0M52.7 198.4h0M46.5 198h0M52 209.2h0M45.8 208.8h0M62.3 193.7h0M56.1 193.3h0M61.7 204.4h0M55.5 204h0M61 215.1h0M54.8 214.7h0M71.3 199.6h0M65.1 199.2h0M70.6 210.4h0M64.4 210h0M74.8 194.4h0M74.1 205.2h0M76.8 259.3h0M76.1 270.1h0M86.5 254.6h0M80.3 254.2h0M85.8 265.3h0M79.6 264.9h0M85.1 276.1h0M78.9 275.7h0M96.1 249.8h0M89.9 249.4h0M95.4 260.5h0M89.2 260.1h0M94.8 271.3h0M88.5 270.9h0M94.1 282h0M87.9 281.6h0M105.8 245h0M99.6 244.6h0M105.1 255.8h0M98.9 255.4h0M104.4 266.5h0M98.2 266.1h0M103.7 277.2h0M97.5 276.8h0M103 288h0M96.8 287.6h0M118.2 197.2h0M114.7 251h0M108.5 250.6h0M114.1 261.7h0M107.9 261.3h0M113.4 272.5h0M107.2 272.1h0M112.7 283.2h0M106.5 282.8h0M127.8 192.5h0M121.6 192.1h0M127.2 203.2h0M121 202.8h0M117.5 256.5h0M116.8 267.3h0M116.1 278h0M136.8 198.4h0M130.6 198h0M136.1 209.2h0M129.9 208.8h0M146.5 193.7h0M140.3 193.3h0M145.8 204.4h0M139.6 204h0M145.1 215.1h0M138.9 214.7h0M155.4 199.6h0M149.2 199.2h0M154.7 210.4h0M148.5 210h0M158.9 194.4h0M158.2 205.2h0M160.9 259.3h0M160.3 270.1h0M170.6 254.6h0M164.4 254.2h0M169.9 265.3h0M163.7 264.9h0M169.2 276.1h0M163 275.7h0M180.2 249.8h0M174 249.4h0M179.6 260.5h0M173.4 260.1h0M178.9 271.3h0M172.7 270.9h0M178.2 282h0M172 281.6h0M189.9 245h0M183.7 244.6h0M189.2 255.7h0M183 255.4h0M188.5 266.5h0M182.3 266.1h0M187.8 277.2h0M181.6 276.8h0M187.1 288h0M180.9 287.6h0M202.3 197.2h0M198.9 251h0M192.7 250.6h0M198.2 261.7h0M192 261.3h0M197.5 272.5h0M191.3 272.1h0M196.8 283.2h0M190.6 282.8h0M212 192.5h0M205.8 192.1h0M211.3 203.2h0M205.1 202.8h0M201.6 256.5h0M200.9 267.3h0M200.2 278h0M220.9 198.4h0M214.7 198h0M220.2 209.2h0M214 208.8h0M224.4 193.3h0M223.7 204h0M223 214.7h0" stroke="#98d048" stroke-width="2.0" stroke-linecap="round" fill="none"/>
<path d="M12.7 190.5h0M12 201.2h0M11.3 212h0M10.6 222.7h0M9.9 233.5h0M21.7 196.4h0M21 207.2h0M20.3 217.9h0M19.6 228.7h0M18.9 239.4h0M15.5 293.2h0M14.8 303.9h0M14.1 314.7h0M31.3 191.7h0M30.6 202.4h0M29.9 213.2h0M29.3 223.9h0M28.6 234.7h0M27.9 245.4h0M25.1 288.4h0M24.4 299.1h0M23.7 309.9h0M38.9 219.1h0M38.2 229.9h0M37.5 240.6h0M36.8 251.4h0M34.8 283.6h0M34.1 294.4h0M33.4 305.1h0M32.7 315.9h0M47.9 225.1h0M47.2 235.8h0M46.5 246.6h0M45.8 257.3h0M45.1 268.1h0M44.4 278.8h0M43.7 289.6h0M43 300.3h0M42.4 311.1h0M57.5 220.3h0M56.8 231.1h0M56.1 241.8h0M55.5 252.6h0M54.8 263.3h0M54.1 274.1h0M53.4 284.8h0M52.7 295.6h0M52 306.3h0M51.3 317.1h0M67.2 215.5h0M66.5 226.3h0M65.8 237h0M65.1 247.8h0M64.4 258.5h0M63.7 269.3h0M63 280h0M62.3 290.8h0M61.7 301.5h0M61 312.3h0M76.8 210.8h0M76.1 221.5h0M75.4 232.3h0M74.8 243h0M74.1 253.8h0M73.4 264.5h0M72.7 275.3h0M72 286h0M71.3 296.8h0M70.6 307.5h0M87.2 195.2h0M86.5 206h0M85.8 216.7h0M85.1 227.5h0M84.4 238.2h0M81 292h0M80.3 302.7h0M79.6 313.5h0M96.8 190.5h0M96.1 201.2h0M95.4 212h0M94.8 222.7h0M94.1 233.5h0M89.9 297.9h0M89.2 308.7h0M105.8 196.4h0M105.1 207.2h0M104.4 217.9h0M103.7 228.7h0M103 239.4h0M99.6 293.2h0M98.9 303.9h0M98.2 314.7h0M115.4 191.7h0M114.7 202.4h0M114.1 213.2h0M113.4 223.9h0M112.7 234.7h0M112 245.4h0M109.2 288.4h0M108.5 299.1h0M107.9 309.9h0M123 219.1h0M122.3 229.9h0M121.6 240.6h0M121 251.4h0M118.9 283.6h0M118.2 294.4h0M117.5 305.1h0M116.8 315.9h0M132 225.1h0M131.3 235.8h0M130.6 246.6h0M129.9 257.3h0M129.2 268.1h0M128.5 278.8h0M127.8 289.6h0M127.2 300.3h0M126.5 311.1h0M141.6 220.3h0M140.9 231.1h0M140.3 241.8h0M139.6 252.6h0M138.9 263.3h0M138.2 274.1h0M137.5 284.8h0M136.8 295.6h0M136.1 306.3h0M135.4 317.1h0M151.3 215.5h0M150.6 226.3h0M149.9 237h0M149.2 247.8h0M148.5 258.5h0M147.8 269.3h0M147.2 280h0M146.5 290.8h0M145.8 301.5h0M145.1 312.3h0M160.9 210.8h0M160.3 221.5h0M159.6 232.3h0M158.9 243h0M158.2 253.8h0M157.5 264.5h0M156.8 275.3h0M156.1 286h0M155.4 296.8h0M154.7 307.5h0M171.3 195.2h0M170.6 206h0M169.9 216.7h0M169.2 227.5h0M168.5 238.2h0M165.1 292h0M164.4 302.7h0M163.7 313.5h0M180.9 190.5h0M180.2 201.2h0M179.6 212h0M178.9 222.7h0M178.2 233.5h0M174 297.9h0M173.4 308.7h0M189.9 196.4h0M189.2 207.2h0M188.5 217.9h0M187.8 228.7h0M187.1 239.4h0M183.7 293.2h0M183 303.9h0M182.3 314.7h0M199.6 191.7h0M198.9 202.4h0M198.2 213.2h0M197.5 223.9h0M196.8 234.7h0M196.1 245.4h0M193.3 288.4h0M192.7 299.1h0M192 309.9h0M207.1 219.1h0M206.4 229.9h0M205.8 240.6h0M205.1 251.4h0M203 283.6h0M202.3 294.4h0M201.6 305.1h0M200.9 315.9h0M216.1 225.1h0M215.4 235.8h0M214.7 246.6h0M214 257.3h0M213.3 268.1h0M212.7 278.8h0M212 289.6h0M211.3 300.3h0M210.6 311.1h0M225.8 220.3h0M225.1 231.1h0M224.4 241.8h0M223.7 252.6h0M223 263.3h0M222.3 274.1h0M221.6 284.8h0M220.9 295.6h0M220.2 306.3h0M219.5 317.1h0M9.3 288h0M9.9 298.7h0M10.6 309.5h0M12.7 196h0M13.4 206.8h0M14.1 217.5h0M14.8 228.3h0M15.5 239h0M16.2 249.8h0M16.8 260.5h0M17.5 271.3h0M18.2 282h0M18.9 292.8h0M19.6 303.5h0M20.3 314.3h0M21.7 190.1h0M22.4 200.8h0M23 211.6h0M23.7 222.3h0M24.4 233.1h0M25.1 243.8h0M25.8 254.6h0M26.5 265.3h0M27.2 276.1h0M27.9 286.8h0M28.6 297.5h0M29.3 308.3h0M31.3 194.8h0M32 205.6h0M32.7 216.3h0M33.4 227.1h0M34.1 237.8h0M34.8 248.6h0M35.5 259.3h0M36.1 270.1h0M36.8 280.8h0M37.5 291.6h0M38.2 302.3h0M38.9 313.1h0M41 199.6h0M41.7 210.4h0M42.4 221.1h0M43 231.9h0M43.7 242.6h0M44.4 253.4h0M45.1 264.1h0M45.8 274.9h0M46.5 285.6h0M47.2 296.4h0M47.9 307.1h0M49.9 193.7h0M50.6 204.4h0M51.3 215.1h0M52 225.9h0M52.7 236.6h0M53.4 247.4h0M54.1 258.1h0M54.8 268.9h0M55.5 279.6h0M56.1 290.4h0M56.8 301.1h0M57.5 311.9h0M59.6 198.4h0M60.3 209.2h0M61 219.9h0M61.7 230.7h0M62.3 241.4h0M63 252.2h0M63.7 262.9h0M64.4 273.7h0M65.1 284.4h0M65.8 295.2h0M66.5 305.9h0M67.2 316.7h0M68.6 192.5h0M69.2 203.2h0M69.9 214h0M70.6 224.7h0M71.3 235.4h0M72 246.2h0M72.7 256.9h0M73.4 267.7h0M74.1 278.4h0M74.8 289.2h0M75.4 299.9h0M76.1 310.7h0M78.2 197.2h0M78.9 208h0M79.6 218.7h0M80.3 229.5h0M81 240.2h0M81.7 251h0M82.3 261.7h0M83 272.5h0M83.7 283.2h0M84.4 294h0M85.1 304.7h0M85.8 315.5h0M87.2 191.3h0M87.9 202h0M88.5 212.8h0M89.2 223.5h0M89.9 234.3h0M90.6 245h0M91.3 255.8h0M92 266.5h0M92.7 277.2h0M93.4 288h0M94.1 298.7h0M94.8 309.5h0M96.8 196h0M97.5 206.8h0M98.2 217.5h0M98.9 228.3h0M99.6 239h0M100.3 249.8h0M101 260.5h0M101.6 271.3h0M102.3 282h0M103 292.8h0M103.7 303.5h0M104.4 314.3h0M105.8 190.1h0M106.5 200.8h0M107.2 211.6h0M107.9 222.3h0M108.5 233.1h0M109.2 243.8h0M109.9 254.6h0M110.6 265.3h0M111.3 276.1h0M112 286.8h0M112.7 297.5h0M113.4 308.3h0M115.4 194.8h0M116.1 205.6h0M116.8 216.3h0M117.5 227.1h0M118.2 237.8h0M118.9 248.6h0M119.6 259.3h0M120.3 270.1h0M121 280.8h0M121.6 291.6h0M122.3 302.3h0M123 313.1h0M125.1 199.6h0M125.8 210.4h0M126.5 221.1h0M127.2 231.9h0M127.8 242.6h0M128.5 253.4h0M129.2 264.1h0M129.9 274.9h0M130.6 285.6h0M131.3 296.4h0M132 307.1h0M134.1 193.7h0M134.7 204.4h0M135.4 215.1h0M136.1 225.9h0M136.8 236.6h0M137.5 247.4h0M138.2 258.1h0M138.9 268.9h0M139.6 279.6h0M140.3 290.4h0M140.9 301.1h0M141.6 311.9h0M143.7 198.4h0M144.4 209.2h0M145.1 219.9h0M145.8 230.7h0M146.5 241.4h0M147.2 252.2h0M147.8 262.9h0M148.5 273.7h0M149.2 284.4h0M149.9 295.2h0M150.6 305.9h0M151.3 316.7h0M152.7 192.5h0M153.4 203.2h0M154 214h0M154.7 224.7h0M155.4 235.4h0M156.1 246.2h0M156.8 256.9h0M157.5 267.7h0M158.2 278.4h0M158.9 289.2h0M159.6 299.9h0M160.3 310.7h0M162.3 197.2h0M163 208h0M163.7 218.7h0M164.4 229.5h0M165.1 240.2h0M165.8 251h0M166.5 261.7h0M167.1 272.5h0M167.8 283.2h0M168.5 294h0M169.2 304.7h0M169.9 315.5h0M171.3 191.3h0M172 202h0M172.7 212.8h0M173.4 223.5h0M174 234.3h0M174.7 245h0M175.4 255.8h0M176.1 266.5h0M176.8 277.2h0M177.5 288h0M178.2 298.7h0M178.9 309.5h0M180.9 196h0M181.6 206.8h0M182.3 217.5h0M183 228.3h0M183.7 239h0M184.4 249.8h0M185.1 260.5h0M185.8 271.3h0M186.5 282h0M187.1 292.8h0M187.8 303.5h0M188.5 314.3h0M189.9 190.1h0M190.6 200.8h0M191.3 211.6h0M192 222.3h0M192.7 233.1h0M193.3 243.8h0M194 254.6h0M194.7 265.3h0M195.4 276.1h0M196.1 286.8h0M196.8 297.5h0M197.5 308.3h0M199.6 194.8h0M200.2 205.6h0M200.9 216.3h0M201.6 227.1h0M202.3 237.8h0M203 248.6h0M203.7 259.3h0M204.4 270.1h0M205.1 280.8h0M205.8 291.6h0M206.4 302.3h0M207.1 313.1h0M209.2 199.6h0M209.9 210.4h0M210.6 221.1h0M211.3 231.9h0M212 242.6h0M212.7 253.4h0M213.3 264.1h0M214 274.9h0M214.7 285.6h0M215.4 296.4h0M216.1 307.1h0M218.2 193.7h0M218.9 204.4h0M219.5 215.1h0M220.2 225.9h0M220.9 236.6h0M221.6 247.4h0M222.3 258.1h0M223 268.9h0M223.7 279.6h0M224.4 290.4h0M225.1 301.1h0M225.8 311.9h0M227.8 198.4h0M228.5 209.2h0" stroke="#a63ece" stroke-width="4.0" stroke-linecap="round" fill="none"/>
<path d="M12.7 190.5h0M12 201.2h0M11.3 212h0M10.6 222.7h0M9.9 233.5h0M21.7 196.4h0M21 207.2h0M20.3 217.9h0M19.6 228.7h0M18.9 239.4h0M15.5 293.2h0M14.8 303.9h0M14.1 314.7h0M31.3 191.7h0M30.6 202.4h0M29.9 213.2h0M29.3 223.9h0M28.6 234.7h0M27.9 245.4h0M25.1 288.4h0M24.4 299.1h0M23.7 309.9h0M38.9 219.1h0M38.2 229.9h0M37.5 240.6h0M36.8 251.4h0M34.8 283.6h0M34.1 294.4h0M33.4 305.1h0M32.7 315.9h0M47.9 225.1h0M47.2 235.8h0M46.5 246.6h0M45.8 257.3h0M45.1 268.1h0M44.4 278.8h0M43.7 289.6h0M43 300.3h0M42.4 311.1h0M57.5 220.3h0M56.8 231.1h0M56.1 241.8h0M55.5 252.6h0M54.8 263.3h0M54.1 274.1h0M53.4 284.8h0M52.7 295.6h0M52 306.3h0M51.3 317.1h0M67.2 215.5h0M66.5 226.3h0M65.8 237h0M65.1 247.8h0M64.4 258.5h0M63.7 269.3h0M63 280h0M62.3 290.8h0M61.7 301.5h0M61 312.3h0M76.8 210.8h0M76.1 221.5h0M75.4 232.3h0M74.8 243h0M74.1 253.8h0M73.4 264.5h0M72.7 275.3h0M72 286h0M71.3 296.8h0M70.6 307.5h0M87.2 195.2h0M86.5 206h0M85.8 216.7h0M85.1 227.5h0M84.4 238.2h0M81 292h0M80.3 302.7h0M79.6 313.5h0M96.8 190.5h0M96.1 201.2h0M95.4 212h0M94.8 222.7h0M94.1 233.5h0M89.9 297.9h0M89.2 308.7h0M105.8 196.4h0M105.1 207.2h0M104.4 217.9h0M103.7 228.7h0M103 239.4h0M99.6 293.2h0M98.9 303.9h0M98.2 314.7h0M115.4 191.7h0M114.7 202.4h0M114.1 213.2h0M113.4 223.9h0M112.7 234.7h0M112 245.4h0M109.2 288.4h0M108.5 299.1h0M107.9 309.9h0M123 219.1h0M122.3 229.9h0M121.6 240.6h0M121 251.4h0M118.9 283.6h0M118.2 294.4h0M117.5 305.1h0M116.8 315.9h0M132 225.1h0M131.3 235.8h0M130.6 246.6h0M129.9 257.3h0M129.2 268.1h0M128.5 278.8h0M127.8 289.6h0M127.2 300.3h0M126.5 311.1h0M141.6 220.3h0M140.9 231.1h0M140.3 241.8h0M139.6 252.6h0M138.9 263.3h0M138.2 274.1h0M137.5 284.8h0M136.8 295.6h0M136.1 306.3h0M135.4 317.1h0M151.3 215.5h0M150.6 226.3h0M149.9 237h0M149.2 247.8h0M148.5 258.5h0M147.8 269.3h0M147.2 280h0M146.5 290.8h0M145.8 301.5h0M145.1 312.3h0M160.9 210.8h0M160.3 221.5h0M159.6 232.3h0M158.9 243h0M158.2 253.8h0M157.5 264.5h0M156.8 275.3h0M156.1 286h0M155.4 296.8h0M154.7 307.5h0M171.3 195.2h0M170.6 206h0M169.9 216.7h0M169.2 227.5h0M168.5 238.2h0M165.1 292h0M164.4 302.7h0M163.7 313.5h0M180.9 190.5h0M180.2 201.2h0M179.6 212h0M178.9 222.7h0M178.2 233.5h0M174 297.9h0M173.4 308.7h0M189.9 196.4h0M189.2 207.2h0M188.5 217.9h0M187.8 228.7h0M187.1 239.4h0M183.7 293.2h0M183 303.9h0M182.3 314.7h0M199.6 191.7h0M198.9 202.4h0M198.2 213.2h0M197.5 223.9h0M196.8 234.7h0M196.1 245.4h0M193.3 288.4h0M192.7 299.1h0M192 309.9h0M207.1 219.1h0M206.4 229.9h0M205.8 240.6h0M205.1 251.4h0M203 283.6h0M202.3 294.4h0M201.6 305.1h0M200.9 315.9h0M216.1 225.1h0M215.4 235.8h0M214.7 246.6h0M214 257.3h0M213.3 268.1h0M212.7 278.8h0M212 289.6h0M211.3 300.3h0M210.6 311.1h0M225.8 220.3h0M225.1 231.1h0M224.4 241.8h0M223.7 252.6h0M223 263.3h0M222.3 274.1h0M221.6 284.8h0M220.9 295.6h0M220.2 306.3h0M219.5 317.1h0M9.3 288h0M9.9 298.7h0M10.6 309.5h0M12.7 196h0M13.4 206.8h0M14.1 217.5h0M14.8 228.3h0M15.5 239h0M16.2 249.8h0M16.8 260.5h0M17.5 271.3h0M18.2 282h0M18.9 292.8h0M19.6 303.5h0M20.3 314.3h0M21.7 190.1h0M22.4 200.8h0M23 211.6h0M23.7 222.3h0M24.4 233.1h0M25.1 243.8h0M25.8 254.6h0M26.5 265.3h0M27.2 276.1h0M27.9 286.8h0M28.6 297.5h0M29.3 308.3h0M31.3 194.8h0M32 205.6h0M32.7 216.3h0M33.4 227.1h0M34.1 237.8h0M34.8 248.6h0M35.5 259.3h0M36.1 270.1h0M36.8 280.8h0M37.5 291.6h0M38.2 302.3h0M38.9 313.1h0M41 199.6h0M41.7 210.4h0M42.4 221.1h0M43 231.9h0M43.7 242.6h0M44.4 253.4h0M45.1 264.1h0M45.8 274.9h0M46.5 285.6h0M47.2 296.4h0M47.9 307.1h0M49.9 193.7h0M50.6 204.4h0M51.3 215.1h0M52 225.9h0M52.7 236.6h0M53.4 247.4h0M54.1 258.1h0M54.8 268.9h0M55.5 279.6h0M56.1 290.4h0M56.8 301.1h0M57.5 311.9h0M59.6 198.4h0M60.3 209.2h0M61 219.9h0M61.7 230.7h0M62.3 241.4h0M63 252.2h0M63.7 262.9h0M64.4 273.7h0M65.1 284.4h0M65.8 295.2h0M66.5 305.9h0M67.2 316.7h0M68.6 192.5h0M69.2 203.2h0M69.9 214h0M70.6 224.7h0M71.3 235.4h0M72 246.2h0M72.7 256.9h0M73.4 267.7h0M74.1 278.4h0M74.8 289.2h0M75.4 299.9h0M76.1 310.7h0M78.2 197.2h0M78.9 208h0M79.6 218.7h0M80.3 229.5h0M81 240.2h0M81.7 251h0M82.3 261.7h0M83 272.5h0M83.7 283.2h0M84.4 294h0M85.1 304.7h0M85.8 315.5h0M87.2 191.3h0M87.9 202h0M88.5 212.8h0M89.2 223.5h0M89.9 234.3h0M90.6 245h0M91.3 255.8h0M92 266.5h0M92.7 277.2h0M93.4 288h0M94.1 298.7h0M94.8 309.5h0M96.8 196h0M97.5 206.8h0M98.2 217.5h0M98.9 228.3h0M99.6 239h0M100.3 249.8h0M101 260.5h0M101.6 271.3h0M102.3 282h0M103 292.8h0M103.7 303.5h0M104.4 314.3h0M105.8 190.1h0M106.5 200.8h0M107.2 211.6h0M107.9 222.3h0M108.5 233.1h0M109.2 243.8h0M109.9 254.6h0M110.6 265.3h0M111.3 276.1h0M112 286.8h0M112.7 297.5h0M113.4 308.3h0M115.4 194.8h0M116.1 205.6h0M116.8 216.3h0M117.5 227.1h0M118.2 237.8h0M118.9 248.6h0M119.6 259.3h0M120.3 270.1h0M121 280.8h0M121.6 291.6h0M122.3 302.3h0M123 313.1h0M125.1 199.6h0M125.8 210.4h0M126.5 221.1h0M127.2 231.9h0M127.8 242.6h0M128.5 253.4h0M129.2 264.1h0M129.9 274.9h0M130.6 285.6h0M131.3 296.4h0M132 307.1h0M134.1 193.7h0M134.7 204.4h0M135.4 215.1h0M136.1 225.9h0M136.8 236.6h0M137.5 247.4h0M138.2 258.1h0M138.9 268.9h0M139.6 279.6h0M140.3 290.4h0M140.9 301.1h0M141.6 311.9h0M143.7 198.4h0M144.4 209.2h0M145.1 219.9h0M145.8 230.7h0M146.5 241.4h0M147.2 252.2h0M147.8 262.9h0M148.5 273.7h0M149.2 284.4h0M149.9 295.2h0M150.6 305.9h0M151.3 316.7h0M152.7 192.5h0M153.4 203.2h0M154 214h0M154.7 224.7h0M155.4 235.4h0M156.1 246.2h0M156.8 256.9h0M157.5 267.7h0M158.2 278.4h0M158.9 289.2h0M159.6 299.9h0M160.3 310.7h0M162.3 197.2h0M163 208h0M163.7 218.7h0M164.4 229.5h0M165.1 240.2h0M165.8 251h0M166.5 261.7h0M167.1 272.5h0M167.8 283.2h0M168.5 294h0M169.2 304.7h0M169.9 315.5h0M171.3 191.3h0M172 202h0M172.7 212.8h0M173.4 223.5h0M174 234.3h0M174.7 245h0M175.4 255.8h0M176.1 266.5h0M176.8 277.2h0M177.5 288h0M178.2 298.7h0M178.9 309.5h0M180.9 196h0M181.6 206.8h0M182.3 217.5h0M183 228.3h0M183.7 239h0M184.4 249.8h0M185.1 260.5h0M185.8 271.3h0M186.5 282h0M187.1 292.8h0M187.8 303.5h0M188.5 314.3h0M189.9 190.1h0M190.6 200.8h0M191.3 211.6h0M192 222.3h0M192.7 233.1h0M193.3 243.8h0M194 254.6h0M194.7 265.3h0M195.4 276.1h0M196.1 286.8h0M196.8 297.5h0M197.5 308.3h0M199.6 194.8h0M200.2 205.6h0M200.9 216.3h0M201.6 227.1h0M202.3 237.8h0M203 248.6h0M203.7 259.3h0M204.4 270.1h0M205.1 280.8h0M205.8 291.6h0M206.4 302.3h0M207.1 313.1h0M209.2 199.6h0M209.9 210.4h0M210.6 221.1h0M211.3 231.9h0M212 242.6h0M212.7 253.4h0M213.3 264.1h0M214 274.9h0M214.7 285.6h0M215.4 296.4h0M216.1 307.1h0M218.2 193.7h0M218.9 204.4h0M219.5 215.1h0M220.2 225.9h0M220.9 236.6h0M221.6 247.4h0M222.3 258.1h0M223 268.9h0M223.7 279.6h0M224.4 290.4h0M225.1 301.1h0M225.8 311.9h0M227.8 198.4h0M228.5 209.2h0" stroke="#cc7ae6" stroke-width="2.0" stroke-linecap="round" fill="none"/>
</g>
<text x="14" y="205.8" font-family="Liberation Sans, sans-serif" font-weight="bold" font-size="12" textLength="18.8" lengthAdjust="spacingAndGlyphs" fill="#000">(d)</text>
<rect x="188.3" y="196.5" width="33.5" height="13.5" rx="2" fill="#fff" fill-opacity="0.5" stroke="#666" stroke-width="0.8"/>
<text x="205" y="206.6" text-anchor="middle" font-family="Liberation Serif, serif" font-size="9.5" fill="#4a5078" textLength="18" lengthAdjust="spacingAndGlyphs">VBM</text>
<path d="M97.8 216.6 L181.9 216.6 L141.2 290.9 L55.5 290.9 Z" fill="none" stroke="#444" stroke-width="0.8"/>
<g stroke-width="1"><line x1="28" y1="310.6" x2="40" y2="310.6" stroke="#f07a30"/><path d="M39.5 309.2 L42.5 310.6 L39.5 312Z" fill="#f07a30"/><line x1="28" y1="309.5" x2="33.5" y2="298" stroke="#58b048"/></g>
<circle cx="27.2" cy="310.6" r="2.8" fill="#1a6bc0"/>
<text x="27.2" y="312.4" text-anchor="middle" font-family="Liberation Serif, serif" font-weight="bold" font-size="5" fill="#0a2040">c</text>
<text x="34" y="295.6" font-family="Liberation Serif, serif" font-weight="bold" font-size="7" fill="#111">b</text>
<text x="43" y="313.5" font-family="Liberation Serif, serif" font-weight="bold" font-size="6.5" fill="#111">a</text>
<rect x="14.6" y="321.3" width="75.2" height="80.7" fill="#fff" stroke="#cfcfcf" stroke-width="0.8"/>
<clipPath id="cpdl"><rect x="15" y="321.7" width="74.4" height="79.9"/></clipPath>
<g clip-path="url(#cpdl)">
<line x1="50.3" y1="321.3" x2="50.3" y2="402" stroke="#d8d8d8" stroke-width="0.8"/>
<path d="M7.4 326.2L12.2 329M11.8 397.5L19.8 394.5M21.1 326.2L25.9 329M25.5 397.5L33.5 394.5M34.8 326.2L39.6 329M39.2 397.5L47.2 394.5M48.5 326.2L53.3 329M52.9 397.5L60.9 394.5M62.2 326.2L67 329M66.6 397.5L74.6 394.5M75.9 326.2L80.7 329M80.3 397.5L88.3 394.5M89.6 326.2L94.4 329M94 397.5L102 394.5M103.3 326.2L108.1 329M107.7 397.5L115.7 394.5" stroke="#a6da48" stroke-width="2.6" stroke-linecap="round" fill="none"/>
<path d="" stroke="#b4b400" stroke-width="0" fill="none"/>
<circle cx="16.1" cy="340.2" r="3.5" fill="#c8c800"/><circle cx="18.5" cy="344" r="3.3" fill="#c8c800"/><circle cx="23.8" cy="356.3" r="3.6" fill="#c8c800"/><circle cx="26.1" cy="359.3" r="3" fill="#c8c800"/><circle cx="8.3" cy="366.5" r="5.4" fill="#c8c800"/><circle cx="12.3" cy="369" r="5.2" fill="#c8c800"/><circle cx="6.3" cy="371" r="4.1" fill="#c8c800"/><circle cx="3.8" cy="382.5" r="3.6" fill="#c8c800"/><circle cx="7.8" cy="381" r="3.2" fill="#c8c800"/><circle cx="29.8" cy="340.2" r="3.5" fill="#c8c800"/><circle cx="32.2" cy="344" r="3.3" fill="#c8c800"/><circle cx="37.5" cy="356.3" r="3.6" fill="#c8c800"/><circle cx="39.8" cy="359.3" r="3" fill="#c8c800"/><circle cx="22" cy="366.5" r="5.4" fill="#c8c800"/><circle cx="26" cy="369" r="5.2" fill="#c8c800"/><circle cx="20" cy="371" r="4.1" fill="#c8c800"/><circle cx="17.5" cy="382.5" r="3.6" fill="#c8c800"/><circle cx="21.5" cy="381" r="3.2" fill="#c8c800"/><circle cx="43.5" cy="340.2" r="3.5" fill="#c8c800"/><circle cx="45.9" cy="344" r="3.3" fill="#c8c800"/><circle cx="51.2" cy="356.3" r="3.6" fill="#c8c800"/><circle cx="53.5" cy="359.3" r="3" fill="#c8c800"/><circle cx="35.7" cy="366.5" r="5.4" fill="#c8c800"/><circle cx="39.7" cy="369" r="5.2" fill="#c8c800"/><circle cx="33.7" cy="371" r="4.1" fill="#c8c800"/><circle cx="31.2" cy="382.5" r="3.6" fill="#c8c800"/><circle cx="35.2" cy="381" r="3.2" fill="#c8c800"/><circle cx="57.2" cy="340.2" r="3.5" fill="#c8c800"/><circle cx="59.6" cy="344" r="3.3" fill="#c8c800"/><circle cx="64.9" cy="356.3" r="3.6" fill="#c8c800"/><circle cx="67.2" cy="359.3" r="3" fill="#c8c800"/><circle cx="49.4" cy="366.5" r="5.4" fill="#c8c800"/><circle cx="53.4" cy="369" r="5.2" fill="#c8c800"/><circle cx="47.4" cy="371" r="4.1" fill="#c8c800"/><circle cx="44.9" cy="382.5" r="3.6" fill="#c8c800"/><circle cx="48.9" cy="381" r="3.2" fill="#c8c800"/><circle cx="70.9" cy="340.2" r="3.5" fill="#c8c800"/><circle cx="73.3" cy="344" r="3.3" fill="#c8c800"/><circle cx="78.6" cy="356.3" r="3.6" fill="#c8c800"/><circle cx="80.9" cy="359.3" r="3" fill="#c8c800"/><circle cx="63.1" cy="366.5" r="5.4" fill="#c8c800"/><circle cx="67.1" cy="369" r="5.2" fill="#c8c800"/><circle cx="61.1" cy="371" r="4.1" fill="#c8c800"/><circle cx="58.6" cy="382.5" r="3.6" fill="#c8c800"/><circle cx="62.6" cy="381" r="3.2" fill="#c8c800"/><circle cx="84.6" cy="340.2" r="3.5" fill="#c8c800"/><circle cx="87" cy="344" r="3.3" fill="#c8c800"/><circle cx="92.3" cy="356.3" r="3.6" fill="#c8c800"/><circle cx="94.6" cy="359.3" r="3" fill="#c8c800"/><circle cx="76.8" cy="366.5" r="5.4" fill="#c8c800"/><circle cx="80.8" cy="369" r="5.2" fill="#c8c800"/><circle cx="74.8" cy="371" r="4.1" fill="#c8c800"/><circle cx="72.3" cy="382.5" r="3.6" fill="#c8c800"/><circle cx="76.3" cy="381" r="3.2" fill="#c8c800"/><circle cx="98.3" cy="340.2" r="3.5" fill="#c8c800"/><circle cx="100.7" cy="344" r="3.3" fill="#c8c800"/><circle cx="106" cy="356.3" r="3.6" fill="#c8c800"/><circle cx="108.3" cy="359.3" r="3" fill="#c8c800"/><circle cx="90.5" cy="366.5" r="5.4" fill="#c8c800"/><circle cx="94.5" cy="369" r="5.2" fill="#c8c800"/><circle cx="88.5" cy="371" r="4.1" fill="#c8c800"/><circle cx="86" cy="382.5" r="3.6" fill="#c8c800"/><circle cx="90" cy="381" r="3.2" fill="#c8c800"/><circle cx="112" cy="340.2" r="3.5" fill="#c8c800"/><circle cx="114.4" cy="344" r="3.3" fill="#c8c800"/><circle cx="119.7" cy="356.3" r="3.6" fill="#c8c800"/><circle cx="122" cy="359.3" r="3" fill="#c8c800"/><circle cx="104.2" cy="366.5" r="5.4" fill="#c8c800"/><circle cx="108.2" cy="369" r="5.2" fill="#c8c800"/><circle cx="102.2" cy="371" r="4.1" fill="#c8c800"/><circle cx="99.7" cy="382.5" r="3.6" fill="#c8c800"/><circle cx="103.7" cy="381" r="3.2" fill="#c8c800"/>
<circle cx="15.8" cy="339.9" r="2.7" fill="#eaea22"/><circle cx="18.2" cy="343.7" r="2.5" fill="#eaea22"/><circle cx="23.5" cy="356" r="2.8" fill="#eaea22"/><circle cx="25.8" cy="359" r="2.2" fill="#eaea22"/><circle cx="8" cy="366.2" r="4.6" fill="#eaea22"/><circle cx="12" cy="368.7" r="4.4" fill="#eaea22"/><circle cx="6" cy="370.7" r="3.3" fill="#eaea22"/><circle cx="3.5" cy="382.2" r="2.8" fill="#eaea22"/><circle cx="7.5" cy="380.7" r="2.4" fill="#eaea22"/><circle cx="29.5" cy="339.9" r="2.7" fill="#eaea22"/><circle cx="31.9" cy="343.7" r="2.5" fill="#eaea22"/><circle cx="37.2" cy="356" r="2.8" fill="#eaea22"/><circle cx="39.5" cy="359" r="2.2" fill="#eaea22"/><circle cx="21.7" cy="366.2" r="4.6" fill="#eaea22"/><circle cx="25.7" cy="368.7" r="4.4" fill="#eaea22"/><circle cx="19.7" cy="370.7" r="3.3" fill="#eaea22"/><circle cx="17.2" cy="382.2" r="2.8" fill="#eaea22"/><circle cx="21.2" cy="380.7" r="2.4" fill="#eaea22"/><circle cx="43.2" cy="339.9" r="2.7" fill="#eaea22"/><circle cx="45.6" cy="343.7" r="2.5" fill="#eaea22"/><circle cx="50.9" cy="356" r="2.8" fill="#eaea22"/><circle cx="53.2" cy="359" r="2.2" fill="#eaea22"/><circle cx="35.4" cy="366.2" r="4.6" fill="#eaea22"/><circle cx="39.4" cy="368.7" r="4.4" fill="#eaea22"/><circle cx="33.4" cy="370.7" r="3.3" fill="#eaea22"/><circle cx="30.9" cy="382.2" r="2.8" fill="#eaea22"/><circle cx="34.9" cy="380.7" r="2.4" fill="#eaea22"/><circle cx="56.9" cy="339.9" r="2.7" fill="#eaea22"/><circle cx="59.3" cy="343.7" r="2.5" fill="#eaea22"/><circle cx="64.6" cy="356" r="2.8" fill="#eaea22"/><circle cx="66.9" cy="359" r="2.2" fill="#eaea22"/><circle cx="49.1" cy="366.2" r="4.6" fill="#eaea22"/><circle cx="53.1" cy="368.7" r="4.4" fill="#eaea22"/><circle cx="47.1" cy="370.7" r="3.3" fill="#eaea22"/><circle cx="44.6" cy="382.2" r="2.8" fill="#eaea22"/><circle cx="48.6" cy="380.7" r="2.4" fill="#eaea22"/><circle cx="70.6" cy="339.9" r="2.7" fill="#eaea22"/><circle cx="73" cy="343.7" r="2.5" fill="#eaea22"/><circle cx="78.3" cy="356" r="2.8" fill="#eaea22"/><circle cx="80.6" cy="359" r="2.2" fill="#eaea22"/><circle cx="62.8" cy="366.2" r="4.6" fill="#eaea22"/><circle cx="66.8" cy="368.7" r="4.4" fill="#eaea22"/><circle cx="60.8" cy="370.7" r="3.3" fill="#eaea22"/><circle cx="58.3" cy="382.2" r="2.8" fill="#eaea22"/><circle cx="62.3" cy="380.7" r="2.4" fill="#eaea22"/><circle cx="84.3" cy="339.9" r="2.7" fill="#eaea22"/><circle cx="86.7" cy="343.7" r="2.5" fill="#eaea22"/><circle cx="92" cy="356" r="2.8" fill="#eaea22"/><circle cx="94.3" cy="359" r="2.2" fill="#eaea22"/><circle cx="76.5" cy="366.2" r="4.6" fill="#eaea22"/><circle cx="80.5" cy="368.7" r="4.4" fill="#eaea22"/><circle cx="74.5" cy="370.7" r="3.3" fill="#eaea22"/><circle cx="72" cy="382.2" r="2.8" fill="#eaea22"/><circle cx="76" cy="380.7" r="2.4" fill="#eaea22"/><circle cx="98" cy="339.9" r="2.7" fill="#eaea22"/><circle cx="100.4" cy="343.7" r="2.5" fill="#eaea22"/><circle cx="105.7" cy="356" r="2.8" fill="#eaea22"/><circle cx="108" cy="359" r="2.2" fill="#eaea22"/><circle cx="90.2" cy="366.2" r="4.6" fill="#eaea22"/><circle cx="94.2" cy="368.7" r="4.4" fill="#eaea22"/><circle cx="88.2" cy="370.7" r="3.3" fill="#eaea22"/><circle cx="85.7" cy="382.2" r="2.8" fill="#eaea22"/><circle cx="89.7" cy="380.7" r="2.4" fill="#eaea22"/><circle cx="111.7" cy="339.9" r="2.7" fill="#eaea22"/><circle cx="114.1" cy="343.7" r="2.5" fill="#eaea22"/><circle cx="119.4" cy="356" r="2.8" fill="#eaea22"/><circle cx="121.7" cy="359" r="2.2" fill="#eaea22"/><circle cx="103.9" cy="366.2" r="4.6" fill="#eaea22"/><circle cx="107.9" cy="368.7" r="4.4" fill="#eaea22"/><circle cx="101.9" cy="370.7" r="3.3" fill="#eaea22"/><circle cx="99.4" cy="382.2" r="2.8" fill="#eaea22"/><circle cx="103.4" cy="380.7" r="2.4" fill="#eaea22"/>
<path d="M17.3 342.6h0M24.8 357.5h0M7.8 368.6h0M3.3 383h0M31 342.6h0M38.5 357.5h0M21.5 368.6h0M17 383h0M44.7 342.6h0M52.2 357.5h0M35.2 368.6h0M30.7 383h0M58.4 342.6h0M65.9 357.5h0M48.9 368.6h0M44.4 383h0M72.1 342.6h0M79.6 357.5h0M62.6 368.6h0M58.1 383h0M85.8 342.6h0M93.3 357.5h0M76.3 368.6h0M71.8 383h0M99.5 342.6h0M107 357.5h0M90 368.6h0M85.5 383h0M113.2 342.6h0M120.7 357.5h0M103.7 368.6h0M99.2 383h0" stroke="#90d040" stroke-width="2.6" stroke-linecap="round" fill="none"/>
<path d="M11.3 332.2L15.3 334.2M19.1 349L23.1 351M10.4 374.1L14.6 375.9M7.6 390.7L14.2 388.3M25 332.2L29 334.2M32.8 349L36.8 351M24.1 374.1L28.3 375.9M21.3 390.7L27.9 388.3M38.7 332.2L42.7 334.2M46.5 349L50.5 351M37.8 374.1L42 375.9M35 390.7L41.6 388.3M52.4 332.2L56.4 334.2M60.2 349L64.2 351M51.5 374.1L55.7 375.9M48.7 390.7L55.3 388.3M66.1 332.2L70.1 334.2M73.9 349L77.9 351M65.2 374.1L69.4 375.9M62.4 390.7L69 388.3M79.8 332.2L83.8 334.2M87.6 349L91.6 351M78.9 374.1L83.1 375.9M76.1 390.7L82.7 388.3M93.5 332.2L97.5 334.2M101.3 349L105.3 351M92.6 374.1L96.8 375.9M89.8 390.7L96.4 388.3M107.2 332.2L111.2 334.2M115 349L119 351M106.3 374.1L110.5 375.9M103.5 390.7L110.1 388.3" stroke="#9c22c0" stroke-width="5.6" stroke-linecap="round" fill="none"/>
<path d="M14.9 334h0M22.7 350.8h0M13.5 375.5h0M8.1 390.6h0M28.6 334h0M36.4 350.8h0M27.2 375.5h0M21.8 390.6h0M42.3 334h0M50.1 350.8h0M40.9 375.5h0M35.5 390.6h0M56 334h0M63.8 350.8h0M54.6 375.5h0M49.2 390.6h0M69.7 334h0M77.5 350.8h0M68.3 375.5h0M62.9 390.6h0M83.4 334h0M91.2 350.8h0M82 375.5h0M76.6 390.6h0M97.1 334h0M104.9 350.8h0M95.7 375.5h0M90.3 390.6h0M110.8 334h0M118.6 350.8h0M109.4 375.5h0M104 390.6h0" stroke="#d858f4" stroke-width="2.6" stroke-linecap="round" fill="none"/>
</g>
<g stroke="#111" stroke-width="0.8" fill="#111"><line x1="110.8" y1="349" x2="95" y2="341.1"/><path d="M92.8 340 L96.8 340.2 L95.3 343Z"/><line x1="110.8" y1="371.7" x2="95" y2="383.8"/><path d="M92.8 385.4 L94.3 381.7 L96.3 384.3Z"/></g>
<g stroke="#bbb" stroke-width="0.8"><line x1="111.6" y1="321.5" x2="111.6" y2="397"/><line x1="214.7" y1="321.5" x2="214.7" y2="397"/></g>
<clipPath id="cpell"><ellipse cx="143.1" cy="360.3" rx="31.5" ry="26"/></clipPath>
<g clip-path="url(#cpell)">
<path d="M110 339.4h0M112.6 339.2h0M115.2 339h0M117.8 339.6h0M120.4 338.9h0M123 339.6h0M125.6 339.6h0M128.2 339.4h0M130.8 339h0M133.4 339.6h0M136 339.4h0M138.6 339.4h0M141.2 339.1h0M143.8 339h0M146.4 339.3h0M149 338.9h0M151.6 339.2h0M154.2 339.6h0M156.8 339.3h0M159.4 339.5h0M162 339.6h0M164.6 339.3h0M167.2 339.6h0M169.8 339.2h0M172.4 338.9h0M175 339.1h0M111.3 342.5h0M113.9 342.2h0M116.5 342h0M119.1 342.7h0M121.7 342.4h0M124.3 342.4h0M126.9 342.1h0M129.5 342.6h0M132.1 342.1h0M134.7 342.1h0M137.3 342.7h0M139.9 342.6h0M142.5 342.6h0M145.1 342.3h0M147.7 342.5h0M150.3 342h0M152.9 342.1h0M155.5 342.3h0M158.1 342.3h0M160.7 342.7h0M163.3 342h0M165.9 342.6h0M168.5 342.4h0M171.1 342.1h0M173.7 342h0M176.3 342.5h0" stroke="#c0bc00" stroke-width="4.34" stroke-linecap="round" fill="none"/>
<path d="M110 339.4h0M112.6 339.2h0M115.2 339h0M117.8 339.6h0M120.4 338.9h0M123 339.6h0M125.6 339.6h0M128.2 339.4h0M130.8 339h0M133.4 339.6h0M136 339.4h0M138.6 339.4h0M141.2 339.1h0M143.8 339h0M146.4 339.3h0M149 338.9h0M151.6 339.2h0M154.2 339.6h0M156.8 339.3h0M159.4 339.5h0M162 339.6h0M164.6 339.3h0M167.2 339.6h0M169.8 339.2h0M172.4 338.9h0M175 339.1h0M111.3 342.5h0M113.9 342.2h0M116.5 342h0M119.1 342.7h0M121.7 342.4h0M124.3 342.4h0M126.9 342.1h0M129.5 342.6h0M132.1 342.1h0M134.7 342.1h0M137.3 342.7h0M139.9 342.6h0M142.5 342.6h0M145.1 342.3h0M147.7 342.5h0M150.3 342h0M152.9 342.1h0M155.5 342.3h0M158.1 342.3h0M160.7 342.7h0M163.3 342h0M165.9 342.6h0M168.5 342.4h0M171.1 342.1h0M173.7 342h0M176.3 342.5h0" stroke="#e8e830" stroke-width="3.15" stroke-linecap="round" fill="none"/>
<path d="M110 352.4h0M112.6 352.2h0M115.2 352.8h0M117.8 352.3h0M120.4 352.3h0M123 352.6h0M125.6 352.6h0M128.2 352.6h0M130.8 352.3h0M133.4 352.7h0M136 352.6h0M138.6 352.5h0M141.2 352.3h0M143.8 352.7h0M146.4 352.6h0M149 352.7h0M151.6 352.6h0M154.2 352.4h0M156.8 352.7h0M159.4 352h0M162 352.7h0M164.6 352.6h0M167.2 352.4h0M169.8 352.8h0M172.4 352.4h0M175 352.7h0M111.3 356.2h0M113.9 356.5h0M116.5 356h0M119.1 355.9h0M121.7 356h0M124.3 356h0M126.9 355.8h0M129.5 356.3h0M132.1 356.4h0M134.7 356.5h0M137.3 356.1h0M139.9 356.4h0M142.5 356.5h0M145.1 356.3h0M147.7 355.8h0M150.3 356.1h0M152.9 356.3h0M155.5 356.4h0M158.1 356.6h0M160.7 356.5h0M163.3 356.2h0M165.9 356h0M168.5 355.8h0M171.1 356.4h0M173.7 356.3h0M176.3 355.9h0" stroke="#c0bc00" stroke-width="5.27" stroke-linecap="round" fill="none"/>
<path d="M110 352.4h0M112.6 352.2h0M115.2 352.8h0M117.8 352.3h0M120.4 352.3h0M123 352.6h0M125.6 352.6h0M128.2 352.6h0M130.8 352.3h0M133.4 352.7h0M136 352.6h0M138.6 352.5h0M141.2 352.3h0M143.8 352.7h0M146.4 352.6h0M149 352.7h0M151.6 352.6h0M154.2 352.4h0M156.8 352.7h0M159.4 352h0M162 352.7h0M164.6 352.6h0M167.2 352.4h0M169.8 352.8h0M172.4 352.4h0M175 352.7h0M111.3 356.2h0M113.9 356.5h0M116.5 356h0M119.1 355.9h0M121.7 356h0M124.3 356h0M126.9 355.8h0M129.5 356.3h0M132.1 356.4h0M134.7 356.5h0M137.3 356.1h0M139.9 356.4h0M142.5 356.5h0M145.1 356.3h0M147.7 355.8h0M150.3 356.1h0M152.9 356.3h0M155.5 356.4h0M158.1 356.6h0M160.7 356.5h0M163.3 356.2h0M165.9 356h0M168.5 355.8h0M171.1 356.4h0M173.7 356.3h0M176.3 355.9h0" stroke="#e8e830" stroke-width="3.825" stroke-linecap="round" fill="none"/>
<path d="M110 363h0M112.6 363h0M115.2 362.7h0M117.8 363.2h0M120.4 363.3h0M123 362.6h0M125.6 362.8h0M128.2 363.3h0M130.8 363.1h0M133.4 363h0M136 363.3h0M138.6 362.8h0M141.2 363.2h0M143.8 362.7h0M146.4 362.7h0M149 362.7h0M151.6 362.6h0M154.2 363.2h0M156.8 363.3h0M159.4 363.2h0M162 362.6h0M164.6 362.6h0M167.2 363.1h0M169.8 362.9h0M172.4 362.6h0M175 363.3h0M111.3 366.8h0M113.9 367.1h0M116.5 366.8h0M119.1 366.6h0M121.7 366.6h0M124.3 366.4h0M126.9 367.1h0M129.5 367h0M132.1 366.7h0M134.7 366.8h0M137.3 366.6h0M139.9 366.9h0M142.5 366.9h0M145.1 366.8h0M147.7 366.5h0M150.3 366.3h0M152.9 366.8h0M155.5 366.4h0M158.1 366.6h0M160.7 366.3h0M163.3 366.9h0M165.9 366.3h0M168.5 366.3h0M171.1 366.9h0M173.7 366.9h0M176.3 367.1h0" stroke="#c0bc00" stroke-width="5.27" stroke-linecap="round" fill="none"/>
<path d="M110 363h0M112.6 363h0M115.2 362.7h0M117.8 363.2h0M120.4 363.3h0M123 362.6h0M125.6 362.8h0M128.2 363.3h0M130.8 363.1h0M133.4 363h0M136 363.3h0M138.6 362.8h0M141.2 363.2h0M143.8 362.7h0M146.4 362.7h0M149 362.7h0M151.6 362.6h0M154.2 363.2h0M156.8 363.3h0M159.4 363.2h0M162 362.6h0M164.6 362.6h0M167.2 363.1h0M169.8 362.9h0M172.4 362.6h0M175 363.3h0M111.3 366.8h0M113.9 367.1h0M116.5 366.8h0M119.1 366.6h0M121.7 366.6h0M124.3 366.4h0M126.9 367.1h0M129.5 367h0M132.1 366.7h0M134.7 366.8h0M137.3 366.6h0M139.9 366.9h0M142.5 366.9h0M145.1 366.8h0M147.7 366.5h0M150.3 366.3h0M152.9 366.8h0M155.5 366.4h0M158.1 366.6h0M160.7 366.3h0M163.3 366.9h0M165.9 366.3h0M168.5 366.3h0M171.1 366.9h0M173.7 366.9h0M176.3 367.1h0" stroke="#e8e830" stroke-width="3.825" stroke-linecap="round" fill="none"/>
<path d="M110 376.8h0M112.6 376.4h0M115.2 377h0M117.8 376.4h0M120.4 376.6h0M123 376.9h0M125.6 376.5h0M128.2 377h0M130.8 376.3h0M133.4 376.7h0M136 376.3h0M138.6 376.3h0M141.2 376.5h0M143.8 377h0M146.4 376.6h0M149 377h0M151.6 376.8h0M154.2 376.7h0M156.8 377h0M159.4 376.8h0M162 376.6h0M164.6 376.5h0M167.2 376.9h0M169.8 377h0M172.4 376.4h0M175 376.4h0M111.3 380h0M113.9 379.8h0M116.5 380h0M119.1 380h0M121.7 379.7h0M124.3 379.9h0M126.9 380h0M129.5 380h0M132.1 379.4h0M134.7 379.4h0M137.3 380h0M139.9 379.6h0M142.5 380.1h0M145.1 380h0M147.7 379.4h0M150.3 379.5h0M152.9 380h0M155.5 380h0M158.1 379.6h0M160.7 379.4h0M163.3 379.9h0M165.9 379.6h0M168.5 379.5h0M171.1 379.5h0M173.7 379.8h0M176.3 380h0" stroke="#c0bc00" stroke-width="4.34" stroke-linecap="round" fill="none"/>
<path d="M110 376.8h0M112.6 376.4h0M115.2 377h0M117.8 376.4h0M120.4 376.6h0M123 376.9h0M125.6 376.5h0M128.2 377h0M130.8 376.3h0M133.4 376.7h0M136 376.3h0M138.6 376.3h0M141.2 376.5h0M143.8 377h0M146.4 376.6h0M149 377h0M151.6 376.8h0M154.2 376.7h0M156.8 377h0M159.4 376.8h0M162 376.6h0M164.6 376.5h0M167.2 376.9h0M169.8 377h0M172.4 376.4h0M175 376.4h0M111.3 380h0M113.9 379.8h0M116.5 380h0M119.1 380h0M121.7 379.7h0M124.3 379.9h0M126.9 380h0M129.5 380h0M132.1 379.4h0M134.7 379.4h0M137.3 380h0M139.9 379.6h0M142.5 380.1h0M145.1 380h0M147.7 379.4h0M150.3 379.5h0M152.9 380h0M155.5 380h0M158.1 379.6h0M160.7 379.4h0M163.3 379.9h0M165.9 379.6h0M168.5 379.5h0M171.1 379.5h0M173.7 379.8h0M176.3 380h0" stroke="#e8e830" stroke-width="3.15" stroke-linecap="round" fill="none"/>
</g>
<rect x="107.4" y="326.6" width="111.6" height="2.6" fill="#aee050"/>
<line x1="108.4" y1="327.9" x2="219" y2="327.9" stroke="#7cbc28" stroke-width="0.9" stroke-dasharray="1.3 1.9"/>
<rect x="107.4" y="339.9" width="111.6" height="2.6" fill="#aee050"/>
<line x1="108.4" y1="341.2" x2="219" y2="341.2" stroke="#7cbc28" stroke-width="0.9" stroke-dasharray="1.3 1.9"/>
<rect x="107.4" y="352.3" width="111.6" height="2.6" fill="#aee050"/>
<line x1="108.4" y1="353.6" x2="219" y2="353.6" stroke="#7cbc28" stroke-width="0.9" stroke-dasharray="1.3 1.9"/>
<rect x="107.4" y="364.6" width="111.6" height="2.6" fill="#aee050"/>
<line x1="108.4" y1="365.9" x2="219" y2="365.9" stroke="#7cbc28" stroke-width="0.9" stroke-dasharray="1.3 1.9"/>
<rect x="107.4" y="376" width="111.6" height="2.6" fill="#aee050"/>
<line x1="108.4" y1="377.3" x2="219" y2="377.3" stroke="#7cbc28" stroke-width="0.9" stroke-dasharray="1.3 1.9"/>
<rect x="107.4" y="389.7" width="111.6" height="2.6" fill="#aee050"/>
<line x1="108.4" y1="391" x2="219" y2="391" stroke="#7cbc28" stroke-width="0.9" stroke-dasharray="1.3 1.9"/>
<rect x="107.4" y="330.9" width="111.6" height="4.6" rx="1" fill="#a224c6"/>
<line x1="110.6" y1="333.2" x2="219" y2="333.2" stroke="#f4d0ff" stroke-width="2.6" stroke-linecap="round" stroke-dasharray="0 7.7"/>
<rect x="107.4" y="344.9" width="111.6" height="4.6" rx="1" fill="#a224c6"/>
<line x1="110.6" y1="347.2" x2="219" y2="347.2" stroke="#f4d0ff" stroke-width="2.6" stroke-linecap="round" stroke-dasharray="0 7.7"/>
<rect x="107.4" y="368.9" width="111.6" height="4.6" rx="1" fill="#a224c6"/>
<line x1="110.6" y1="371.2" x2="219" y2="371.2" stroke="#f4d0ff" stroke-width="2.6" stroke-linecap="round" stroke-dasharray="0 7.7"/>
<rect x="107.4" y="383.5" width="111.6" height="4.6" rx="1" fill="#a224c6"/>
<line x1="110.6" y1="385.8" x2="219" y2="385.8" stroke="#f4d0ff" stroke-width="2.6" stroke-linecap="round" stroke-dasharray="0 7.7"/>
<ellipse cx="143.1" cy="360.3" rx="32" ry="25.5" fill="none" stroke="#333a60" stroke-width="0.8" stroke-dasharray="1.2 1.4"/>
<g stroke-width="1"><line x1="100.2" y1="404.5" x2="111" y2="404.5" stroke="#40a040"/><path d="M110.5 403 L113.5 404.5 L110.5 406Z" fill="#40a040"/><line x1="100.2" y1="404.5" x2="100.2" y2="394" stroke="#2a7ad0"/><path d="M98.8 394.5 L100.2 391.5 L101.6 394.5Z" fill="#2a7ad0"/></g>
<circle cx="100.2" cy="404.6" r="2.3" fill="#e86a18"/>
<text x="98" y="389.6" font-family="Liberation Serif, serif" font-weight="bold" font-size="8" fill="#111">c</text>
<text x="114.2" y="407.4" font-family="Liberation Serif, serif" font-weight="bold" font-size="8" fill="#111">b</text>
<rect x="253.4" y="189.4" width="218.6" height="218.6" fill="#fff" stroke="#c9d2e3" stroke-width="1"/>
<clipPath id="cpe"><rect x="256.2" y="191.8" width="211.4" height="121.8"/></clipPath>
<g clip-path="url(#cpe)">
<path d="M257.9 193.2h0M260.7 198.8h0M257.2 204h0M260 209.6h0M256.5 214.8h0M259.3 220.4h0M255.8 225.6h0M258.6 231.2h0M255.1 236.5h0M257.9 242.1h0M254.4 247.3h0M257.2 252.9h0M253.7 258.1h0M256.5 263.7h0M255.8 274.5h0M255.1 285.3h0M254.4 296.1h0M253.7 306.9h0M270.4 194h0M266.9 199.2h0M269.7 204.8h0M266.2 210h0M269 215.6h0M265.5 220.8h0M268.3 226.4h0M264.8 231.6h0M267.6 237.3h0M264.1 242.5h0M266.9 248.1h0M263.4 253.3h0M266.2 258.9h0M262.7 264.1h0M265.5 269.7h0M262 274.9h0M264.8 280.5h0M261.4 285.7h0M264.1 291.3h0M260.7 296.5h0M263.4 302.1h0M260 307.3h0M262.7 312.9h0M280.1 189.2h0M276.6 194.4h0M279.4 200h0M275.9 205.2h0M278.7 210.8h0M275.2 216h0M278 221.6h0M274.5 226.8h0M277.3 232.4h0M273.8 237.7h0M276.6 243.3h0M273.1 248.5h0M275.9 254.1h0M272.4 259.3h0M275.2 264.9h0M271.8 270.1h0M274.5 275.7h0M271.1 280.9h0M273.8 286.5h0M270.4 291.7h0M273.1 297.3h0M269.7 302.5h0M272.4 308.1h0M269 313.3h0M286.3 189.6h0M289.1 195.2h0M285.6 200.4h0M288.4 206h0M284.9 211.2h0M287.7 216.8h0M284.2 222h0M287 227.6h0M283.5 232.8h0M286.3 238.5h0M282.8 243.7h0M285.6 249.3h0M282.2 254.5h0M284.9 260.1h0M281.5 265.3h0M284.2 270.9h0M280.8 276.1h0M283.5 281.7h0M280.1 286.9h0M282.8 292.5h0M279.4 297.7h0M282.2 303.3h0M278.7 308.5h0M281.5 314.1h0M298.8 190.4h0M295.3 195.6h0M298.1 201.2h0M294.6 206.4h0M297.4 212h0M293.9 217.2h0M296.7 222.8h0M293.2 228h0M296 233.7h0M292.6 238.9h0M295.3 244.5h0M291.9 249.7h0M294.6 255.3h0M291.2 260.5h0M293.9 266.1h0M290.5 271.3h0M293.2 276.9h0M289.8 282.1h0M292.6 287.7h0M289.1 292.9h0M291.9 298.5h0M288.4 303.7h0M291.2 309.3h0M287.7 314.5h0M305 190.8h0M307.8 196.4h0M304.3 201.6h0M307.1 207.2h0M303.6 212.4h0M306.4 218h0M303 223.2h0M305.7 228.8h0M302.3 234.1h0M305 239.7h0M301.6 244.9h0M304.3 250.5h0M300.9 255.7h0M303.6 261.3h0M300.2 266.5h0M303 272.1h0M299.5 277.3h0M302.3 282.9h0M298.8 288.1h0M301.6 293.7h0M298.1 298.9h0M300.9 304.5h0M297.4 309.7h0M300.2 315.3h0M317.5 191.6h0M314 196.8h0M316.8 202.4h0M313.4 207.6h0M316.1 213.2h0M312.7 218.4h0M315.4 224h0M312 229.2h0M314.7 234.9h0M311.3 240.1h0M314 245.7h0M310.6 250.9h0M313.4 256.5h0M309.9 261.7h0M312.7 267.3h0M309.2 272.5h0M312 278.1h0M308.5 283.3h0M311.3 288.9h0M307.8 294.1h0M310.6 299.7h0M307.1 304.9h0M309.9 310.5h0M306.4 315.7h0M323.8 192h0M326.5 197.6h0M323.1 202.8h0M325.8 208.4h0M322.4 213.6h0M325.1 219.2h0M321.7 224.4h0M324.4 230h0M321 235.3h0M323.8 240.9h0M320.3 246.1h0M323.1 251.7h0M319.6 256.9h0M322.4 262.5h0M318.9 267.7h0M321.7 273.3h0M318.2 278.5h0M321 284.1h0M317.5 289.3h0M320.3 294.9h0M316.8 300.1h0M319.6 305.7h0M316.1 310.9h0M318.9 316.5h0M336.2 192.8h0M332.8 198h0M335.5 203.6h0M332.1 208.8h0M334.8 214.4h0M331.4 219.6h0M334.2 225.2h0M330.7 230.4h0M333.5 236.1h0M330 241.3h0M332.8 246.9h0M329.3 252.1h0M332.1 257.7h0M328.6 262.9h0M331.4 268.5h0M327.9 273.7h0M330.7 279.3h0M327.2 284.5h0M330 290.1h0M326.5 295.3h0M329.3 300.9h0M325.8 306.1h0M328.6 311.7h0M342.5 193.2h0M345.2 198.8h0M341.8 204h0M344.6 209.6h0M341.1 214.8h0M343.9 220.4h0M340.4 225.6h0M343.2 231.2h0M339.7 236.5h0M342.5 242.1h0M339 247.3h0M341.8 252.9h0M338.3 258.1h0M341.1 263.7h0M337.6 268.9h0M340.4 274.5h0M336.9 279.7h0M339.7 285.3h0M336.2 290.5h0M339 296.1h0M335.5 301.3h0M338.3 306.9h0M334.8 312.1h0M355 194h0M351.5 199.2h0M354.3 204.8h0M350.8 210h0M353.6 215.6h0M350.1 220.8h0M352.9 226.4h0M349.4 231.6h0M352.2 237.3h0M348.7 242.5h0M351.5 248.1h0M348 253.3h0M350.8 258.9h0M347.3 264.1h0M350.1 269.7h0M346.6 274.9h0M349.4 280.5h0M345.9 285.7h0M348.7 291.3h0M345.2 296.5h0M348 302.1h0M344.6 307.3h0M347.3 312.9h0M364.7 189.2h0M361.2 194.4h0M364 200h0M360.5 205.2h0M363.3 210.8h0M359.8 216h0M362.6 221.6h0M359.1 226.8h0M361.9 232.4h0M358.4 237.7h0M361.2 243.3h0M357.7 248.5h0M360.5 254.1h0M357 259.3h0M359.8 264.9h0M356.3 270.1h0M359.1 275.7h0M355.6 280.9h0M358.4 286.5h0M355 291.7h0M357.7 297.3h0M354.3 302.5h0M357 308.1h0M353.6 313.3h0M370.9 189.6h0M373.7 195.2h0M370.2 200.4h0M373 206h0M369.5 211.2h0M372.3 216.8h0M368.8 222h0M371.6 227.6h0M368.1 232.8h0M370.9 238.5h0M367.4 243.7h0M370.2 249.3h0M366.7 254.5h0M369.5 260.1h0M366 265.3h0M368.8 270.9h0M365.4 276.1h0M368.1 281.7h0M364.7 286.9h0M367.4 292.5h0M364 297.7h0M366.7 303.3h0M363.3 308.5h0M366 314.1h0M383.4 190.4h0M379.9 195.6h0M382.7 201.2h0M379.2 206.4h0M382 212h0M378.5 217.2h0M381.3 222.8h0M377.8 228h0M380.6 233.6h0M377.1 238.9h0M379.9 244.5h0M376.4 249.7h0M379.2 255.3h0M375.8 260.5h0M378.5 266.1h0M375.1 271.3h0M377.8 276.9h0M374.4 282.1h0M377.1 287.7h0M373.7 292.9h0M376.4 298.5h0M373 303.7h0M375.8 309.3h0M372.3 314.5h0M389.6 190.8h0M392.4 196.4h0M388.9 201.6h0M391.7 207.2h0M388.2 212.4h0M391 218h0M387.5 223.2h0M390.3 228.8h0M386.8 234h0M389.6 239.7h0M386.2 244.9h0M388.9 250.5h0M385.5 255.7h0M388.2 261.3h0M384.8 266.5h0M387.5 272.1h0M384.1 277.3h0M386.8 282.9h0M383.4 288.1h0M386.2 293.7h0M382.7 298.9h0M385.5 304.5h0M382 309.7h0M384.8 315.3h0M402.1 191.6h0M398.6 196.8h0M401.4 202.4h0M397.9 207.6h0M400.7 213.2h0M397.2 218.4h0M400 224h0M396.6 229.2h0M399.3 234.9h0M395.9 240.1h0M398.6 245.7h0M395.2 250.9h0M397.9 256.5h0M394.5 261.7h0M397.2 267.3h0M393.8 272.5h0M396.6 278.1h0M393.1 283.3h0M395.9 288.9h0M392.4 294.1h0M395.2 299.7h0M391.7 304.9h0M394.5 310.5h0M391 315.7h0M408.3 192h0M411.1 197.6h0M407.6 202.8h0M410.4 208.4h0M407 213.6h0M409.7 219.2h0M406.3 224.4h0M409 230h0M405.6 235.3h0M408.3 240.9h0M404.9 246.1h0M407.6 251.7h0M404.2 256.9h0M407 262.5h0M403.5 267.7h0M406.3 273.3h0M402.8 278.5h0M405.6 284.1h0M402.1 289.3h0M404.9 294.9h0M401.4 300.1h0M404.2 305.7h0M400.7 310.9h0M403.5 316.5h0M420.8 192.8h0M417.4 198h0M420.1 203.6h0M416.7 208.8h0M419.4 214.4h0M416 219.6h0M418.7 225.2h0M415.3 230.4h0M418 236.1h0M414.6 241.3h0M417.4 246.9h0M413.9 252.1h0M416.7 257.7h0M413.2 262.9h0M416 268.5h0M412.5 273.7h0M415.3 279.3h0M411.8 284.5h0M414.6 290.1h0M411.1 295.3h0M413.9 300.9h0M410.4 306.1h0M413.2 311.7h0M427.1 193.2h0M429.8 198.8h0M426.4 204h0M429.1 209.6h0M425.7 214.8h0M428.4 220.4h0M425 225.6h0M427.8 231.2h0M424.3 236.5h0M427.1 242.1h0M423.6 247.3h0M426.4 252.9h0M422.9 258.1h0M425.7 263.7h0M422.2 268.9h0M425 274.5h0M421.5 279.7h0M424.3 285.3h0M420.8 290.5h0M423.6 296.1h0M420.1 301.3h0M422.9 306.9h0M419.4 312.1h0M439.5 194h0M436.1 199.2h0M438.8 204.8h0M435.4 210h0M438.2 215.6h0M434.7 220.8h0M437.5 226.4h0M434 231.6h0M436.8 237.3h0M433.3 242.5h0M436.1 248.1h0M432.6 253.3h0M435.4 258.9h0M431.9 264.1h0M434.7 269.7h0M431.2 274.9h0M434 280.5h0M430.5 285.7h0M433.3 291.3h0M429.8 296.5h0M432.6 302.1h0M429.1 307.3h0M431.9 312.9h0M449.2 189.2h0M445.8 194.4h0M448.6 200h0M445.1 205.2h0M447.9 210.8h0M444.4 216h0M447.2 221.6h0M443.7 226.8h0M446.5 232.4h0M443 237.7h0M445.8 243.3h0M442.3 248.5h0M445.1 254.1h0M441.6 259.3h0M444.4 264.9h0M440.9 270.1h0M443.7 275.7h0M440.2 280.9h0M443 286.5h0M439.5 291.7h0M442.3 297.3h0M438.8 302.5h0M441.6 308.1h0M438.2 313.3h0M455.5 189.6h0M458.3 195.2h0M454.8 200.4h0M457.6 206h0M454.1 211.2h0M456.9 216.8h0M453.4 222h0M456.2 227.6h0M452.7 232.8h0M455.5 238.5h0M452 243.7h0M454.8 249.3h0M451.3 254.5h0M454.1 260.1h0M450.6 265.3h0M453.4 270.9h0M449.9 276.1h0M452.7 281.7h0M449.2 286.9h0M452 292.5h0M448.6 297.7h0M451.3 303.3h0M447.9 308.5h0M450.6 314.1h0M468 190.4h0M464.5 195.6h0M467.3 201.2h0M463.8 206.4h0M466.6 212h0M463.1 217.2h0M465.9 222.8h0M462.4 228h0M465.2 233.6h0M461.7 238.9h0M464.5 244.5h0M461 249.7h0M463.8 255.3h0M460.3 260.5h0M463.1 266.1h0M459.7 271.3h0M462.4 276.9h0M459 282.1h0M461.7 287.7h0M458.3 292.9h0M461 298.5h0M457.6 303.7h0M460.3 309.3h0M456.9 314.5h0M470.1 255.7h0M469.4 266.5h0M468.7 277.3h0M468 288.1h0M467.3 298.9h0M470.1 304.5h0M466.6 309.7h0M469.4 315.3h0M253.7 290.9h0M254.4 301.7h0M255.1 312.5h0M253.7 193.2h0M257.2 198.4h0M254.4 204h0M257.9 209.2h0M255.1 214.8h0M258.6 220h0M255.8 225.6h0M259.3 230.8h0M256.5 236.5h0M260 241.7h0M257.2 247.3h0M260.7 252.5h0M257.9 258.1h0M261.4 263.3h0M258.6 268.9h0M262 274.1h0M259.3 279.7h0M262.7 284.9h0M260 290.5h0M263.4 295.7h0M260.7 301.3h0M264.1 306.5h0M261.4 312.1h0M266.2 192.4h0M263.4 198h0M266.9 203.2h0M264.1 208.8h0M267.6 214h0M264.8 219.6h0M268.3 224.8h0M265.5 230.4h0M269 235.7h0M266.2 241.3h0M269.7 246.5h0M266.9 252.1h0M270.4 257.3h0M267.6 262.9h0M271.1 268.1h0M268.3 273.7h0M271.8 278.9h0M269 284.5h0M272.4 289.7h0M269.7 295.3h0M273.1 300.5h0M270.4 306.1h0M273.8 311.3h0M272.4 192h0M275.9 197.2h0M273.1 202.8h0M276.6 208h0M273.8 213.6h0M277.3 218.8h0M274.5 224.4h0M278 229.6h0M275.2 235.3h0M278.7 240.5h0M275.9 246.1h0M279.4 251.3h0M276.6 256.9h0M280.1 262.1h0M277.3 267.7h0M280.8 272.9h0M278 278.5h0M281.5 283.7h0M278.7 289.3h0M282.2 294.5h0M279.4 300.1h0M282.8 305.3h0M280.1 310.9h0M283.5 316.1h0M284.9 191.2h0M282.2 196.8h0M285.6 202h0M282.8 207.6h0M286.3 212.8h0M283.5 218.4h0M287 223.6h0M284.2 229.2h0M287.7 234.5h0M284.9 240.1h0M288.4 245.3h0M285.6 250.9h0M289.1 256.1h0M286.3 261.7h0M289.8 266.9h0M287 272.5h0M290.5 277.7h0M287.7 283.3h0M291.2 288.5h0M288.4 294.1h0M291.9 299.3h0M289.1 304.9h0M292.6 310.1h0M289.8 315.7h0M291.2 190.8h0M294.6 196h0M291.9 201.6h0M295.3 206.8h0M292.6 212.4h0M296 217.6h0M293.2 223.2h0M296.7 228.4h0M293.9 234.1h0M297.4 239.3h0M294.6 244.9h0M298.1 250.1h0M295.3 255.7h0M298.8 260.9h0M296 266.5h0M299.5 271.7h0M296.7 277.3h0M300.2 282.5h0M297.4 288.1h0M300.9 293.3h0M298.1 298.9h0M301.6 304.1h0M298.8 309.7h0M302.3 314.9h0M303.6 190h0M300.9 195.6h0M304.3 200.8h0M301.6 206.4h0M305 211.6h0M302.3 217.2h0M305.7 222.4h0M303 228h0M306.4 233.3h0M303.6 238.9h0M307.1 244.1h0M304.3 249.7h0M307.8 254.9h0M305 260.5h0M308.5 265.7h0M305.7 271.3h0M309.2 276.5h0M306.4 282.1h0M309.9 287.3h0M307.1 292.9h0M310.6 298.1h0M307.8 303.7h0M311.3 308.9h0M308.5 314.5h0M309.9 189.6h0M313.4 194.8h0M310.6 200.4h0M314 205.6h0M311.3 211.2h0M314.7 216.4h0M312 222h0M315.4 227.2h0M312.7 232.8h0M316.1 238.1h0M313.4 243.7h0M316.8 248.9h0M314 254.5h0M317.5 259.7h0M314.7 265.3h0M318.2 270.5h0M315.4 276.1h0M318.9 281.3h0M316.1 286.9h0M319.6 292.1h0M316.8 297.7h0M320.3 302.9h0M317.5 308.5h0M321 313.7h0M322.4 188.8h0M319.6 194.4h0M323.1 199.6h0M320.3 205.2h0M323.8 210.4h0M321 216h0M324.4 221.2h0M321.7 226.8h0M325.1 232h0M322.4 237.7h0M325.8 242.9h0M323.1 248.5h0M326.5 253.7h0M323.8 259.3h0M327.2 264.5h0M324.4 270.1h0M327.9 275.3h0M325.1 280.9h0M328.6 286.1h0M325.8 291.7h0M329.3 296.9h0M326.5 302.5h0M330 307.7h0M327.2 313.3h0M332.1 193.6h0M329.3 199.2h0M332.8 204.4h0M330 210h0M333.5 215.2h0M330.7 220.8h0M334.2 226h0M331.4 231.6h0M334.8 236.9h0M332.1 242.5h0M335.5 247.7h0M332.8 253.3h0M336.2 258.5h0M333.5 264.1h0M336.9 269.3h0M334.2 274.9h0M337.6 280.1h0M334.8 285.7h0M338.3 290.9h0M335.5 296.5h0M339 301.7h0M336.2 307.3h0M339.7 312.5h0M338.3 193.2h0M341.8 198.4h0M339 204h0M342.5 209.2h0M339.7 214.8h0M343.2 220h0M340.4 225.6h0M343.9 230.8h0M341.1 236.5h0M344.6 241.7h0M341.8 247.3h0M345.2 252.5h0M342.5 258.1h0M345.9 263.3h0M343.2 268.9h0M346.6 274.1h0M343.9 279.7h0M347.3 284.9h0M344.6 290.5h0M348 295.7h0M345.2 301.3h0M348.7 306.5h0M345.9 312.1h0M350.8 192.4h0M348 198h0M351.5 203.2h0M348.7 208.8h0M352.2 214h0M349.4 219.6h0M352.9 224.8h0M350.1 230.4h0M353.6 235.7h0M350.8 241.3h0M354.3 246.5h0M351.5 252.1h0M355 257.3h0M352.2 262.9h0M355.6 268.1h0M352.9 273.7h0M356.3 278.9h0M353.6 284.5h0M357 289.7h0M354.3 295.3h0M357.7 300.5h0M355 306.1h0M358.4 311.3h0M357 192h0M360.5 197.2h0M357.7 202.8h0M361.2 208h0M358.4 213.6h0M361.9 218.8h0M359.1 224.4h0M362.6 229.6h0M359.8 235.3h0M363.3 240.5h0M360.5 246.1h0M364 251.3h0M361.2 256.9h0M364.7 262.1h0M361.9 267.7h0M365.4 272.9h0M362.6 278.5h0M366 283.7h0M363.3 289.3h0M366.7 294.5h0M364 300.1h0M367.4 305.3h0M364.7 310.9h0M368.1 316.1h0M369.5 191.2h0M366.7 196.8h0M370.2 202h0M367.4 207.6h0M370.9 212.8h0M368.1 218.4h0M371.6 223.6h0M368.8 229.2h0M372.3 234.5h0M369.5 240.1h0M373 245.3h0M370.2 250.9h0M373.7 256.1h0M370.9 261.7h0M374.4 266.9h0M371.6 272.5h0M375.1 277.7h0M372.3 283.3h0M375.8 288.5h0M373 294.1h0M376.4 299.3h0M373.7 304.9h0M377.1 310.1h0M374.4 315.7h0M375.8 190.8h0M379.2 196h0M376.4 201.6h0M379.9 206.8h0M377.1 212.4h0M380.6 217.6h0M377.8 223.2h0M381.3 228.4h0M378.5 234.1h0M382 239.3h0M379.2 244.9h0M382.7 250.1h0M379.9 255.7h0M383.4 260.9h0M380.6 266.5h0M384.1 271.7h0M381.3 277.3h0M384.8 282.5h0M382 288.1h0M385.5 293.3h0M382.7 298.9h0M386.2 304.1h0M383.4 309.7h0M386.8 314.9h0M388.2 190h0M385.5 195.6h0M388.9 200.8h0M386.2 206.4h0M389.6 211.6h0M386.8 217.2h0M390.3 222.4h0M387.5 228h0M391 233.3h0M388.2 238.9h0M391.7 244.1h0M388.9 249.7h0M392.4 254.9h0M389.6 260.5h0M393.1 265.7h0M390.3 271.3h0M393.8 276.5h0M391 282.1h0M394.5 287.3h0M391.7 292.9h0M395.2 298.1h0M392.4 303.7h0M395.9 308.9h0M393.1 314.5h0M394.5 189.6h0M397.9 194.8h0M395.2 200.4h0M398.6 205.6h0M395.9 211.2h0M399.3 216.4h0M396.6 222h0M400 227.2h0M397.2 232.9h0M400.7 238.1h0M397.9 243.7h0M401.4 248.9h0M398.6 254.5h0M402.1 259.7h0M399.3 265.3h0M402.8 270.5h0M400 276.1h0M403.5 281.3h0M400.7 286.9h0M404.2 292.1h0M401.4 297.7h0M404.9 302.9h0M402.1 308.5h0M405.6 313.7h0M407 188.8h0M404.2 194.4h0M407.6 199.6h0M404.9 205.2h0M408.3 210.4h0M405.6 216h0M409 221.2h0M406.3 226.8h0M409.7 232h0M407 237.7h0M410.4 242.9h0M407.6 248.5h0M411.1 253.7h0M408.3 259.3h0M411.8 264.5h0M409 270.1h0M412.5 275.3h0M409.7 280.9h0M413.2 286.1h0M410.4 291.7h0M413.9 296.9h0M411.1 302.5h0M414.6 307.7h0M411.8 313.3h0M416.7 193.6h0M413.9 199.2h0M417.4 204.4h0M414.6 210h0M418.1 215.2h0M415.3 220.8h0M418.7 226h0M416 231.6h0M419.4 236.9h0M416.7 242.5h0M420.1 247.7h0M417.4 253.3h0M420.8 258.5h0M418 264.1h0M421.5 269.3h0M418.7 274.9h0M422.2 280.1h0M419.4 285.7h0M422.9 290.9h0M420.1 296.5h0M423.6 301.7h0M420.8 307.3h0M424.3 312.5h0M422.9 193.2h0M426.4 198.4h0M423.6 204h0M427.1 209.2h0M424.3 214.8h0M427.8 220h0M425 225.6h0M428.5 230.8h0M425.7 236.5h0M429.1 241.7h0M426.4 247.3h0M429.8 252.5h0M427.1 258.1h0M430.5 263.3h0M427.8 268.9h0M431.2 274.1h0M428.4 279.7h0M431.9 284.9h0M429.1 290.5h0M432.6 295.7h0M429.8 301.3h0M433.3 306.5h0M430.5 312.1h0M435.4 192.4h0M432.6 198h0M436.1 203.2h0M433.3 208.8h0M436.8 214h0M434 219.6h0M437.5 224.8h0M434.7 230.4h0M438.2 235.7h0M435.4 241.3h0M438.9 246.5h0M436.1 252.1h0M439.5 257.3h0M436.8 262.9h0M440.2 268.1h0M437.5 273.7h0M440.9 278.9h0M438.2 284.5h0M441.6 289.7h0M438.8 295.3h0M442.3 300.5h0M439.5 306.1h0M443 311.3h0M441.6 192h0M445.1 197.2h0M442.3 202.8h0M445.8 208h0M443 213.6h0M446.5 218.8h0M443.7 224.4h0M447.2 229.6h0M444.4 235.3h0M447.9 240.5h0M445.1 246.1h0M448.6 251.3h0M445.8 256.9h0M449.3 262.1h0M446.5 267.7h0M449.9 272.9h0M447.2 278.5h0M450.6 283.7h0M447.9 289.3h0M451.3 294.5h0M448.6 300.1h0M452 305.3h0M449.2 310.9h0M452.7 316.1h0M454.1 191.2h0M451.3 196.8h0M454.8 202h0M452 207.6h0M455.5 212.8h0M452.7 218.4h0M456.2 223.6h0M453.4 229.2h0M456.9 234.5h0M454.1 240.1h0M457.6 245.3h0M454.8 250.9h0M458.3 256.1h0M455.5 261.7h0M459 266.9h0M456.2 272.5h0M459.7 277.7h0M456.9 283.3h0M460.3 288.5h0M457.6 294.1h0M461 299.3h0M458.3 304.9h0M461.7 310.1h0M459 315.7h0M460.3 190.8h0M463.8 196h0M461 201.6h0M464.5 206.8h0M461.7 212.4h0M465.2 217.6h0M462.4 223.2h0M465.9 228.4h0M463.1 234.1h0M466.6 239.3h0M463.8 244.9h0M467.3 250.1h0M464.5 255.7h0M468 260.9h0M465.2 266.5h0M468.7 271.7h0M465.9 277.3h0M469.4 282.5h0M466.6 288.1h0M470.1 293.3h0M467.3 298.9h0M468 309.7h0M470.1 195.6h0" stroke="#aea632" stroke-width="5.0" stroke-linecap="round" fill="none"/>
<path d="M257.9 193.2h0M260.7 198.8h0M257.2 204h0M260 209.6h0M256.5 214.8h0M259.3 220.4h0M255.8 225.6h0M258.6 231.2h0M255.1 236.5h0M257.9 242.1h0M254.4 247.3h0M257.2 252.9h0M253.7 258.1h0M256.5 263.7h0M255.8 274.5h0M255.1 285.3h0M254.4 296.1h0M253.7 306.9h0M270.4 194h0M266.9 199.2h0M269.7 204.8h0M266.2 210h0M269 215.6h0M265.5 220.8h0M268.3 226.4h0M264.8 231.6h0M267.6 237.3h0M264.1 242.5h0M266.9 248.1h0M263.4 253.3h0M266.2 258.9h0M262.7 264.1h0M265.5 269.7h0M262 274.9h0M264.8 280.5h0M261.4 285.7h0M264.1 291.3h0M260.7 296.5h0M263.4 302.1h0M260 307.3h0M262.7 312.9h0M280.1 189.2h0M276.6 194.4h0M279.4 200h0M275.9 205.2h0M278.7 210.8h0M275.2 216h0M278 221.6h0M274.5 226.8h0M277.3 232.4h0M273.8 237.7h0M276.6 243.3h0M273.1 248.5h0M275.9 254.1h0M272.4 259.3h0M275.2 264.9h0M271.8 270.1h0M274.5 275.7h0M271.1 280.9h0M273.8 286.5h0M270.4 291.7h0M273.1 297.3h0M269.7 302.5h0M272.4 308.1h0M269 313.3h0M286.3 189.6h0M289.1 195.2h0M285.6 200.4h0M288.4 206h0M284.9 211.2h0M287.7 216.8h0M284.2 222h0M287 227.6h0M283.5 232.8h0M286.3 238.5h0M282.8 243.7h0M285.6 249.3h0M282.2 254.5h0M284.9 260.1h0M281.5 265.3h0M284.2 270.9h0M280.8 276.1h0M283.5 281.7h0M280.1 286.9h0M282.8 292.5h0M279.4 297.7h0M282.2 303.3h0M278.7 308.5h0M281.5 314.1h0M298.8 190.4h0M295.3 195.6h0M298.1 201.2h0M294.6 206.4h0M297.4 212h0M293.9 217.2h0M296.7 222.8h0M293.2 228h0M296 233.7h0M292.6 238.9h0M295.3 244.5h0M291.9 249.7h0M294.6 255.3h0M291.2 260.5h0M293.9 266.1h0M290.5 271.3h0M293.2 276.9h0M289.8 282.1h0M292.6 287.7h0M289.1 292.9h0M291.9 298.5h0M288.4 303.7h0M291.2 309.3h0M287.7 314.5h0M305 190.8h0M307.8 196.4h0M304.3 201.6h0M307.1 207.2h0M303.6 212.4h0M306.4 218h0M303 223.2h0M305.7 228.8h0M302.3 234.1h0M305 239.7h0M301.6 244.9h0M304.3 250.5h0M300.9 255.7h0M303.6 261.3h0M300.2 266.5h0M303 272.1h0M299.5 277.3h0M302.3 282.9h0M298.8 288.1h0M301.6 293.7h0M298.1 298.9h0M300.9 304.5h0M297.4 309.7h0M300.2 315.3h0M317.5 191.6h0M314 196.8h0M316.8 202.4h0M313.4 207.6h0M316.1 213.2h0M312.7 218.4h0M315.4 224h0M312 229.2h0M314.7 234.9h0M311.3 240.1h0M314 245.7h0M310.6 250.9h0M313.4 256.5h0M309.9 261.7h0M312.7 267.3h0M309.2 272.5h0M312 278.1h0M308.5 283.3h0M311.3 288.9h0M307.8 294.1h0M310.6 299.7h0M307.1 304.9h0M309.9 310.5h0M306.4 315.7h0M323.8 192h0M326.5 197.6h0M323.1 202.8h0M325.8 208.4h0M322.4 213.6h0M325.1 219.2h0M321.7 224.4h0M324.4 230h0M321 235.3h0M323.8 240.9h0M320.3 246.1h0M323.1 251.7h0M319.6 256.9h0M322.4 262.5h0M318.9 267.7h0M321.7 273.3h0M318.2 278.5h0M321 284.1h0M317.5 289.3h0M320.3 294.9h0M316.8 300.1h0M319.6 305.7h0M316.1 310.9h0M318.9 316.5h0M336.2 192.8h0M332.8 198h0M335.5 203.6h0M332.1 208.8h0M334.8 214.4h0M331.4 219.6h0M334.2 225.2h0M330.7 230.4h0M333.5 236.1h0M330 241.3h0M332.8 246.9h0M329.3 252.1h0M332.1 257.7h0M328.6 262.9h0M331.4 268.5h0M327.9 273.7h0M330.7 279.3h0M327.2 284.5h0M330 290.1h0M326.5 295.3h0M329.3 300.9h0M325.8 306.1h0M328.6 311.7h0M342.5 193.2h0M345.2 198.8h0M341.8 204h0M344.6 209.6h0M341.1 214.8h0M343.9 220.4h0M340.4 225.6h0M343.2 231.2h0M339.7 236.5h0M342.5 242.1h0M339 247.3h0M341.8 252.9h0M338.3 258.1h0M341.1 263.7h0M337.6 268.9h0M340.4 274.5h0M336.9 279.7h0M339.7 285.3h0M336.2 290.5h0M339 296.1h0M335.5 301.3h0M338.3 306.9h0M334.8 312.1h0M355 194h0M351.5 199.2h0M354.3 204.8h0M350.8 210h0M353.6 215.6h0M350.1 220.8h0M352.9 226.4h0M349.4 231.6h0M352.2 237.3h0M348.7 242.5h0M351.5 248.1h0M348 253.3h0M350.8 258.9h0M347.3 264.1h0M350.1 269.7h0M346.6 274.9h0M349.4 280.5h0M345.9 285.7h0M348.7 291.3h0M345.2 296.5h0M348 302.1h0M344.6 307.3h0M347.3 312.9h0M364.7 189.2h0M361.2 194.4h0M364 200h0M360.5 205.2h0M363.3 210.8h0M359.8 216h0M362.6 221.6h0M359.1 226.8h0M361.9 232.4h0M358.4 237.7h0M361.2 243.3h0M357.7 248.5h0M360.5 254.1h0M357 259.3h0M359.8 264.9h0M356.3 270.1h0M359.1 275.7h0M355.6 280.9h0M358.4 286.5h0M355 291.7h0M357.7 297.3h0M354.3 302.5h0M357 308.1h0M353.6 313.3h0M370.9 189.6h0M373.7 195.2h0M370.2 200.4h0M373 206h0M369.5 211.2h0M372.3 216.8h0M368.8 222h0M371.6 227.6h0M368.1 232.8h0M370.9 238.5h0M367.4 243.7h0M370.2 249.3h0M366.7 254.5h0M369.5 260.1h0M366 265.3h0M368.8 270.9h0M365.4 276.1h0M368.1 281.7h0M364.7 286.9h0M367.4 292.5h0M364 297.7h0M366.7 303.3h0M363.3 308.5h0M366 314.1h0M383.4 190.4h0M379.9 195.6h0M382.7 201.2h0M379.2 206.4h0M382 212h0M378.5 217.2h0M381.3 222.8h0M377.8 228h0M380.6 233.6h0M377.1 238.9h0M379.9 244.5h0M376.4 249.7h0M379.2 255.3h0M375.8 260.5h0M378.5 266.1h0M375.1 271.3h0M377.8 276.9h0M374.4 282.1h0M377.1 287.7h0M373.7 292.9h0M376.4 298.5h0M373 303.7h0M375.8 309.3h0M372.3 314.5h0M389.6 190.8h0M392.4 196.4h0M388.9 201.6h0M391.7 207.2h0M388.2 212.4h0M391 218h0M387.5 223.2h0M390.3 228.8h0M386.8 234h0M389.6 239.7h0M386.2 244.9h0M388.9 250.5h0M385.5 255.7h0M388.2 261.3h0M384.8 266.5h0M387.5 272.1h0M384.1 277.3h0M386.8 282.9h0M383.4 288.1h0M386.2 293.7h0M382.7 298.9h0M385.5 304.5h0M382 309.7h0M384.8 315.3h0M402.1 191.6h0M398.6 196.8h0M401.4 202.4h0M397.9 207.6h0M400.7 213.2h0M397.2 218.4h0M400 224h0M396.6 229.2h0M399.3 234.9h0M395.9 240.1h0M398.6 245.7h0M395.2 250.9h0M397.9 256.5h0M394.5 261.7h0M397.2 267.3h0M393.8 272.5h0M396.6 278.1h0M393.1 283.3h0M395.9 288.9h0M392.4 294.1h0M395.2 299.7h0M391.7 304.9h0M394.5 310.5h0M391 315.7h0M408.3 192h0M411.1 197.6h0M407.6 202.8h0M410.4 208.4h0M407 213.6h0M409.7 219.2h0M406.3 224.4h0M409 230h0M405.6 235.3h0M408.3 240.9h0M404.9 246.1h0M407.6 251.7h0M404.2 256.9h0M407 262.5h0M403.5 267.7h0M406.3 273.3h0M402.8 278.5h0M405.6 284.1h0M402.1 289.3h0M404.9 294.9h0M401.4 300.1h0M404.2 305.7h0M400.7 310.9h0M403.5 316.5h0M420.8 192.8h0M417.4 198h0M420.1 203.6h0M416.7 208.8h0M419.4 214.4h0M416 219.6h0M418.7 225.2h0M415.3 230.4h0M418 236.1h0M414.6 241.3h0M417.4 246.9h0M413.9 252.1h0M416.7 257.7h0M413.2 262.9h0M416 268.5h0M412.5 273.7h0M415.3 279.3h0M411.8 284.5h0M414.6 290.1h0M411.1 295.3h0M413.9 300.9h0M410.4 306.1h0M413.2 311.7h0M427.1 193.2h0M429.8 198.8h0M426.4 204h0M429.1 209.6h0M425.7 214.8h0M428.4 220.4h0M425 225.6h0M427.8 231.2h0M424.3 236.5h0M427.1 242.1h0M423.6 247.3h0M426.4 252.9h0M422.9 258.1h0M425.7 263.7h0M422.2 268.9h0M425 274.5h0M421.5 279.7h0M424.3 285.3h0M420.8 290.5h0M423.6 296.1h0M420.1 301.3h0M422.9 306.9h0M419.4 312.1h0M439.5 194h0M436.1 199.2h0M438.8 204.8h0M435.4 210h0M438.2 215.6h0M434.7 220.8h0M437.5 226.4h0M434 231.6h0M436.8 237.3h0M433.3 242.5h0M436.1 248.1h0M432.6 253.3h0M435.4 258.9h0M431.9 264.1h0M434.7 269.7h0M431.2 274.9h0M434 280.5h0M430.5 285.7h0M433.3 291.3h0M429.8 296.5h0M432.6 302.1h0M429.1 307.3h0M431.9 312.9h0M449.2 189.2h0M445.8 194.4h0M448.6 200h0M445.1 205.2h0M447.9 210.8h0M444.4 216h0M447.2 221.6h0M443.7 226.8h0M446.5 232.4h0M443 237.7h0M445.8 243.3h0M442.3 248.5h0M445.1 254.1h0M441.6 259.3h0M444.4 264.9h0M440.9 270.1h0M443.7 275.7h0M440.2 280.9h0M443 286.5h0M439.5 291.7h0M442.3 297.3h0M438.8 302.5h0M441.6 308.1h0M438.2 313.3h0M455.5 189.6h0M458.3 195.2h0M454.8 200.4h0M457.6 206h0M454.1 211.2h0M456.9 216.8h0M453.4 222h0M456.2 227.6h0M452.7 232.8h0M455.5 238.5h0M452 243.7h0M454.8 249.3h0M451.3 254.5h0M454.1 260.1h0M450.6 265.3h0M453.4 270.9h0M449.9 276.1h0M452.7 281.7h0M449.2 286.9h0M452 292.5h0M448.6 297.7h0M451.3 303.3h0M447.9 308.5h0M450.6 314.1h0M468 190.4h0M464.5 195.6h0M467.3 201.2h0M463.8 206.4h0M466.6 212h0M463.1 217.2h0M465.9 222.8h0M462.4 228h0M465.2 233.6h0M461.7 238.9h0M464.5 244.5h0M461 249.7h0M463.8 255.3h0M460.3 260.5h0M463.1 266.1h0M459.7 271.3h0M462.4 276.9h0M459 282.1h0M461.7 287.7h0M458.3 292.9h0M461 298.5h0M457.6 303.7h0M460.3 309.3h0M456.9 314.5h0M470.1 255.7h0M469.4 266.5h0M468.7 277.3h0M468 288.1h0M467.3 298.9h0M470.1 304.5h0M466.6 309.7h0M469.4 315.3h0M253.7 290.9h0M254.4 301.7h0M255.1 312.5h0M253.7 193.2h0M257.2 198.4h0M254.4 204h0M257.9 209.2h0M255.1 214.8h0M258.6 220h0M255.8 225.6h0M259.3 230.8h0M256.5 236.5h0M260 241.7h0M257.2 247.3h0M260.7 252.5h0M257.9 258.1h0M261.4 263.3h0M258.6 268.9h0M262 274.1h0M259.3 279.7h0M262.7 284.9h0M260 290.5h0M263.4 295.7h0M260.7 301.3h0M264.1 306.5h0M261.4 312.1h0M266.2 192.4h0M263.4 198h0M266.9 203.2h0M264.1 208.8h0M267.6 214h0M264.8 219.6h0M268.3 224.8h0M265.5 230.4h0M269 235.7h0M266.2 241.3h0M269.7 246.5h0M266.9 252.1h0M270.4 257.3h0M267.6 262.9h0M271.1 268.1h0M268.3 273.7h0M271.8 278.9h0M269 284.5h0M272.4 289.7h0M269.7 295.3h0M273.1 300.5h0M270.4 306.1h0M273.8 311.3h0M272.4 192h0M275.9 197.2h0M273.1 202.8h0M276.6 208h0M273.8 213.6h0M277.3 218.8h0M274.5 224.4h0M278 229.6h0M275.2 235.3h0M278.7 240.5h0M275.9 246.1h0M279.4 251.3h0M276.6 256.9h0M280.1 262.1h0M277.3 267.7h0M280.8 272.9h0M278 278.5h0M281.5 283.7h0M278.7 289.3h0M282.2 294.5h0M279.4 300.1h0M282.8 305.3h0M280.1 310.9h0M283.5 316.1h0M284.9 191.2h0M282.2 196.8h0M285.6 202h0M282.8 207.6h0M286.3 212.8h0M283.5 218.4h0M287 223.6h0M284.2 229.2h0M287.7 234.5h0M284.9 240.1h0M288.4 245.3h0M285.6 250.9h0M289.1 256.1h0M286.3 261.7h0M289.8 266.9h0M287 272.5h0M290.5 277.7h0M287.7 283.3h0M291.2 288.5h0M288.4 294.1h0M291.9 299.3h0M289.1 304.9h0M292.6 310.1h0M289.8 315.7h0M291.2 190.8h0M294.6 196h0M291.9 201.6h0M295.3 206.8h0M292.6 212.4h0M296 217.6h0M293.2 223.2h0M296.7 228.4h0M293.9 234.1h0M297.4 239.3h0M294.6 244.9h0M298.1 250.1h0M295.3 255.7h0M298.8 260.9h0M296 266.5h0M299.5 271.7h0M296.7 277.3h0M300.2 282.5h0M297.4 288.1h0M300.9 293.3h0M298.1 298.9h0M301.6 304.1h0M298.8 309.7h0M302.3 314.9h0M303.6 190h0M300.9 195.6h0M304.3 200.8h0M301.6 206.4h0M305 211.6h0M302.3 217.2h0M305.7 222.4h0M303 228h0M306.4 233.3h0M303.6 238.9h0M307.1 244.1h0M304.3 249.7h0M307.8 254.9h0M305 260.5h0M308.5 265.7h0M305.7 271.3h0M309.2 276.5h0M306.4 282.1h0M309.9 287.3h0M307.1 292.9h0M310.6 298.1h0M307.8 303.7h0M311.3 308.9h0M308.5 314.5h0M309.9 189.6h0M313.4 194.8h0M310.6 200.4h0M314 205.6h0M311.3 211.2h0M314.7 216.4h0M312 222h0M315.4 227.2h0M312.7 232.8h0M316.1 238.1h0M313.4 243.7h0M316.8 248.9h0M314 254.5h0M317.5 259.7h0M314.7 265.3h0M318.2 270.5h0M315.4 276.1h0M318.9 281.3h0M316.1 286.9h0M319.6 292.1h0M316.8 297.7h0M320.3 302.9h0M317.5 308.5h0M321 313.7h0M322.4 188.8h0M319.6 194.4h0M323.1 199.6h0M320.3 205.2h0M323.8 210.4h0M321 216h0M324.4 221.2h0M321.7 226.8h0M325.1 232h0M322.4 237.7h0M325.8 242.9h0M323.1 248.5h0M326.5 253.7h0M323.8 259.3h0M327.2 264.5h0M324.4 270.1h0M327.9 275.3h0M325.1 280.9h0M328.6 286.1h0M325.8 291.7h0M329.3 296.9h0M326.5 302.5h0M330 307.7h0M327.2 313.3h0M332.1 193.6h0M329.3 199.2h0M332.8 204.4h0M330 210h0M333.5 215.2h0M330.7 220.8h0M334.2 226h0M331.4 231.6h0M334.8 236.9h0M332.1 242.5h0M335.5 247.7h0M332.8 253.3h0M336.2 258.5h0M333.5 264.1h0M336.9 269.3h0M334.2 274.9h0M337.6 280.1h0M334.8 285.7h0M338.3 290.9h0M335.5 296.5h0M339 301.7h0M336.2 307.3h0M339.7 312.5h0M338.3 193.2h0M341.8 198.4h0M339 204h0M342.5 209.2h0M339.7 214.8h0M343.2 220h0M340.4 225.6h0M343.9 230.8h0M341.1 236.5h0M344.6 241.7h0M341.8 247.3h0M345.2 252.5h0M342.5 258.1h0M345.9 263.3h0M343.2 268.9h0M346.6 274.1h0M343.9 279.7h0M347.3 284.9h0M344.6 290.5h0M348 295.7h0M345.2 301.3h0M348.7 306.5h0M345.9 312.1h0M350.8 192.4h0M348 198h0M351.5 203.2h0M348.7 208.8h0M352.2 214h0M349.4 219.6h0M352.9 224.8h0M350.1 230.4h0M353.6 235.7h0M350.8 241.3h0M354.3 246.5h0M351.5 252.1h0M355 257.3h0M352.2 262.9h0M355.6 268.1h0M352.9 273.7h0M356.3 278.9h0M353.6 284.5h0M357 289.7h0M354.3 295.3h0M357.7 300.5h0M355 306.1h0M358.4 311.3h0M357 192h0M360.5 197.2h0M357.7 202.8h0M361.2 208h0M358.4 213.6h0M361.9 218.8h0M359.1 224.4h0M362.6 229.6h0M359.8 235.3h0M363.3 240.5h0M360.5 246.1h0M364 251.3h0M361.2 256.9h0M364.7 262.1h0M361.9 267.7h0M365.4 272.9h0M362.6 278.5h0M366 283.7h0M363.3 289.3h0M366.7 294.5h0M364 300.1h0M367.4 305.3h0M364.7 310.9h0M368.1 316.1h0M369.5 191.2h0M366.7 196.8h0M370.2 202h0M367.4 207.6h0M370.9 212.8h0M368.1 218.4h0M371.6 223.6h0M368.8 229.2h0M372.3 234.5h0M369.5 240.1h0M373 245.3h0M370.2 250.9h0M373.7 256.1h0M370.9 261.7h0M374.4 266.9h0M371.6 272.5h0M375.1 277.7h0M372.3 283.3h0M375.8 288.5h0M373 294.1h0M376.4 299.3h0M373.7 304.9h0M377.1 310.1h0M374.4 315.7h0M375.8 190.8h0M379.2 196h0M376.4 201.6h0M379.9 206.8h0M377.1 212.4h0M380.6 217.6h0M377.8 223.2h0M381.3 228.4h0M378.5 234.1h0M382 239.3h0M379.2 244.9h0M382.7 250.1h0M379.9 255.7h0M383.4 260.9h0M380.6 266.5h0M384.1 271.7h0M381.3 277.3h0M384.8 282.5h0M382 288.1h0M385.5 293.3h0M382.7 298.9h0M386.2 304.1h0M383.4 309.7h0M386.8 314.9h0M388.2 190h0M385.5 195.6h0M388.9 200.8h0M386.2 206.4h0M389.6 211.6h0M386.8 217.2h0M390.3 222.4h0M387.5 228h0M391 233.3h0M388.2 238.9h0M391.7 244.1h0M388.9 249.7h0M392.4 254.9h0M389.6 260.5h0M393.1 265.7h0M390.3 271.3h0M393.8 276.5h0M391 282.1h0M394.5 287.3h0M391.7 292.9h0M395.2 298.1h0M392.4 303.7h0M395.9 308.9h0M393.1 314.5h0M394.5 189.6h0M397.9 194.8h0M395.2 200.4h0M398.6 205.6h0M395.9 211.2h0M399.3 216.4h0M396.6 222h0M400 227.2h0M397.2 232.9h0M400.7 238.1h0M397.9 243.7h0M401.4 248.9h0M398.6 254.5h0M402.1 259.7h0M399.3 265.3h0M402.8 270.5h0M400 276.1h0M403.5 281.3h0M400.7 286.9h0M404.2 292.1h0M401.4 297.7h0M404.9 302.9h0M402.1 308.5h0M405.6 313.7h0M407 188.8h0M404.2 194.4h0M407.6 199.6h0M404.9 205.2h0M408.3 210.4h0M405.6 216h0M409 221.2h0M406.3 226.8h0M409.7 232h0M407 237.7h0M410.4 242.9h0M407.6 248.5h0M411.1 253.7h0M408.3 259.3h0M411.8 264.5h0M409 270.1h0M412.5 275.3h0M409.7 280.9h0M413.2 286.1h0M410.4 291.7h0M413.9 296.9h0M411.1 302.5h0M414.6 307.7h0M411.8 313.3h0M416.7 193.6h0M413.9 199.2h0M417.4 204.4h0M414.6 210h0M418.1 215.2h0M415.3 220.8h0M418.7 226h0M416 231.6h0M419.4 236.9h0M416.7 242.5h0M420.1 247.7h0M417.4 253.3h0M420.8 258.5h0M418 264.1h0M421.5 269.3h0M418.7 274.9h0M422.2 280.1h0M419.4 285.7h0M422.9 290.9h0M420.1 296.5h0M423.6 301.7h0M420.8 307.3h0M424.3 312.5h0M422.9 193.2h0M426.4 198.4h0M423.6 204h0M427.1 209.2h0M424.3 214.8h0M427.8 220h0M425 225.6h0M428.5 230.8h0M425.7 236.5h0M429.1 241.7h0M426.4 247.3h0M429.8 252.5h0M427.1 258.1h0M430.5 263.3h0M427.8 268.9h0M431.2 274.1h0M428.4 279.7h0M431.9 284.9h0M429.1 290.5h0M432.6 295.7h0M429.8 301.3h0M433.3 306.5h0M430.5 312.1h0M435.4 192.4h0M432.6 198h0M436.1 203.2h0M433.3 208.8h0M436.8 214h0M434 219.6h0M437.5 224.8h0M434.7 230.4h0M438.2 235.7h0M435.4 241.3h0M438.9 246.5h0M436.1 252.1h0M439.5 257.3h0M436.8 262.9h0M440.2 268.1h0M437.5 273.7h0M440.9 278.9h0M438.2 284.5h0M441.6 289.7h0M438.8 295.3h0M442.3 300.5h0M439.5 306.1h0M443 311.3h0M441.6 192h0M445.1 197.2h0M442.3 202.8h0M445.8 208h0M443 213.6h0M446.5 218.8h0M443.7 224.4h0M447.2 229.6h0M444.4 235.3h0M447.9 240.5h0M445.1 246.1h0M448.6 251.3h0M445.8 256.9h0M449.3 262.1h0M446.5 267.7h0M449.9 272.9h0M447.2 278.5h0M450.6 283.7h0M447.9 289.3h0M451.3 294.5h0M448.6 300.1h0M452 305.3h0M449.2 310.9h0M452.7 316.1h0M454.1 191.2h0M451.3 196.8h0M454.8 202h0M452 207.6h0M455.5 212.8h0M452.7 218.4h0M456.2 223.6h0M453.4 229.2h0M456.9 234.5h0M454.1 240.1h0M457.6 245.3h0M454.8 250.9h0M458.3 256.1h0M455.5 261.7h0M459 266.9h0M456.2 272.5h0M459.7 277.7h0M456.9 283.3h0M460.3 288.5h0M457.6 294.1h0M461 299.3h0M458.3 304.9h0M461.7 310.1h0M459 315.7h0M460.3 190.8h0M463.8 196h0M461 201.6h0M464.5 206.8h0M461.7 212.4h0M465.2 217.6h0M462.4 223.2h0M465.9 228.4h0M463.1 234.1h0M466.6 239.3h0M463.8 244.9h0M467.3 250.1h0M464.5 255.7h0M468 260.9h0M465.2 266.5h0M468.7 271.7h0M465.9 277.3h0M469.4 282.5h0M466.6 288.1h0M470.1 293.3h0M467.3 298.9h0M468 309.7h0M470.1 195.6h0" stroke="#c8c04c" stroke-width="3.7" stroke-linecap="round" fill="none"/>
<path d="M254.4 198.4h0M253.7 209.2h0M264.1 193.6h0M263.4 204.4h0M262.7 215.2h0M262 226h0M261.4 236.9h0M260.7 247.7h0M260 258.5h0M259.3 269.3h0M258.6 280.1h0M257.9 290.9h0M257.2 301.7h0M256.5 312.5h0M273.8 188.8h0M273.1 199.6h0M272.4 210.4h0M271.8 221.2h0M271.1 232h0M270.4 242.9h0M269.7 253.7h0M269 264.5h0M268.3 275.3h0M267.6 286.1h0M266.9 296.9h0M266.2 307.7h0M282.8 194.8h0M282.2 205.6h0M281.5 216.4h0M280.8 227.2h0M280.1 238.1h0M279.4 248.9h0M278.7 259.7h0M278 270.5h0M277.3 281.3h0M276.6 292.1h0M275.9 302.9h0M275.2 313.7h0M292.6 190h0M291.9 200.8h0M291.2 211.6h0M290.5 222.4h0M289.8 233.3h0M289.1 244.1h0M288.4 254.9h0M287.7 265.7h0M287 276.5h0M286.3 287.3h0M285.6 298.1h0M284.9 308.9h0M301.6 196h0M300.9 206.8h0M300.2 217.6h0M299.5 228.4h0M298.8 239.3h0M298.1 250.1h0M297.4 260.9h0M296.7 271.7h0M296 282.5h0M295.3 293.3h0M294.6 304.1h0M293.9 314.9h0M311.3 191.2h0M310.6 202h0M309.9 212.8h0M309.2 223.6h0M308.5 234.5h0M307.8 245.3h0M307.1 256.1h0M306.4 266.9h0M305.7 277.7h0M305 288.5h0M304.3 299.3h0M303.6 310.1h0M320.3 197.2h0M319.6 208h0M318.9 218.8h0M318.2 229.6h0M317.5 240.5h0M316.8 251.3h0M316.1 262.1h0M315.4 272.9h0M314.7 283.7h0M314 294.5h0M313.4 305.3h0M312.7 316.1h0M330 192.4h0M329.3 203.2h0M328.6 214h0M327.9 224.8h0M327.2 235.7h0M326.5 246.5h0M325.8 257.3h0M325.1 268.1h0M324.4 278.9h0M323.8 289.7h0M323.1 300.5h0M322.4 311.3h0M339 198.4h0M338.3 209.2h0M337.6 220h0M336.9 230.8h0M336.2 241.7h0M335.5 252.5h0M334.8 263.3h0M334.2 274.1h0M333.5 284.9h0M332.8 295.7h0M332.1 306.5h0M348.7 193.6h0M348 204.4h0M347.3 215.2h0M346.6 226h0M345.9 236.9h0M345.2 247.7h0M344.6 258.5h0M343.9 269.3h0M343.2 280.1h0M342.5 290.9h0M341.8 301.7h0M341.1 312.5h0M358.4 188.8h0M357.7 199.6h0M357 210.4h0M356.3 221.2h0M355.6 232h0M355 242.9h0M354.3 253.7h0M353.6 264.5h0M352.9 275.3h0M352.2 286.1h0M351.5 296.9h0M350.8 307.7h0M367.4 194.8h0M366.7 205.6h0M366 216.4h0M365.4 227.2h0M364.7 238.1h0M364 248.9h0M363.3 259.7h0M362.6 270.5h0M361.9 281.3h0M361.2 292.1h0M360.5 302.9h0M359.8 313.7h0M377.1 190h0M376.4 200.8h0M375.8 211.6h0M375.1 222.4h0M374.4 233.2h0M373.7 244.1h0M373 254.9h0M372.3 265.7h0M371.6 276.5h0M370.9 287.3h0M370.2 298.1h0M369.5 308.9h0M386.2 196h0M385.5 206.8h0M384.8 217.6h0M384.1 228.4h0M383.4 239.3h0M382.7 250.1h0M382 260.9h0M381.3 271.7h0M380.6 282.5h0M379.9 293.3h0M379.2 304.1h0M378.5 314.9h0M395.9 191.2h0M395.2 202h0M394.5 212.8h0M393.8 223.6h0M393.1 234.5h0M392.4 245.3h0M391.7 256.1h0M391 266.9h0M390.3 277.7h0M389.6 288.5h0M388.9 299.3h0M388.2 310.1h0M404.9 197.2h0M404.2 208h0M403.5 218.8h0M402.8 229.6h0M402.1 240.5h0M401.4 251.3h0M400.7 262.1h0M400 272.9h0M399.3 283.7h0M398.6 294.5h0M397.9 305.3h0M397.2 316.1h0M414.6 192.4h0M413.9 203.2h0M413.2 214h0M412.5 224.8h0M411.8 235.7h0M411.1 246.5h0M410.4 257.3h0M409.7 268.1h0M409 278.9h0M408.3 289.7h0M407.6 300.5h0M407 311.3h0M423.6 198.4h0M422.9 209.2h0M422.2 220h0M421.5 230.8h0M420.8 241.7h0M420.1 252.5h0M419.4 263.3h0M418.7 274.1h0M418 284.9h0M417.4 295.7h0M416.7 306.5h0M433.3 193.6h0M432.6 204.4h0M431.9 215.2h0M431.2 226h0M430.5 236.9h0M429.8 247.7h0M429.1 258.5h0M428.4 269.3h0M427.8 280.1h0M427.1 290.9h0M426.4 301.7h0M425.7 312.5h0M443 188.8h0M442.3 199.6h0M441.6 210.4h0M440.9 221.2h0M440.2 232h0M439.5 242.9h0M438.8 253.7h0M438.2 264.5h0M437.5 275.3h0M436.8 286.1h0M436.1 296.9h0M435.4 307.7h0M452 194.8h0M451.3 205.6h0M450.6 216.4h0M449.9 227.2h0M449.2 238.1h0M448.6 248.9h0M447.9 259.7h0M447.2 270.5h0M446.5 281.3h0M445.8 292.1h0M445.1 302.9h0M444.4 313.7h0M461.7 190h0M461 200.8h0M460.3 211.6h0M459.6 222.4h0M459 233.2h0M458.3 244.1h0M457.6 254.9h0M456.9 265.7h0M456.2 276.5h0M455.5 287.3h0M454.8 298.1h0M454.1 308.9h0M470 206.8h0M469.4 217.6h0M468.7 228.4h0M468 239.3h0M467.3 250.1h0M466.6 260.9h0M465.9 271.7h0M465.2 282.5h0M464.5 293.3h0M463.8 304.1h0M463.1 314.9h0M253.7 242.1h0M254.4 252.9h0M255.1 263.7h0M255.8 274.5h0M256.5 285.3h0M257.2 296.1h0M257.9 306.9h0M260 192.8h0M260.7 203.6h0M261.4 214.4h0M262 225.2h0M262.7 236.1h0M263.4 246.9h0M264.1 257.7h0M264.8 268.5h0M265.5 279.3h0M266.2 290.1h0M266.9 300.9h0M267.6 311.7h0M269.7 197.6h0M270.4 208.4h0M271.1 219.2h0M271.8 230h0M272.4 240.9h0M273.1 251.7h0M273.8 262.5h0M274.5 273.3h0M275.2 284.1h0M275.9 294.9h0M276.6 305.7h0M277.3 316.5h0M278.7 191.6h0M279.4 202.4h0M280.1 213.2h0M280.8 224h0M281.5 234.9h0M282.2 245.7h0M282.8 256.5h0M283.5 267.3h0M284.2 278.1h0M284.9 288.9h0M285.6 299.7h0M286.3 310.5h0M288.4 196.4h0M289.1 207.2h0M289.8 218h0M290.5 228.8h0M291.2 239.7h0M291.9 250.5h0M292.6 261.3h0M293.2 272.1h0M293.9 282.9h0M294.6 293.7h0M295.3 304.5h0M296 315.3h0M297.4 190.4h0M298.1 201.2h0M298.8 212h0M299.5 222.8h0M300.2 233.7h0M300.9 244.5h0M301.6 255.3h0M302.3 266.1h0M303 276.9h0M303.6 287.7h0M304.3 298.5h0M305 309.3h0M307.1 195.2h0M307.8 206h0M308.5 216.8h0M309.2 227.6h0M309.9 238.5h0M310.6 249.3h0M311.3 260.1h0M312 270.9h0M312.7 281.7h0M313.4 292.5h0M314 303.3h0M314.7 314.1h0M316.1 189.2h0M316.8 200h0M317.5 210.8h0M318.2 221.6h0M318.9 232.4h0M319.6 243.3h0M320.3 254.1h0M321 264.9h0M321.7 275.7h0M322.4 286.5h0M323.1 297.3h0M323.8 308.1h0M325.8 194h0M326.5 204.8h0M327.2 215.6h0M327.9 226.4h0M328.6 237.3h0M329.3 248.1h0M330 258.9h0M330.7 269.7h0M331.4 280.5h0M332.1 291.3h0M332.8 302.1h0M333.5 312.9h0M335.5 198.8h0M336.2 209.6h0M336.9 220.4h0M337.6 231.2h0M338.3 242.1h0M339 252.9h0M339.7 263.7h0M340.4 274.5h0M341.1 285.3h0M341.8 296.1h0M342.5 306.9h0M344.6 192.8h0M345.2 203.6h0M345.9 214.4h0M346.6 225.2h0M347.3 236.1h0M348 246.9h0M348.7 257.7h0M349.4 268.5h0M350.1 279.3h0M350.8 290.1h0M351.5 300.9h0M352.2 311.7h0M354.3 197.6h0M355 208.4h0M355.6 219.2h0M356.3 230h0M357 240.9h0M357.7 251.7h0M358.4 262.5h0M359.1 273.3h0M359.8 284.1h0M360.5 294.9h0M361.2 305.7h0M361.9 316.5h0M363.3 191.6h0M364 202.4h0M364.7 213.2h0M365.4 224h0M366 234.9h0M366.7 245.7h0M367.4 256.5h0M368.1 267.3h0M368.8 278.1h0M369.5 288.9h0M370.2 299.7h0M370.9 310.5h0M373 196.4h0M373.7 207.2h0M374.4 218h0M375.1 228.8h0M375.8 239.7h0M376.4 250.5h0M377.1 261.3h0M377.8 272.1h0M378.5 282.9h0M379.2 293.7h0M379.9 304.5h0M380.6 315.3h0M382 190.4h0M382.7 201.2h0M383.4 212h0M384.1 222.8h0M384.8 233.7h0M385.5 244.5h0M386.2 255.3h0M386.8 266.1h0M387.5 276.9h0M388.2 287.7h0M388.9 298.5h0M389.6 309.3h0M391.7 195.2h0M392.4 206h0M393.1 216.8h0M393.8 227.6h0M394.5 238.5h0M395.2 249.3h0M395.9 260.1h0M396.6 270.9h0M397.2 281.7h0M397.9 292.5h0M398.6 303.3h0M399.3 314.1h0M400.7 189.2h0M401.4 200h0M402.1 210.8h0M402.8 221.6h0M403.5 232.5h0M404.2 243.3h0M404.9 254.1h0M405.6 264.9h0M406.3 275.7h0M407 286.5h0M407.6 297.3h0M408.3 308.1h0M410.4 194h0M411.1 204.8h0M411.8 215.6h0M412.5 226.4h0M413.2 237.3h0M413.9 248.1h0M414.6 258.9h0M415.3 269.7h0M416 280.5h0M416.7 291.3h0M417.4 302.1h0M418 312.9h0M420.1 198.8h0M420.8 209.6h0M421.5 220.4h0M422.2 231.2h0M422.9 242.1h0M423.6 252.9h0M424.3 263.7h0M425 274.5h0M425.7 285.3h0M426.4 296.1h0M427.1 306.9h0M429.1 192.8h0M429.8 203.6h0M430.5 214.4h0M431.2 225.2h0M431.9 236.1h0M432.6 246.9h0M433.3 257.7h0M434 268.5h0M434.7 279.3h0M435.4 290.1h0M436.1 300.9h0M436.8 311.7h0M438.9 197.6h0M439.5 208.4h0M440.2 219.2h0M440.9 230h0M441.6 240.9h0M442.3 251.7h0M443 262.5h0M443.7 273.3h0M444.4 284.1h0M445.1 294.9h0M445.8 305.7h0M446.5 316.5h0M447.9 191.6h0M448.6 202.4h0M449.3 213.2h0M449.9 224h0M450.6 234.9h0M451.3 245.7h0M452 256.5h0M452.7 267.3h0M453.4 278.1h0M454.1 288.9h0M454.8 299.7h0M455.5 310.5h0M457.6 196.4h0M458.3 207.2h0M459 218h0M459.7 228.8h0M460.3 239.7h0M461 250.5h0M461.7 261.3h0M462.4 272.1h0M463.1 282.9h0M463.8 293.7h0M464.5 304.5h0M465.2 315.3h0M466.6 190.4h0M467.3 201.2h0M468 212h0M468.7 222.8h0M469.4 233.7h0M470.1 244.5h0" stroke="#b4ae40" stroke-width="3.0" stroke-linecap="round" fill="none"/>
<path d="M260.7 198.8h0M260 209.6h0M259.3 220.4h0M258.6 231.2h0M257.9 242.1h0M257.2 252.9h0M256.5 263.7h0M255.8 274.5h0M255.1 285.3h0M254.4 296.1h0M253.7 306.9h0M270.4 194h0M269.7 204.8h0M269 215.6h0M268.3 226.4h0M267.6 237.3h0M266.9 248.1h0M266.2 258.9h0M265.5 269.7h0M264.8 280.5h0M264.1 291.3h0M263.4 302.1h0M262.7 312.9h0M280.1 189.2h0M279.4 200h0M278.7 210.8h0M278 221.6h0M277.3 232.4h0M276.6 243.3h0M275.9 254.1h0M275.2 264.9h0M274.5 275.7h0M273.8 286.5h0M273.1 297.3h0M272.4 308.1h0M289.1 195.2h0M288.4 206h0M287.7 216.8h0M287 227.6h0M286.3 238.5h0M285.6 249.3h0M284.9 260.1h0M284.2 270.9h0M283.5 281.7h0M282.8 292.5h0M282.2 303.3h0M281.5 314.1h0M298.8 190.4h0M298.1 201.2h0M297.4 212h0M296.7 222.8h0M296 233.7h0M295.3 244.5h0M294.6 255.3h0M293.9 266.1h0M293.2 276.9h0M292.6 287.7h0M291.9 298.5h0M291.2 309.3h0M307.8 196.4h0M307.1 207.2h0M306.4 218h0M305.7 228.8h0M305 239.7h0M304.3 250.5h0M303.6 261.3h0M303 272.1h0M302.3 282.9h0M301.6 293.7h0M300.9 304.5h0M300.2 315.3h0M317.5 191.6h0M316.8 202.4h0M316.1 213.2h0M315.4 224h0M314.7 234.9h0M314 245.7h0M313.4 256.5h0M312.7 267.3h0M312 278.1h0M311.3 288.9h0M310.6 299.7h0M309.9 310.5h0M326.5 197.6h0M325.8 208.4h0M325.1 219.2h0M324.4 230h0M323.8 240.9h0M323.1 251.7h0M322.4 262.5h0M321.7 273.3h0M321 284.1h0M320.3 294.9h0M319.6 305.7h0M318.9 316.5h0M336.2 192.8h0M335.5 203.6h0M334.8 214.4h0M334.2 225.2h0M333.5 236.1h0M332.8 246.9h0M332.1 257.7h0M331.4 268.5h0M330.7 279.3h0M330 290.1h0M329.3 300.9h0M328.6 311.7h0M345.2 198.8h0M344.6 209.6h0M343.9 220.4h0M343.2 231.2h0M342.5 242.1h0M341.8 252.9h0M341.1 263.7h0M340.4 274.5h0M339.7 285.3h0M339 296.1h0M338.3 306.9h0M355 194h0M354.3 204.8h0M353.6 215.6h0M352.9 226.4h0M352.2 237.3h0M351.5 248.1h0M350.8 258.9h0M350.1 269.7h0M349.4 280.5h0M348.7 291.3h0M348 302.1h0M347.3 312.9h0M364.7 189.2h0M364 200h0M363.3 210.8h0M362.6 221.6h0M361.9 232.4h0M361.2 243.3h0M360.5 254.1h0M359.8 264.9h0M359.1 275.7h0M358.4 286.5h0M357.7 297.3h0M357 308.1h0M373.7 195.2h0M373 206h0M372.3 216.8h0M371.6 227.6h0M370.9 238.5h0M370.2 249.3h0M369.5 260.1h0M368.8 270.9h0M368.1 281.7h0M367.4 292.5h0M366.7 303.3h0M366 314.1h0M383.4 190.4h0M382.7 201.2h0M382 212h0M381.3 222.8h0M380.6 233.6h0M379.9 244.5h0M379.2 255.3h0M378.5 266.1h0M377.8 276.9h0M377.1 287.7h0M376.4 298.5h0M375.8 309.3h0M392.4 196.4h0M391.7 207.2h0M391 218h0M390.3 228.8h0M389.6 239.7h0M388.9 250.5h0M388.2 261.3h0M387.5 272.1h0M386.8 282.9h0M386.2 293.7h0M385.5 304.5h0M384.8 315.3h0M402.1 191.6h0M401.4 202.4h0M400.7 213.2h0M400 224h0M399.3 234.9h0M398.6 245.7h0M397.9 256.5h0M397.2 267.3h0M396.6 278.1h0M395.9 288.9h0M395.2 299.7h0M394.5 310.5h0M411.1 197.6h0M410.4 208.4h0M409.7 219.2h0M409 230h0M408.3 240.9h0M407.6 251.7h0M407 262.5h0M406.3 273.3h0M405.6 284.1h0M404.9 294.9h0M404.2 305.7h0M403.5 316.5h0M420.8 192.8h0M420.1 203.6h0M419.4 214.4h0M418.7 225.2h0M418 236.1h0M417.4 246.9h0M416.7 257.7h0M416 268.5h0M415.3 279.3h0M414.6 290.1h0M413.9 300.9h0M413.2 311.7h0M429.8 198.8h0M429.1 209.6h0M428.4 220.4h0M427.8 231.2h0M427.1 242.1h0M426.4 252.9h0M425.7 263.7h0M425 274.5h0M424.3 285.3h0M423.6 296.1h0M422.9 306.9h0M439.5 194h0M438.8 204.8h0M438.2 215.6h0M437.5 226.4h0M436.8 237.3h0M436.1 248.1h0M435.4 258.9h0M434.7 269.7h0M434 280.5h0M433.3 291.3h0M432.6 302.1h0M431.9 312.9h0M449.2 189.2h0M448.6 200h0M447.9 210.8h0M447.2 221.6h0M446.5 232.4h0M445.8 243.3h0M445.1 254.1h0M444.4 264.9h0M443.7 275.7h0M443 286.5h0M442.3 297.3h0M441.6 308.1h0M458.3 195.2h0M457.6 206h0M456.9 216.8h0M456.2 227.6h0M455.5 238.5h0M454.8 249.3h0M454.1 260.1h0M453.4 270.9h0M452.7 281.7h0M452 292.5h0M451.3 303.3h0M450.6 314.1h0M468 190.4h0M467.3 201.2h0M466.6 212h0M465.9 222.8h0M465.2 233.6h0M464.5 244.5h0M463.8 255.3h0M463.1 266.1h0M462.4 276.9h0M461.7 287.7h0M461 298.5h0M460.3 309.3h0M470.1 304.5h0M469.4 315.3h0M253.7 290.9h0M254.4 301.7h0M255.1 312.5h0M257.2 198.4h0M257.9 209.2h0M258.6 220h0M259.3 230.8h0M260 241.7h0M260.7 252.5h0M261.4 263.3h0M262 274.1h0M262.7 284.9h0M263.4 295.7h0M264.1 306.5h0M266.2 192.4h0M266.9 203.2h0M267.6 214h0M268.3 224.8h0M269 235.7h0M269.7 246.5h0M270.4 257.3h0M271.1 268.1h0M271.8 278.9h0M272.4 289.7h0M273.1 300.5h0M273.8 311.3h0M275.9 197.2h0M276.6 208h0M277.3 218.8h0M278 229.6h0M278.7 240.5h0M279.4 251.3h0M280.1 262.1h0M280.8 272.9h0M281.5 283.7h0M282.2 294.5h0M282.8 305.3h0M283.5 316.1h0M284.9 191.2h0M285.6 202h0M286.3 212.8h0M287 223.6h0M287.7 234.5h0M288.4 245.3h0M289.1 256.1h0M289.8 266.9h0M290.5 277.7h0M291.2 288.5h0M291.9 299.3h0M292.6 310.1h0M294.6 196h0M295.3 206.8h0M296 217.6h0M296.7 228.4h0M297.4 239.3h0M298.1 250.1h0M298.8 260.9h0M299.5 271.7h0M300.2 282.5h0M300.9 293.3h0M301.6 304.1h0M302.3 314.9h0M303.6 190h0M304.3 200.8h0M305 211.6h0M305.7 222.4h0M306.4 233.3h0M307.1 244.1h0M307.8 254.9h0M308.5 265.7h0M309.2 276.5h0M309.9 287.3h0M310.6 298.1h0M311.3 308.9h0M313.4 194.8h0M314 205.6h0M314.7 216.4h0M315.4 227.2h0M316.1 238.1h0M316.8 248.9h0M317.5 259.7h0M318.2 270.5h0M318.9 281.3h0M319.6 292.1h0M320.3 302.9h0M321 313.7h0M322.4 188.8h0M323.1 199.6h0M323.8 210.4h0M324.4 221.2h0M325.1 232h0M325.8 242.9h0M326.5 253.7h0M327.2 264.5h0M327.9 275.3h0M328.6 286.1h0M329.3 296.9h0M330 307.7h0M332.1 193.6h0M332.8 204.4h0M333.5 215.2h0M334.2 226h0M334.8 236.9h0M335.5 247.7h0M336.2 258.5h0M336.9 269.3h0M337.6 280.1h0M338.3 290.9h0M339 301.7h0M339.7 312.5h0M341.8 198.4h0M342.5 209.2h0M343.2 220h0M343.9 230.8h0M344.6 241.7h0M345.2 252.5h0M345.9 263.3h0M346.6 274.1h0M347.3 284.9h0M348 295.7h0M348.7 306.5h0M350.8 192.4h0M351.5 203.2h0M352.2 214h0M352.9 224.8h0M353.6 235.7h0M354.3 246.5h0M355 257.3h0M355.6 268.1h0M356.3 278.9h0M357 289.7h0M357.7 300.5h0M358.4 311.3h0M360.5 197.2h0M361.2 208h0M361.9 218.8h0M362.6 229.6h0M363.3 240.5h0M364 251.3h0M364.7 262.1h0M365.4 272.9h0M366 283.7h0M366.7 294.5h0M367.4 305.3h0M368.1 316.1h0M369.5 191.2h0M370.2 202h0M370.9 212.8h0M371.6 223.6h0M372.3 234.5h0M373 245.3h0M373.7 256.1h0M374.4 266.9h0M375.1 277.7h0M375.8 288.5h0M376.4 299.3h0M377.1 310.1h0M379.2 196h0M379.9 206.8h0M380.6 217.6h0M381.3 228.4h0M382 239.3h0M382.7 250.1h0M383.4 260.9h0M384.1 271.7h0M384.8 282.5h0M385.5 293.3h0M386.2 304.1h0M386.8 314.9h0M388.2 190h0M388.9 200.8h0M389.6 211.6h0M390.3 222.4h0M391 233.3h0M391.7 244.1h0M392.4 254.9h0M393.1 265.7h0M393.8 276.5h0M394.5 287.3h0M395.2 298.1h0M395.9 308.9h0M397.9 194.8h0M398.6 205.6h0M399.3 216.4h0M400 227.2h0M400.7 238.1h0M401.4 248.9h0M402.1 259.7h0M402.8 270.5h0M403.5 281.3h0M404.2 292.1h0M404.9 302.9h0M405.6 313.7h0M407 188.8h0M407.6 199.6h0M408.3 210.4h0M409 221.2h0M409.7 232h0M410.4 242.9h0M411.1 253.7h0M411.8 264.5h0M412.5 275.3h0M413.2 286.1h0M413.9 296.9h0M414.6 307.7h0M416.7 193.6h0M417.4 204.4h0M418.1 215.2h0M418.7 226h0M419.4 236.9h0M420.1 247.7h0M420.8 258.5h0M421.5 269.3h0M422.2 280.1h0M422.9 290.9h0M423.6 301.7h0M424.3 312.5h0M426.4 198.4h0M427.1 209.2h0M427.8 220h0M428.5 230.8h0M429.1 241.7h0M429.8 252.5h0M430.5 263.3h0M431.2 274.1h0M431.9 284.9h0M432.6 295.7h0M433.3 306.5h0M435.4 192.4h0M436.1 203.2h0M436.8 214h0M437.5 224.8h0M438.2 235.7h0M438.9 246.5h0M439.5 257.3h0M440.2 268.1h0M440.9 278.9h0M441.6 289.7h0M442.3 300.5h0M443 311.3h0M445.1 197.2h0M445.8 208h0M446.5 218.8h0M447.2 229.6h0M447.9 240.5h0M448.6 251.3h0M449.3 262.1h0M449.9 272.9h0M450.6 283.7h0M451.3 294.5h0M452 305.3h0M452.7 316.1h0M454.1 191.2h0M454.8 202h0M455.5 212.8h0M456.2 223.6h0M456.9 234.5h0M457.6 245.3h0M458.3 256.1h0M459 266.9h0M459.7 277.7h0M460.3 288.5h0M461 299.3h0M461.7 310.1h0M463.8 196h0M464.5 206.8h0M465.2 217.6h0M465.9 228.4h0M466.6 239.3h0M467.3 250.1h0M468 260.9h0M468.7 271.7h0M469.4 282.5h0M470.1 293.3h0" stroke="#e8a878" stroke-width="2.4" stroke-linecap="round" fill="none"/>
<path d="M257.9 193.2h0M257.2 204h0M256.5 214.8h0M255.8 225.6h0M255.1 236.5h0M254.4 247.3h0M253.7 258.1h0M266.9 199.2h0M266.2 210h0M265.5 220.8h0M264.8 231.6h0M264.1 242.5h0M263.4 253.3h0M262.7 264.1h0M262 274.9h0M261.4 285.7h0M260.7 296.5h0M260 307.3h0M276.6 194.4h0M275.9 205.2h0M275.2 216h0M274.5 226.8h0M273.8 237.7h0M273.1 248.5h0M272.4 259.3h0M271.8 270.1h0M271.1 280.9h0M270.4 291.7h0M269.7 302.5h0M269 313.3h0M286.3 189.6h0M285.6 200.4h0M284.9 211.2h0M284.2 222h0M283.5 232.8h0M282.8 243.7h0M282.2 254.5h0M281.5 265.3h0M280.8 276.1h0M280.1 286.9h0M279.4 297.7h0M278.7 308.5h0M295.3 195.6h0M294.6 206.4h0M293.9 217.2h0M293.2 228h0M292.6 238.9h0M291.9 249.7h0M291.2 260.5h0M290.5 271.3h0M289.8 282.1h0M289.1 292.9h0M288.4 303.7h0M287.7 314.5h0M305 190.8h0M304.3 201.6h0M303.6 212.4h0M303 223.2h0M302.3 234.1h0M301.6 244.9h0M300.9 255.7h0M300.2 266.5h0M299.5 277.3h0M298.8 288.1h0M298.1 298.9h0M297.4 309.7h0M314 196.8h0M313.4 207.6h0M312.7 218.4h0M312 229.2h0M311.3 240.1h0M310.6 250.9h0M309.9 261.7h0M309.2 272.5h0M308.5 283.3h0M307.8 294.1h0M307.1 304.9h0M306.4 315.7h0M323.8 192h0M323.1 202.8h0M322.4 213.6h0M321.7 224.4h0M321 235.3h0M320.3 246.1h0M319.6 256.9h0M318.9 267.7h0M318.2 278.5h0M317.5 289.3h0M316.8 300.1h0M316.1 310.9h0M332.8 198h0M332.1 208.8h0M331.4 219.6h0M330.7 230.4h0M330 241.3h0M329.3 252.1h0M328.6 262.9h0M327.9 273.7h0M327.2 284.5h0M326.5 295.3h0M325.8 306.1h0M342.5 193.2h0M341.8 204h0M341.1 214.8h0M340.4 225.6h0M339.7 236.5h0M339 247.3h0M338.3 258.1h0M337.6 268.9h0M336.9 279.7h0M336.2 290.5h0M335.5 301.3h0M334.8 312.1h0M351.5 199.2h0M350.8 210h0M350.1 220.8h0M349.4 231.6h0M348.7 242.5h0M348 253.3h0M347.3 264.1h0M346.6 274.9h0M345.9 285.7h0M345.2 296.5h0M344.6 307.3h0M361.2 194.4h0M360.5 205.2h0M359.8 216h0M359.1 226.8h0M358.4 237.7h0M357.7 248.5h0M357 259.3h0M356.3 270.1h0M355.6 280.9h0M355 291.7h0M354.3 302.5h0M353.6 313.3h0M370.9 189.6h0M370.2 200.4h0M369.5 211.2h0M368.8 222h0M368.1 232.8h0M367.4 243.7h0M366.7 254.5h0M366 265.3h0M365.4 276.1h0M364.7 286.9h0M364 297.7h0M363.3 308.5h0M379.9 195.6h0M379.2 206.4h0M378.5 217.2h0M377.8 228h0M377.1 238.9h0M376.4 249.7h0M375.8 260.5h0M375.1 271.3h0M374.4 282.1h0M373.7 292.9h0M373 303.7h0M372.3 314.5h0M389.6 190.8h0M388.9 201.6h0M388.2 212.4h0M387.5 223.2h0M386.8 234h0M386.2 244.9h0M385.5 255.7h0M384.8 266.5h0M384.1 277.3h0M383.4 288.1h0M382.7 298.9h0M382 309.7h0M398.6 196.8h0M397.9 207.6h0M397.2 218.4h0M396.6 229.2h0M395.9 240.1h0M395.2 250.9h0M394.5 261.7h0M393.8 272.5h0M393.1 283.3h0M392.4 294.1h0M391.7 304.9h0M391 315.7h0M408.3 192h0M407.6 202.8h0M407 213.6h0M406.3 224.4h0M405.6 235.3h0M404.9 246.1h0M404.2 256.9h0M403.5 267.7h0M402.8 278.5h0M402.1 289.3h0M401.4 300.1h0M400.7 310.9h0M417.4 198h0M416.7 208.8h0M416 219.6h0M415.3 230.4h0M414.6 241.3h0M413.9 252.1h0M413.2 262.9h0M412.5 273.7h0M411.8 284.5h0M411.1 295.3h0M410.4 306.1h0M427.1 193.2h0M426.4 204h0M425.7 214.8h0M425 225.6h0M424.3 236.5h0M423.6 247.3h0M422.9 258.1h0M422.2 268.9h0M421.5 279.7h0M420.8 290.5h0M420.1 301.3h0M419.4 312.1h0M436.1 199.2h0M435.4 210h0M434.7 220.8h0M434 231.6h0M433.3 242.5h0M432.6 253.3h0M431.9 264.1h0M431.2 274.9h0M430.5 285.7h0M429.8 296.5h0M429.1 307.3h0M445.8 194.4h0M445.1 205.2h0M444.4 216h0M443.7 226.8h0M443 237.7h0M442.3 248.5h0M441.6 259.3h0M440.9 270.1h0M440.2 280.9h0M439.5 291.7h0M438.8 302.5h0M438.2 313.3h0M455.5 189.6h0M454.8 200.4h0M454.1 211.2h0M453.4 222h0M452.7 232.8h0M452 243.7h0M451.3 254.5h0M450.6 265.3h0M449.9 276.1h0M449.2 286.9h0M448.6 297.7h0M447.9 308.5h0M464.5 195.6h0M463.8 206.4h0M463.1 217.2h0M462.4 228h0M461.7 238.9h0M461 249.7h0M460.3 260.5h0M459.7 271.3h0M459 282.1h0M458.3 292.9h0M457.6 303.7h0M456.9 314.5h0M470.1 255.7h0M469.4 266.5h0M468.7 277.3h0M468 288.1h0M467.3 298.9h0M466.6 309.7h0M253.7 193.2h0M254.4 204h0M255.1 214.8h0M255.8 225.6h0M256.5 236.5h0M257.2 247.3h0M257.9 258.1h0M258.6 268.9h0M259.3 279.7h0M260 290.5h0M260.7 301.3h0M261.4 312.1h0M263.4 198h0M264.1 208.8h0M264.8 219.6h0M265.5 230.4h0M266.2 241.3h0M266.9 252.1h0M267.6 262.9h0M268.3 273.7h0M269 284.5h0M269.7 295.3h0M270.4 306.1h0M272.4 192h0M273.1 202.8h0M273.8 213.6h0M274.5 224.4h0M275.2 235.3h0M275.9 246.1h0M276.6 256.9h0M277.3 267.7h0M278 278.5h0M278.7 289.3h0M279.4 300.1h0M280.1 310.9h0M282.2 196.8h0M282.8 207.6h0M283.5 218.4h0M284.2 229.2h0M284.9 240.1h0M285.6 250.9h0M286.3 261.7h0M287 272.5h0M287.7 283.3h0M288.4 294.1h0M289.1 304.9h0M289.8 315.7h0M291.2 190.8h0M291.9 201.6h0M292.6 212.4h0M293.2 223.2h0M293.9 234.1h0M294.6 244.9h0M295.3 255.7h0M296 266.5h0M296.7 277.3h0M297.4 288.1h0M298.1 298.9h0M298.8 309.7h0M300.9 195.6h0M301.6 206.4h0M302.3 217.2h0M303 228h0M303.6 238.9h0M304.3 249.7h0M305 260.5h0M305.7 271.3h0M306.4 282.1h0M307.1 292.9h0M307.8 303.7h0M308.5 314.5h0M309.9 189.6h0M310.6 200.4h0M311.3 211.2h0M312 222h0M312.7 232.8h0M313.4 243.7h0M314 254.5h0M314.7 265.3h0M315.4 276.1h0M316.1 286.9h0M316.8 297.7h0M317.5 308.5h0M319.6 194.4h0M320.3 205.2h0M321 216h0M321.7 226.8h0M322.4 237.7h0M323.1 248.5h0M323.8 259.3h0M324.4 270.1h0M325.1 280.9h0M325.8 291.7h0M326.5 302.5h0M327.2 313.3h0M329.3 199.2h0M330 210h0M330.7 220.8h0M331.4 231.6h0M332.1 242.5h0M332.8 253.3h0M333.5 264.1h0M334.2 274.9h0M334.8 285.7h0M335.5 296.5h0M336.2 307.3h0M338.3 193.2h0M339 204h0M339.7 214.8h0M340.4 225.6h0M341.1 236.5h0M341.8 247.3h0M342.5 258.1h0M343.2 268.9h0M343.9 279.7h0M344.6 290.5h0M345.2 301.3h0M345.9 312.1h0M348 198h0M348.7 208.8h0M349.4 219.6h0M350.1 230.4h0M350.8 241.3h0M351.5 252.1h0M352.2 262.9h0M352.9 273.7h0M353.6 284.5h0M354.3 295.3h0M355 306.1h0M357 192h0M357.7 202.8h0M358.4 213.6h0M359.1 224.4h0M359.8 235.3h0M360.5 246.1h0M361.2 256.9h0M361.9 267.7h0M362.6 278.5h0M363.3 289.3h0M364 300.1h0M364.7 310.9h0M366.7 196.8h0M367.4 207.6h0M368.1 218.4h0M368.8 229.2h0M369.5 240.1h0M370.2 250.9h0M370.9 261.7h0M371.6 272.5h0M372.3 283.3h0M373 294.1h0M373.7 304.9h0M374.4 315.7h0M375.8 190.8h0M376.4 201.6h0M377.1 212.4h0M377.8 223.2h0M378.5 234.1h0M379.2 244.9h0M379.9 255.7h0M380.6 266.5h0M381.3 277.3h0M382 288.1h0M382.7 298.9h0M383.4 309.7h0M385.5 195.6h0M386.2 206.4h0M386.8 217.2h0M387.5 228h0M388.2 238.9h0M388.9 249.7h0M389.6 260.5h0M390.3 271.3h0M391 282.1h0M391.7 292.9h0M392.4 303.7h0M393.1 314.5h0M394.5 189.6h0M395.2 200.4h0M395.9 211.2h0M396.6 222h0M397.2 232.9h0M397.9 243.7h0M398.6 254.5h0M399.3 265.3h0M400 276.1h0M400.7 286.9h0M401.4 297.7h0M402.1 308.5h0M404.2 194.4h0M404.9 205.2h0M405.6 216h0M406.3 226.8h0M407 237.7h0M407.6 248.5h0M408.3 259.3h0M409 270.1h0M409.7 280.9h0M410.4 291.7h0M411.1 302.5h0M411.8 313.3h0M413.9 199.2h0M414.6 210h0M415.3 220.8h0M416 231.6h0M416.7 242.5h0M417.4 253.3h0M418 264.1h0M418.7 274.9h0M419.4 285.7h0M420.1 296.5h0M420.8 307.3h0M422.9 193.2h0M423.6 204h0M424.3 214.8h0M425 225.6h0M425.7 236.5h0M426.4 247.3h0M427.1 258.1h0M427.8 268.9h0M428.4 279.7h0M429.1 290.5h0M429.8 301.3h0M430.5 312.1h0M432.6 198h0M433.3 208.8h0M434 219.6h0M434.7 230.4h0M435.4 241.3h0M436.1 252.1h0M436.8 262.9h0M437.5 273.7h0M438.2 284.5h0M438.8 295.3h0M439.5 306.1h0M441.6 192h0M442.3 202.8h0M443 213.6h0M443.7 224.4h0M444.4 235.3h0M445.1 246.1h0M445.8 256.9h0M446.5 267.7h0M447.2 278.5h0M447.9 289.3h0M448.6 300.1h0M449.2 310.9h0M451.3 196.8h0M452 207.6h0M452.7 218.4h0M453.4 229.2h0M454.1 240.1h0M454.8 250.9h0M455.5 261.7h0M456.2 272.5h0M456.9 283.3h0M457.6 294.1h0M458.3 304.9h0M459 315.7h0M460.3 190.8h0M461 201.6h0M461.7 212.4h0M462.4 223.2h0M463.1 234.1h0M463.8 244.9h0M464.5 255.7h0M465.2 266.5h0M465.9 277.3h0M466.6 288.1h0M467.3 298.9h0M468 309.7h0M470.1 195.6h0" stroke="#9ad044" stroke-width="1.6" stroke-linecap="round" fill="none"/>
<path d="M254.4 198.4h0M253.7 209.2h0M264.1 193.6h0M263.4 204.4h0M262.7 215.2h0M262 226h0M261.4 236.9h0M260.7 247.7h0M260 258.5h0M259.3 269.3h0M258.6 280.1h0M257.9 290.9h0M257.2 301.7h0M256.5 312.5h0M273.8 188.8h0M273.1 199.6h0M272.4 210.4h0M271.8 221.2h0M271.1 232h0M270.4 242.9h0M269.7 253.7h0M269 264.5h0M268.3 275.3h0M267.6 286.1h0M266.9 296.9h0M266.2 307.7h0M282.8 194.8h0M282.2 205.6h0M281.5 216.4h0M280.8 227.2h0M280.1 238.1h0M279.4 248.9h0M278.7 259.7h0M278 270.5h0M277.3 281.3h0M276.6 292.1h0M275.9 302.9h0M275.2 313.7h0M292.6 190h0M291.9 200.8h0M291.2 211.6h0M290.5 222.4h0M289.8 233.3h0M289.1 244.1h0M288.4 254.9h0M287.7 265.7h0M287 276.5h0M286.3 287.3h0M285.6 298.1h0M284.9 308.9h0M301.6 196h0M300.9 206.8h0M300.2 217.6h0M299.5 228.4h0M298.8 239.3h0M298.1 250.1h0M297.4 260.9h0M296.7 271.7h0M296 282.5h0M295.3 293.3h0M294.6 304.1h0M293.9 314.9h0M311.3 191.2h0M310.6 202h0M309.9 212.8h0M309.2 223.6h0M308.5 234.5h0M307.8 245.3h0M307.1 256.1h0M306.4 266.9h0M305.7 277.7h0M305 288.5h0M304.3 299.3h0M303.6 310.1h0M320.3 197.2h0M319.6 208h0M318.9 218.8h0M318.2 229.6h0M317.5 240.5h0M316.8 251.3h0M316.1 262.1h0M315.4 272.9h0M314.7 283.7h0M314 294.5h0M313.4 305.3h0M312.7 316.1h0M330 192.4h0M329.3 203.2h0M328.6 214h0M327.9 224.8h0M327.2 235.7h0M326.5 246.5h0M325.8 257.3h0M325.1 268.1h0M324.4 278.9h0M323.8 289.7h0M323.1 300.5h0M322.4 311.3h0M339 198.4h0M338.3 209.2h0M337.6 220h0M336.9 230.8h0M336.2 241.7h0M335.5 252.5h0M334.8 263.3h0M334.2 274.1h0M333.5 284.9h0M332.8 295.7h0M332.1 306.5h0M348.7 193.6h0M348 204.4h0M347.3 215.2h0M346.6 226h0M345.9 236.9h0M345.2 247.7h0M344.6 258.5h0M343.9 269.3h0M343.2 280.1h0M342.5 290.9h0M341.8 301.7h0M341.1 312.5h0M358.4 188.8h0M357.7 199.6h0M357 210.4h0M356.3 221.2h0M355.6 232h0M355 242.9h0M354.3 253.7h0M353.6 264.5h0M352.9 275.3h0M352.2 286.1h0M351.5 296.9h0M350.8 307.7h0M367.4 194.8h0M366.7 205.6h0M366 216.4h0M365.4 227.2h0M364.7 238.1h0M364 248.9h0M363.3 259.7h0M362.6 270.5h0M361.9 281.3h0M361.2 292.1h0M360.5 302.9h0M359.8 313.7h0M377.1 190h0M376.4 200.8h0M375.8 211.6h0M375.1 222.4h0M374.4 233.2h0M373.7 244.1h0M373 254.9h0M372.3 265.7h0M371.6 276.5h0M370.9 287.3h0M370.2 298.1h0M369.5 308.9h0M386.2 196h0M385.5 206.8h0M384.8 217.6h0M384.1 228.4h0M383.4 239.3h0M382.7 250.1h0M382 260.9h0M381.3 271.7h0M380.6 282.5h0M379.9 293.3h0M379.2 304.1h0M378.5 314.9h0M395.9 191.2h0M395.2 202h0M394.5 212.8h0M393.8 223.6h0M393.1 234.5h0M392.4 245.3h0M391.7 256.1h0M391 266.9h0M390.3 277.7h0M389.6 288.5h0M388.9 299.3h0M388.2 310.1h0M404.9 197.2h0M404.2 208h0M403.5 218.8h0M402.8 229.6h0M402.1 240.5h0M401.4 251.3h0M400.7 262.1h0M400 272.9h0M399.3 283.7h0M398.6 294.5h0M397.9 305.3h0M397.2 316.1h0M414.6 192.4h0M413.9 203.2h0M413.2 214h0M412.5 224.8h0M411.8 235.7h0M411.1 246.5h0M410.4 257.3h0M409.7 268.1h0M409 278.9h0M408.3 289.7h0M407.6 300.5h0M407 311.3h0M423.6 198.4h0M422.9 209.2h0M422.2 220h0M421.5 230.8h0M420.8 241.7h0M420.1 252.5h0M419.4 263.3h0M418.7 274.1h0M418 284.9h0M417.4 295.7h0M416.7 306.5h0M433.3 193.6h0M432.6 204.4h0M431.9 215.2h0M431.2 226h0M430.5 236.9h0M429.8 247.7h0M429.1 258.5h0M428.4 269.3h0M427.8 280.1h0M427.1 290.9h0M426.4 301.7h0M425.7 312.5h0M443 188.8h0M442.3 199.6h0M441.6 210.4h0M440.9 221.2h0M440.2 232h0M439.5 242.9h0M438.8 253.7h0M438.2 264.5h0M437.5 275.3h0M436.8 286.1h0M436.1 296.9h0M435.4 307.7h0M452 194.8h0M451.3 205.6h0M450.6 216.4h0M449.9 227.2h0M449.2 238.1h0M448.6 248.9h0M447.9 259.7h0M447.2 270.5h0M446.5 281.3h0M445.8 292.1h0M445.1 302.9h0M444.4 313.7h0M461.7 190h0M461 200.8h0M460.3 211.6h0M459.6 222.4h0M459 233.2h0M458.3 244.1h0M457.6 254.9h0M456.9 265.7h0M456.2 276.5h0M455.5 287.3h0M454.8 298.1h0M454.1 308.9h0M470 206.8h0M469.4 217.6h0M468.7 228.4h0M468 239.3h0M467.3 250.1h0M466.6 260.9h0M465.9 271.7h0M465.2 282.5h0M464.5 293.3h0M463.8 304.1h0M463.1 314.9h0M253.7 242.1h0M254.4 252.9h0M255.1 263.7h0M255.8 274.5h0M256.5 285.3h0M257.2 296.1h0M257.9 306.9h0M260 192.8h0M260.7 203.6h0M261.4 214.4h0M262 225.2h0M262.7 236.1h0M263.4 246.9h0M264.1 257.7h0M264.8 268.5h0M265.5 279.3h0M266.2 290.1h0M266.9 300.9h0M267.6 311.7h0M269.7 197.6h0M270.4 208.4h0M271.1 219.2h0M271.8 230h0M272.4 240.9h0M273.1 251.7h0M273.8 262.5h0M274.5 273.3h0M275.2 284.1h0M275.9 294.9h0M276.6 305.7h0M277.3 316.5h0M278.7 191.6h0M279.4 202.4h0M280.1 213.2h0M280.8 224h0M281.5 234.9h0M282.2 245.7h0M282.8 256.5h0M283.5 267.3h0M284.2 278.1h0M284.9 288.9h0M285.6 299.7h0M286.3 310.5h0M288.4 196.4h0M289.1 207.2h0M289.8 218h0M290.5 228.8h0M291.2 239.7h0M291.9 250.5h0M292.6 261.3h0M293.2 272.1h0M293.9 282.9h0M294.6 293.7h0M295.3 304.5h0M296 315.3h0M297.4 190.4h0M298.1 201.2h0M298.8 212h0M299.5 222.8h0M300.2 233.7h0M300.9 244.5h0M301.6 255.3h0M302.3 266.1h0M303 276.9h0M303.6 287.7h0M304.3 298.5h0M305 309.3h0M307.1 195.2h0M307.8 206h0M308.5 216.8h0M309.2 227.6h0M309.9 238.5h0M310.6 249.3h0M311.3 260.1h0M312 270.9h0M312.7 281.7h0M313.4 292.5h0M314 303.3h0M314.7 314.1h0M316.1 189.2h0M316.8 200h0M317.5 210.8h0M318.2 221.6h0M318.9 232.4h0M319.6 243.3h0M320.3 254.1h0M321 264.9h0M321.7 275.7h0M322.4 286.5h0M323.1 297.3h0M323.8 308.1h0M325.8 194h0M326.5 204.8h0M327.2 215.6h0M327.9 226.4h0M328.6 237.3h0M329.3 248.1h0M330 258.9h0M330.7 269.7h0M331.4 280.5h0M332.1 291.3h0M332.8 302.1h0M333.5 312.9h0M335.5 198.8h0M336.2 209.6h0M336.9 220.4h0M337.6 231.2h0M338.3 242.1h0M339 252.9h0M339.7 263.7h0M340.4 274.5h0M341.1 285.3h0M341.8 296.1h0M342.5 306.9h0M344.6 192.8h0M345.2 203.6h0M345.9 214.4h0M346.6 225.2h0M347.3 236.1h0M348 246.9h0M348.7 257.7h0M349.4 268.5h0M350.1 279.3h0M350.8 290.1h0M351.5 300.9h0M352.2 311.7h0M354.3 197.6h0M355 208.4h0M355.6 219.2h0M356.3 230h0M357 240.9h0M357.7 251.7h0M358.4 262.5h0M359.1 273.3h0M359.8 284.1h0M360.5 294.9h0M361.2 305.7h0M361.9 316.5h0M363.3 191.6h0M364 202.4h0M364.7 213.2h0M365.4 224h0M366 234.9h0M366.7 245.7h0M367.4 256.5h0M368.1 267.3h0M368.8 278.1h0M369.5 288.9h0M370.2 299.7h0M370.9 310.5h0M373 196.4h0M373.7 207.2h0M374.4 218h0M375.1 228.8h0M375.8 239.7h0M376.4 250.5h0M377.1 261.3h0M377.8 272.1h0M378.5 282.9h0M379.2 293.7h0M379.9 304.5h0M380.6 315.3h0M382 190.4h0M382.7 201.2h0M383.4 212h0M384.1 222.8h0M384.8 233.7h0M385.5 244.5h0M386.2 255.3h0M386.8 266.1h0M387.5 276.9h0M388.2 287.7h0M388.9 298.5h0M389.6 309.3h0M391.7 195.2h0M392.4 206h0M393.1 216.8h0M393.8 227.6h0M394.5 238.5h0M395.2 249.3h0M395.9 260.1h0M396.6 270.9h0M397.2 281.7h0M397.9 292.5h0M398.6 303.3h0M399.3 314.1h0M400.7 189.2h0M401.4 200h0M402.1 210.8h0M402.8 221.6h0M403.5 232.5h0M404.2 243.3h0M404.9 254.1h0M405.6 264.9h0M406.3 275.7h0M407 286.5h0M407.6 297.3h0M408.3 308.1h0M410.4 194h0M411.1 204.8h0M411.8 215.6h0M412.5 226.4h0M413.2 237.3h0M413.9 248.1h0M414.6 258.9h0M415.3 269.7h0M416 280.5h0M416.7 291.3h0M417.4 302.1h0M418 312.9h0M420.1 198.8h0M420.8 209.6h0M421.5 220.4h0M422.2 231.2h0M422.9 242.1h0M423.6 252.9h0M424.3 263.7h0M425 274.5h0M425.7 285.3h0M426.4 296.1h0M427.1 306.9h0M429.1 192.8h0M429.8 203.6h0M430.5 214.4h0M431.2 225.2h0M431.9 236.1h0M432.6 246.9h0M433.3 257.7h0M434 268.5h0M434.7 279.3h0M435.4 290.1h0M436.1 300.9h0M436.8 311.7h0M438.9 197.6h0M439.5 208.4h0M440.2 219.2h0M440.9 230h0M441.6 240.9h0M442.3 251.7h0M443 262.5h0M443.7 273.3h0M444.4 284.1h0M445.1 294.9h0M445.8 305.7h0M446.5 316.5h0M447.9 191.6h0M448.6 202.4h0M449.3 213.2h0M449.9 224h0M450.6 234.9h0M451.3 245.7h0M452 256.5h0M452.7 267.3h0M453.4 278.1h0M454.1 288.9h0M454.8 299.7h0M455.5 310.5h0M457.6 196.4h0M458.3 207.2h0M459 218h0M459.7 228.8h0M460.3 239.7h0M461 250.5h0M461.7 261.3h0M462.4 272.1h0M463.1 282.9h0M463.8 293.7h0M464.5 304.5h0M465.2 315.3h0M466.6 190.4h0M467.3 201.2h0M468 212h0M468.7 222.8h0M469.4 233.7h0M470.1 244.5h0" stroke="#a8d450" stroke-width="1.3" stroke-linecap="round" fill="none"/>
</g>
<text x="258.2" y="207.6" font-family="Liberation Sans, sans-serif" font-weight="bold" font-size="12" textLength="19.5" lengthAdjust="spacingAndGlyphs" fill="#000">(e)</text>
<rect x="431.6" y="197.8" width="32" height="13" rx="2" fill="#fff" fill-opacity="0.5" stroke="#666" stroke-width="0.8"/>
<text x="447.4" y="207.8" text-anchor="middle" font-family="Liberation Serif, serif" font-size="9.5" fill="#4a5078" textLength="19" lengthAdjust="spacingAndGlyphs">CBM</text>
<path d="M340.7 226.3 L425.3 226.3 L383 298.9 L298.1 298.9 Z" fill="none" stroke="#333" stroke-width="0.8"/>
<g stroke-width="1"><line x1="277.5" y1="302.6" x2="289" y2="302.6" stroke="#f07a30"/><path d="M288.5 301.2 L291.5 302.6 L288.5 304Z" fill="#f07a30"/><line x1="277.5" y1="301.5" x2="283" y2="290" stroke="#58b048"/></g>
<circle cx="276.8" cy="302.6" r="2.9" fill="#1a6bc0"/>
<text x="276.8" y="304.4" text-anchor="middle" font-family="Liberation Serif, serif" font-weight="bold" font-size="5" fill="#0a2040">c</text>
<text x="283.5" y="288.2" font-family="Liberation Serif, serif" font-weight="bold" font-size="7" fill="#111">b</text>
<text x="292" y="305.8" font-family="Liberation Serif, serif" font-weight="bold" font-size="6.5" fill="#111">a</text>
<rect x="258.4" y="318.1" width="84.4" height="83.3" fill="#fff" stroke="#cfcfcf" stroke-width="0.8"/>
<clipPath id="cpel"><rect x="258.8" y="318.5" width="83.6" height="82.5"/></clipPath>
<g clip-path="url(#cpel)">
<ellipse cx="247.9" cy="328" rx="3.8" ry="4" fill="#e2e21c" stroke="#b2b000" stroke-width="0.9"/><ellipse cx="249.1" cy="335.8" rx="3.7" ry="4.3" fill="#e2e21c" stroke="#b2b000" stroke-width="0.9"/><ellipse cx="252.9" cy="333.9" rx="1.8" ry="3.6" fill="#e2e21c" stroke="#b2b000" stroke-width="0.9"/><ellipse cx="262.5" cy="328" rx="3.8" ry="4" fill="#e2e21c" stroke="#b2b000" stroke-width="0.9"/><ellipse cx="263.7" cy="335.8" rx="3.7" ry="4.3" fill="#e2e21c" stroke="#b2b000" stroke-width="0.9"/><ellipse cx="267.5" cy="333.9" rx="1.8" ry="3.6" fill="#e2e21c" stroke="#b2b000" stroke-width="0.9"/><ellipse cx="277.1" cy="328" rx="3.8" ry="4" fill="#e2e21c" stroke="#b2b000" stroke-width="0.9"/><ellipse cx="278.3" cy="335.8" rx="3.7" ry="4.3" fill="#e2e21c" stroke="#b2b000" stroke-width="0.9"/><ellipse cx="282.1" cy="333.9" rx="1.8" ry="3.6" fill="#e2e21c" stroke="#b2b000" stroke-width="0.9"/><ellipse cx="291.7" cy="328" rx="3.8" ry="4" fill="#e2e21c" stroke="#b2b000" stroke-width="0.9"/><ellipse cx="292.9" cy="335.8" rx="3.7" ry="4.3" fill="#e2e21c" stroke="#b2b000" stroke-width="0.9"/><ellipse cx="296.7" cy="333.9" rx="1.8" ry="3.6" fill="#e2e21c" stroke="#b2b000" stroke-width="0.9"/><ellipse cx="306.3" cy="328" rx="3.8" ry="4" fill="#e2e21c" stroke="#b2b000" stroke-width="0.9"/><ellipse cx="307.5" cy="335.8" rx="3.7" ry="4.3" fill="#e2e21c" stroke="#b2b000" stroke-width="0.9"/><ellipse cx="311.3" cy="333.9" rx="1.8" ry="3.6" fill="#e2e21c" stroke="#b2b000" stroke-width="0.9"/><ellipse cx="320.9" cy="328" rx="3.8" ry="4" fill="#e2e21c" stroke="#b2b000" stroke-width="0.9"/><ellipse cx="322.1" cy="335.8" rx="3.7" ry="4.3" fill="#e2e21c" stroke="#b2b000" stroke-width="0.9"/><ellipse cx="325.9" cy="333.9" rx="1.8" ry="3.6" fill="#e2e21c" stroke="#b2b000" stroke-width="0.9"/><ellipse cx="335.5" cy="328" rx="3.8" ry="4" fill="#e2e21c" stroke="#b2b000" stroke-width="0.9"/><ellipse cx="336.7" cy="335.8" rx="3.7" ry="4.3" fill="#e2e21c" stroke="#b2b000" stroke-width="0.9"/><ellipse cx="340.5" cy="333.9" rx="1.8" ry="3.6" fill="#e2e21c" stroke="#b2b000" stroke-width="0.9"/><ellipse cx="350.1" cy="328" rx="3.8" ry="4" fill="#e2e21c" stroke="#b2b000" stroke-width="0.9"/><ellipse cx="351.3" cy="335.8" rx="3.7" ry="4.3" fill="#e2e21c" stroke="#b2b000" stroke-width="0.9"/><ellipse cx="355.1" cy="333.9" rx="1.8" ry="3.6" fill="#e2e21c" stroke="#b2b000" stroke-width="0.9"/><ellipse cx="257.4" cy="343.4" rx="3.8" ry="4" fill="#e2e21c" stroke="#b2b000" stroke-width="0.9"/><ellipse cx="258.6" cy="351.2" rx="3.7" ry="4.3" fill="#e2e21c" stroke="#b2b000" stroke-width="0.9"/><ellipse cx="262.4" cy="349.3" rx="1.8" ry="3.6" fill="#e2e21c" stroke="#b2b000" stroke-width="0.9"/><ellipse cx="272" cy="343.4" rx="3.8" ry="4" fill="#e2e21c" stroke="#b2b000" stroke-width="0.9"/><ellipse cx="273.2" cy="351.2" rx="3.7" ry="4.3" fill="#e2e21c" stroke="#b2b000" stroke-width="0.9"/><ellipse cx="277" cy="349.3" rx="1.8" ry="3.6" fill="#e2e21c" stroke="#b2b000" stroke-width="0.9"/><ellipse cx="286.6" cy="343.4" rx="3.8" ry="4" fill="#e2e21c" stroke="#b2b000" stroke-width="0.9"/><ellipse cx="287.8" cy="351.2" rx="3.7" ry="4.3" fill="#e2e21c" stroke="#b2b000" stroke-width="0.9"/><ellipse cx="291.6" cy="349.3" rx="1.8" ry="3.6" fill="#e2e21c" stroke="#b2b000" stroke-width="0.9"/><ellipse cx="301.2" cy="343.4" rx="3.8" ry="4" fill="#e2e21c" stroke="#b2b000" stroke-width="0.9"/><ellipse cx="302.4" cy="351.2" rx="3.7" ry="4.3" fill="#e2e21c" stroke="#b2b000" stroke-width="0.9"/><ellipse cx="306.2" cy="349.3" rx="1.8" ry="3.6" fill="#e2e21c" stroke="#b2b000" stroke-width="0.9"/><ellipse cx="315.8" cy="343.4" rx="3.8" ry="4" fill="#e2e21c" stroke="#b2b000" stroke-width="0.9"/><ellipse cx="317" cy="351.2" rx="3.7" ry="4.3" fill="#e2e21c" stroke="#b2b000" stroke-width="0.9"/><ellipse cx="320.8" cy="349.3" rx="1.8" ry="3.6" fill="#e2e21c" stroke="#b2b000" stroke-width="0.9"/><ellipse cx="330.4" cy="343.4" rx="3.8" ry="4" fill="#e2e21c" stroke="#b2b000" stroke-width="0.9"/><ellipse cx="331.6" cy="351.2" rx="3.7" ry="4.3" fill="#e2e21c" stroke="#b2b000" stroke-width="0.9"/><ellipse cx="335.4" cy="349.3" rx="1.8" ry="3.6" fill="#e2e21c" stroke="#b2b000" stroke-width="0.9"/><ellipse cx="345" cy="343.4" rx="3.8" ry="4" fill="#e2e21c" stroke="#b2b000" stroke-width="0.9"/><ellipse cx="346.2" cy="351.2" rx="3.7" ry="4.3" fill="#e2e21c" stroke="#b2b000" stroke-width="0.9"/><ellipse cx="350" cy="349.3" rx="1.8" ry="3.6" fill="#e2e21c" stroke="#b2b000" stroke-width="0.9"/><ellipse cx="359.6" cy="343.4" rx="3.8" ry="4" fill="#e2e21c" stroke="#b2b000" stroke-width="0.9"/><ellipse cx="360.8" cy="351.2" rx="3.7" ry="4.3" fill="#e2e21c" stroke="#b2b000" stroke-width="0.9"/><ellipse cx="364.6" cy="349.3" rx="1.8" ry="3.6" fill="#e2e21c" stroke="#b2b000" stroke-width="0.9"/>
<path d="M247.1 327h0M261.7 327h0M276.3 327h0M290.9 327h0M305.5 327h0M320.1 327h0M334.7 327h0M349.3 327h0M256.6 342.4h0M271.2 342.4h0M285.8 342.4h0M300.4 342.4h0M315 342.4h0M329.6 342.4h0M344.2 342.4h0M358.8 342.4h0" stroke="#f0f070" stroke-width="2.6" stroke-linecap="round" fill="none"/>
<path d="M249.2 322.9L253.2 325.9M263.8 322.9L267.8 325.9M278.4 322.9L282.4 325.9M293 322.9L297 325.9M307.6 322.9L311.6 325.9M322.2 322.9L326.2 325.9M336.8 322.9L340.8 325.9M351.4 322.9L355.4 325.9M258.7 338.3L262.7 341.3M273.3 338.3L277.3 341.3M287.9 338.3L291.9 341.3M302.5 338.3L306.5 341.3M317.1 338.3L321.1 341.3M331.7 338.3L335.7 341.3M346.3 338.3L350.3 341.3M360.9 338.3L364.9 341.3" stroke="#a0dc48" stroke-width="2.4" stroke-linecap="round" fill="none"/>
<path d="M244.2 339.9h0M254.2 339.4h0M255.2 330.4h0M258.8 339.9h0M268.8 339.4h0M269.8 330.4h0M273.4 339.9h0M283.4 339.4h0M284.4 330.4h0M288 339.9h0M298 339.4h0M299 330.4h0M302.6 339.9h0M312.6 339.4h0M313.6 330.4h0M317.2 339.9h0M327.2 339.4h0M328.2 330.4h0M331.8 339.9h0M341.8 339.4h0M342.8 330.4h0M346.4 339.9h0M356.4 339.4h0M357.4 330.4h0M253.7 355.3h0M263.7 354.8h0M264.7 345.8h0M268.3 355.3h0M278.3 354.8h0M279.3 345.8h0M282.9 355.3h0M292.9 354.8h0M293.9 345.8h0M297.5 355.3h0M307.5 354.8h0M308.5 345.8h0M312.1 355.3h0M322.1 354.8h0M323.1 345.8h0M326.7 355.3h0M336.7 354.8h0M337.7 345.8h0M341.3 355.3h0M351.3 354.8h0M352.3 345.8h0M355.9 355.3h0M365.9 354.8h0M366.9 345.8h0" stroke="#9ad840" stroke-width="2.2" stroke-linecap="round" fill="none"/>
<path d="M247.7 332.4h0M262.3 332.4h0M276.9 332.4h0M291.5 332.4h0M306.1 332.4h0M320.7 332.4h0M335.3 332.4h0M349.9 332.4h0M257.2 347.8h0M271.8 347.8h0M286.4 347.8h0M301 347.8h0M315.6 347.8h0M330.2 347.8h0M344.8 347.8h0M359.4 347.8h0" stroke="#b02cd4" stroke-width="4.4" stroke-linecap="round" fill="none"/>
<path d="M247.2 331.9h0M261.8 331.9h0M276.4 331.9h0M291 331.9h0M305.6 331.9h0M320.2 331.9h0M334.8 331.9h0M349.4 331.9h0M256.7 347.3h0M271.3 347.3h0M285.9 347.3h0M300.5 347.3h0M315.1 347.3h0M329.7 347.3h0M344.3 347.3h0M358.9 347.3h0" stroke="#d060f0" stroke-width="1.8" stroke-linecap="round" fill="none"/>
<path d="M244.4 377.3L256.4 370.3M246.4 368.3L256.4 363.3M259 377.3L271 370.3M261 368.3L271 363.3M273.6 377.3L285.6 370.3M275.6 368.3L285.6 363.3M288.2 377.3L300.2 370.3M290.2 368.3L300.2 363.3M302.8 377.3L314.8 370.3M304.8 368.3L314.8 363.3M317.4 377.3L329.4 370.3M319.4 368.3L329.4 363.3M332 377.3L344 370.3M334 368.3L344 363.3M346.6 377.3L358.6 370.3M348.6 368.3L358.6 363.3M244.4 392.3L256.4 385.3M246.4 383.3L256.4 378.3M259 392.3L271 385.3M261 383.3L271 378.3M273.6 392.3L285.6 385.3M275.6 383.3L285.6 378.3M288.2 392.3L300.2 385.3M290.2 383.3L300.2 378.3M302.8 392.3L314.8 385.3M304.8 383.3L314.8 378.3M317.4 392.3L329.4 385.3M319.4 383.3L329.4 378.3M332 392.3L344 385.3M334 383.3L344 378.3M346.6 392.3L358.6 385.3M348.6 383.3L358.6 378.3" stroke="#b4b000" stroke-width="8" stroke-linecap="round" fill="none"/>
<path d="M244.4 377.3L256.4 370.3M246.4 368.3L256.4 363.3M259 377.3L271 370.3M261 368.3L271 363.3M273.6 377.3L285.6 370.3M275.6 368.3L285.6 363.3M288.2 377.3L300.2 370.3M290.2 368.3L300.2 363.3M302.8 377.3L314.8 370.3M304.8 368.3L314.8 363.3M317.4 377.3L329.4 370.3M319.4 368.3L329.4 363.3M332 377.3L344 370.3M334 368.3L344 363.3M346.6 377.3L358.6 370.3M348.6 368.3L358.6 363.3M244.4 392.3L256.4 385.3M246.4 383.3L256.4 378.3M259 392.3L271 385.3M261 383.3L271 378.3M273.6 392.3L285.6 385.3M275.6 383.3L285.6 378.3M288.2 392.3L300.2 385.3M290.2 383.3L300.2 378.3M302.8 392.3L314.8 385.3M304.8 383.3L314.8 378.3M317.4 392.3L329.4 385.3M319.4 383.3L329.4 378.3M332 392.3L344 385.3M334 383.3L344 378.3M346.6 392.3L358.6 385.3M348.6 383.3L358.6 378.3" stroke="#e2e222" stroke-width="6" stroke-linecap="round" fill="none"/>
<path d="M244.4 366.3h0M247 365h0M249.6 363.7h0M252.2 362.4h0M254.8 361.1h0M250.4 380.3h0M242.4 376.3h0M259 366.3h0M261.6 365h0M264.2 363.7h0M266.8 362.4h0M269.4 361.1h0M265 380.3h0M257 376.3h0M273.6 366.3h0M276.2 365h0M278.8 363.7h0M281.4 362.4h0M284 361.1h0M279.6 380.3h0M271.6 376.3h0M288.2 366.3h0M290.8 365h0M293.4 363.7h0M296 362.4h0M298.6 361.1h0M294.2 380.3h0M286.2 376.3h0M302.8 366.3h0M305.4 365h0M308 363.7h0M310.6 362.4h0M313.2 361.1h0M308.8 380.3h0M300.8 376.3h0M317.4 366.3h0M320 365h0M322.6 363.7h0M325.2 362.4h0M327.8 361.1h0M323.4 380.3h0M315.4 376.3h0M332 366.3h0M334.6 365h0M337.2 363.7h0M339.8 362.4h0M342.4 361.1h0M338 380.3h0M330 376.3h0M346.6 366.3h0M349.2 365h0M351.8 363.7h0M354.4 362.4h0M357 361.1h0M352.6 380.3h0M344.6 376.3h0M244.4 381.3h0M247 380h0M249.6 378.7h0M252.2 377.4h0M254.8 376.1h0M250.4 395.3h0M242.4 391.3h0M259 381.3h0M261.6 380h0M264.2 378.7h0M266.8 377.4h0M269.4 376.1h0M265 395.3h0M257 391.3h0M273.6 381.3h0M276.2 380h0M278.8 378.7h0M281.4 377.4h0M284 376.1h0M279.6 395.3h0M271.6 391.3h0M288.2 381.3h0M290.8 380h0M293.4 378.7h0M296 377.4h0M298.6 376.1h0M294.2 395.3h0M286.2 391.3h0M302.8 381.3h0M305.4 380h0M308 378.7h0M310.6 377.4h0M313.2 376.1h0M308.8 395.3h0M300.8 391.3h0M317.4 381.3h0M320 380h0M322.6 378.7h0M325.2 377.4h0M327.8 376.1h0M323.4 395.3h0M315.4 391.3h0M332 381.3h0M334.6 380h0M337.2 378.7h0M339.8 377.4h0M342.4 376.1h0M338 395.3h0M330 391.3h0M346.6 381.3h0M349.2 380h0M351.8 378.7h0M354.4 377.4h0M357 376.1h0M352.6 395.3h0M344.6 391.3h0" stroke="#a0dc48" stroke-width="2.2" stroke-linecap="round" fill="none"/>
<path d="M247.4 374.3L255.4 370.3M262 374.3L270 370.3M276.6 374.3L284.6 370.3M291.2 374.3L299.2 370.3M305.8 374.3L313.8 370.3M320.4 374.3L328.4 370.3M335 374.3L343 370.3M349.6 374.3L357.6 370.3M247.4 389.3L255.4 385.3M262 389.3L270 385.3M276.6 389.3L284.6 385.3M291.2 389.3L299.2 385.3M305.8 389.3L313.8 385.3M320.4 389.3L328.4 385.3M335 389.3L343 385.3M349.6 389.3L357.6 385.3" stroke="#a830cc" stroke-width="3.2" stroke-linecap="round" fill="none"/>
<path d="M247.4 374.3h0M262 374.3h0M276.6 374.3h0M291.2 374.3h0M305.8 374.3h0M320.4 374.3h0M335 374.3h0M349.6 374.3h0M247.4 389.3h0M262 389.3h0M276.6 389.3h0M291.2 389.3h0M305.8 389.3h0M320.4 389.3h0M335 389.3h0M349.6 389.3h0" stroke="#b838dc" stroke-width="4.4" stroke-linecap="round" fill="none"/>
<path d="M246.8 373.7h0M261.4 373.7h0M276 373.7h0M290.6 373.7h0M305.2 373.7h0M319.8 373.7h0M334.4 373.7h0M349 373.7h0M246.8 388.7h0M261.4 388.7h0M276 388.7h0M290.6 388.7h0M305.2 388.7h0M319.8 388.7h0M334.4 388.7h0M349 388.7h0" stroke="#d870f0" stroke-width="1.8" stroke-linecap="round" fill="none"/>
</g>
<g stroke="#111" stroke-width="0.8" fill="#111"><line x1="358" y1="350.2" x2="346" y2="341.2"/><path d="M344.2 340 L348 340.6 L346.3 343.2Z"/><line x1="358" y1="371.6" x2="346" y2="379.3"/><path d="M344.2 380.4 L346.1 377.3 L347.6 380Z"/></g>
<g stroke="#bbb" stroke-width="0.8"><line x1="362" y1="322" x2="362" y2="390.7"/><line x1="459" y1="322" x2="459" y2="390.7"/></g>
<rect x="357.7" y="324.3" width="106.1" height="27.8" fill="#c8c400"/>
<path d="M359.4 325.9V350.5M363.3 325.9V350.5M367.2 325.9V350.5M371.1 325.9V350.5M375 325.9V350.5M378.9 325.9V350.5M382.8 325.9V350.5M386.7 325.9V350.5M390.6 325.9V350.5M394.5 325.9V350.5M398.4 325.9V350.5M402.3 325.9V350.5M406.2 325.9V350.5M410.1 325.9V350.5M414 325.9V350.5M417.9 325.9V350.5M421.8 325.9V350.5M425.7 325.9V350.5M429.6 325.9V350.5M433.5 325.9V350.5M437.4 325.9V350.5M441.3 325.9V350.5M445.2 325.9V350.5M449.1 325.9V350.5M453 325.9V350.5M456.9 325.9V350.5M460.8 325.9V350.5" stroke="#dede14" stroke-width="2.8" stroke-linecap="round" fill="none"/>
<path d="M359 325.5h0M363.6 325.5h0M368.2 325.5h0M372.8 325.5h0M377.4 325.5h0M382 325.5h0M386.6 325.5h0M391.2 325.5h0M395.8 325.5h0M400.4 325.5h0M405 325.5h0M409.6 325.5h0M414.2 325.5h0M418.8 325.5h0M423.4 325.5h0M428 325.5h0M432.6 325.5h0M437.2 325.5h0M441.8 325.5h0M446.4 325.5h0M451 325.5h0M455.6 325.5h0M460.2 325.5h0M360.5 338.3h0M365.1 338.3h0M369.7 338.3h0M374.3 338.3h0M378.9 338.3h0M383.5 338.3h0M388.1 338.3h0M392.7 338.3h0M397.3 338.3h0M401.9 338.3h0M406.5 338.3h0M411.1 338.3h0M415.7 338.3h0M420.3 338.3h0M424.9 338.3h0M429.5 338.3h0M434.1 338.3h0M438.7 338.3h0M443.3 338.3h0M447.9 338.3h0M452.5 338.3h0M457.1 338.3h0M461.7 338.3h0M359 350.9h0M363.6 350.9h0M368.2 350.9h0M372.8 350.9h0M377.4 350.9h0M382 350.9h0M386.6 350.9h0M391.2 350.9h0M395.8 350.9h0M400.4 350.9h0M405 350.9h0M409.6 350.9h0M414.2 350.9h0M418.8 350.9h0M423.4 350.9h0M428 350.9h0M432.6 350.9h0M437.2 350.9h0M441.8 350.9h0M446.4 350.9h0M451 350.9h0M455.6 350.9h0M460.2 350.9h0" stroke="#a6e048" stroke-width="1.8" stroke-linecap="round" fill="none"/>
<rect x="357.7" y="330.1" width="106.1" height="3.4" fill="#a22ec8"/>
<line x1="360" y1="331.8" x2="463.8" y2="331.8" stroke="#f0b8ff" stroke-width="2.2" stroke-linecap="round" stroke-dasharray="0 8"/>
<rect x="357.7" y="343.1" width="106.1" height="3.4" fill="#a22ec8"/>
<line x1="360" y1="344.8" x2="463.8" y2="344.8" stroke="#f0b8ff" stroke-width="2.2" stroke-linecap="round" stroke-dasharray="0 8"/>
<rect x="357.7" y="360" width="106.1" height="27.7" fill="#c8c400"/>
<path d="M359.4 361.6V386.1M363.3 361.6V386.1M367.2 361.6V386.1M371.1 361.6V386.1M375 361.6V386.1M378.9 361.6V386.1M382.8 361.6V386.1M386.7 361.6V386.1M390.6 361.6V386.1M394.5 361.6V386.1M398.4 361.6V386.1M402.3 361.6V386.1M406.2 361.6V386.1M410.1 361.6V386.1M414 361.6V386.1M417.9 361.6V386.1M421.8 361.6V386.1M425.7 361.6V386.1M429.6 361.6V386.1M433.5 361.6V386.1M437.4 361.6V386.1M441.3 361.6V386.1M445.2 361.6V386.1M449.1 361.6V386.1M453 361.6V386.1M456.9 361.6V386.1M460.8 361.6V386.1" stroke="#dede14" stroke-width="2.8" stroke-linecap="round" fill="none"/>
<path d="M359 361.2h0M363.6 361.2h0M368.2 361.2h0M372.8 361.2h0M377.4 361.2h0M382 361.2h0M386.6 361.2h0M391.2 361.2h0M395.8 361.2h0M400.4 361.2h0M405 361.2h0M409.6 361.2h0M414.2 361.2h0M418.8 361.2h0M423.4 361.2h0M428 361.2h0M432.6 361.2h0M437.2 361.2h0M441.8 361.2h0M446.4 361.2h0M451 361.2h0M455.6 361.2h0M460.2 361.2h0M360.5 373.6h0M365.1 373.6h0M369.7 373.6h0M374.3 373.6h0M378.9 373.6h0M383.5 373.6h0M388.1 373.6h0M392.7 373.6h0M397.3 373.6h0M401.9 373.6h0M406.5 373.6h0M411.1 373.6h0M415.7 373.6h0M420.3 373.6h0M424.9 373.6h0M429.5 373.6h0M434.1 373.6h0M438.7 373.6h0M443.3 373.6h0M447.9 373.6h0M452.5 373.6h0M457.1 373.6h0M461.7 373.6h0M359 386.5h0M363.6 386.5h0M368.2 386.5h0M372.8 386.5h0M377.4 386.5h0M382 386.5h0M386.6 386.5h0M391.2 386.5h0M395.8 386.5h0M400.4 386.5h0M405 386.5h0M409.6 386.5h0M414.2 386.5h0M418.8 386.5h0M423.4 386.5h0M428 386.5h0M432.6 386.5h0M437.2 386.5h0M441.8 386.5h0M446.4 386.5h0M451 386.5h0M455.6 386.5h0M460.2 386.5h0" stroke="#a6e048" stroke-width="1.8" stroke-linecap="round" fill="none"/>
<rect x="357.7" y="365.2" width="106.1" height="3.4" fill="#a22ec8"/>
<line x1="360" y1="366.9" x2="463.8" y2="366.9" stroke="#f0b8ff" stroke-width="2.2" stroke-linecap="round" stroke-dasharray="0 8"/>
<rect x="357.7" y="378.7" width="106.1" height="3.4" fill="#a22ec8"/>
<line x1="360" y1="380.4" x2="463.8" y2="380.4" stroke="#f0b8ff" stroke-width="2.2" stroke-linecap="round" stroke-dasharray="0 8"/>
<g stroke-width="1"><line x1="353.2" y1="401.3" x2="364" y2="401.3" stroke="#40a040"/><path d="M363.5 399.8 L366.5 401.3 L363.5 402.8Z" fill="#40a040"/><line x1="353.2" y1="401.3" x2="353.2" y2="390.5" stroke="#2a7ad0"/><path d="M351.8 391 L353.2 388 L354.6 391Z" fill="#2a7ad0"/></g>
<circle cx="353.2" cy="401.4" r="2.3" fill="#e86a18"/>
<text x="351" y="386.4" font-family="Liberation Serif, serif" font-weight="bold" font-size="8" fill="#111">c</text>
<text x="367.2" y="404.2" font-family="Liberation Serif, serif" font-weight="bold" font-size="8" fill="#111">b</text>
</svg></body></html>
